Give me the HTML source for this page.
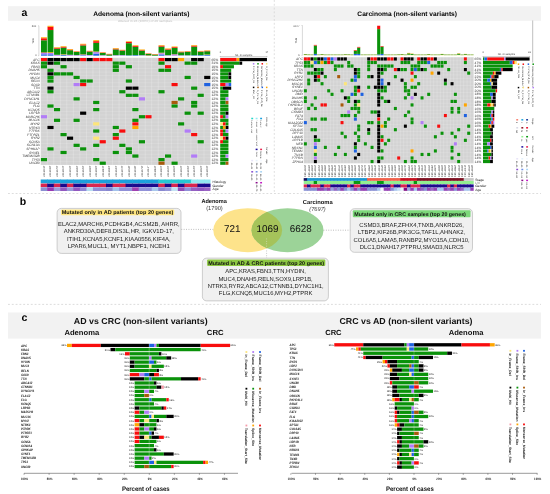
<!DOCTYPE html>
<html lang="en">
<head>
<meta charset="utf-8">
<title>Adenoma vs carcinoma non-silent variants</title>
<style>html,body{margin:0;padding:0;background:#fff}svg{display:block}text{white-space:pre;text-rendering:geometricPrecision}</style>
</head>
<body>
<svg width="550" height="494" viewBox="0 0 550 494" font-family='&quot;Liberation Sans&quot;, Arial, sans-serif'>
<rect x="0" y="0" width="550" height="494" fill="#ffffff"/>
<rect x="8" y="6.2" width="533" height="14.6" fill="#f2f2f2"/>
<rect x="8" y="312.5" width="533" height="26.1" fill="#f2f2f2"/>
<line x1="274.3" y1="0" x2="274.3" y2="192" stroke="#d2d2d2" stroke-width="0.7" stroke-dasharray="1.9 1.9"/>
<line x1="8" y1="193.5" x2="541" y2="193.5" stroke="#cfcfcf" stroke-width="0.7" stroke-dasharray="1.9 1.9"/>
<line x1="8" y1="304.4" x2="541" y2="304.4" stroke="#cfcfcf" stroke-width="0.7" stroke-dasharray="1.9 1.9"/>
<text x="21.6" y="16.4" font-size="10.5" font-weight="bold">a</text>
<text x="19.8" y="204.8" font-size="10.5" font-weight="bold">b</text>
<text x="21.4" y="320.6" font-size="10.5" font-weight="bold">c</text>
<text x="141.3" y="15.6" font-size="6.5" text-anchor="middle" font-weight="bold" textLength="96.2" lengthAdjust="spacingAndGlyphs">Adenoma (non-silent variants)</text>
<text x="407.2" y="15.6" font-size="6.5" text-anchor="middle" font-weight="bold" textLength="99.7" lengthAdjust="spacingAndGlyphs">Carcinoma (non-silent variants)</text>
<text x="145.5" y="22.1" font-size="2.9" text-anchor="middle" fill="#aaa" opacity="0.75" textLength="55" lengthAdjust="spacingAndGlyphs">Altered in 26 (100%) of 26 samples.</text>
<rect x="40.7" y="57.8" width="169.81" height="107.19" fill="#d3d3d3"/>
<path d="M40.7 57.8V164.99M47.23 57.8V164.99M53.76 57.8V164.99M60.29 57.8V164.99M66.82 57.8V164.99M73.36 57.8V164.99M79.89 57.8V164.99M86.42 57.8V164.99M92.95 57.8V164.99M99.48 57.8V164.99M106.01 57.8V164.99M112.54 57.8V164.99M119.07 57.8V164.99M125.6 57.8V164.99M132.13 57.8V164.99M138.66 57.8V164.99M145.2 57.8V164.99M151.73 57.8V164.99M158.26 57.8V164.99M164.79 57.8V164.99M171.32 57.8V164.99M177.85 57.8V164.99M184.38 57.8V164.99M190.91 57.8V164.99M197.44 57.8V164.99M203.98 57.8V164.99M210.51 57.8V164.99" stroke="#fff" stroke-width="0.42" fill="none" opacity="0.5"/>
<path d="M40.7 57.8H210.51M40.7 61.37H210.51M40.7 64.95H210.51M40.7 68.52H210.51M40.7 72.09H210.51M40.7 75.66H210.51M40.7 79.24H210.51M40.7 82.81H210.51M40.7 86.38H210.51M40.7 89.96H210.51M40.7 93.53H210.51M40.7 97.1H210.51M40.7 100.68H210.51M40.7 104.25H210.51M40.7 107.82H210.51M40.7 111.39H210.51M40.7 114.97H210.51M40.7 118.54H210.51M40.7 122.11H210.51M40.7 125.69H210.51M40.7 129.26H210.51M40.7 132.83H210.51M40.7 136.41H210.51M40.7 139.98H210.51M40.7 143.55H210.51M40.7 147.12H210.51M40.7 150.7H210.51M40.7 154.27H210.51M40.7 157.84H210.51M40.7 161.42H210.51M40.7 164.99H210.51" stroke="#fff" stroke-width="0.36" fill="none" opacity="0.4"/>
<rect x="40.91" y="57.98" width="6.11" height="3.21" fill="#f80d0d"/>
<rect x="47.44" y="57.98" width="6.11" height="3.21" fill="#000000"/>
<rect x="53.97" y="57.98" width="6.11" height="3.21" fill="#000000"/>
<rect x="60.5" y="57.98" width="6.11" height="3.21" fill="#000000"/>
<rect x="67.03" y="57.98" width="6.11" height="3.21" fill="#000000"/>
<rect x="73.56" y="57.98" width="6.11" height="3.21" fill="#000000"/>
<rect x="80.1" y="57.98" width="6.11" height="3.21" fill="#f80d0d"/>
<rect x="86.63" y="57.98" width="6.11" height="3.21" fill="#000000"/>
<rect x="93.16" y="57.98" width="6.11" height="3.21" fill="#f80d0d"/>
<rect x="99.69" y="57.98" width="6.11" height="3.21" fill="#f80d0d"/>
<rect x="106.22" y="57.98" width="6.11" height="3.21" fill="#f80d0d"/>
<rect x="158.47" y="57.98" width="6.11" height="3.21" fill="#f80d0d"/>
<rect x="165" y="57.98" width="6.11" height="3.21" fill="#000000"/>
<rect x="171.53" y="57.98" width="6.11" height="3.21" fill="#000000"/>
<rect x="178.06" y="57.98" width="6.11" height="3.21" fill="#ffa500"/>
<rect x="191.12" y="57.98" width="6.11" height="3.21" fill="#000000"/>
<rect x="197.65" y="57.98" width="6.11" height="3.21" fill="#000000"/>
<rect x="40.91" y="61.55" width="6.11" height="3.21" fill="#0a920a"/>
<rect x="47.44" y="61.55" width="6.11" height="3.21" fill="#000000"/>
<rect x="53.97" y="61.55" width="6.11" height="3.21" fill="#0a920a"/>
<rect x="112.75" y="61.55" width="6.11" height="3.21" fill="#0a920a"/>
<rect x="119.28" y="61.55" width="6.11" height="3.21" fill="#0a920a"/>
<rect x="158.47" y="61.55" width="6.11" height="3.21" fill="#0a920a"/>
<rect x="184.59" y="61.55" width="6.11" height="3.21" fill="#0a920a"/>
<rect x="191.12" y="61.55" width="6.11" height="3.21" fill="#0a920a"/>
<rect x="40.91" y="65.13" width="6.11" height="3.21" fill="#0a920a"/>
<rect x="60.5" y="65.13" width="6.11" height="3.21" fill="#0a920a"/>
<rect x="112.75" y="65.13" width="6.11" height="3.21" fill="#0a920a"/>
<rect x="125.81" y="65.13" width="6.11" height="3.21" fill="#0a920a"/>
<rect x="165" y="65.13" width="6.11" height="3.21" fill="#f80d0d"/>
<rect x="47.44" y="68.7" width="6.11" height="3.21" fill="#0a920a"/>
<rect x="112.75" y="68.7" width="6.11" height="3.21" fill="#0a920a"/>
<rect x="158.47" y="68.7" width="6.11" height="3.21" fill="#0a920a"/>
<rect x="165" y="68.7" width="6.11" height="3.21" fill="#0a920a"/>
<rect x="47.44" y="72.27" width="6.11" height="3.21" fill="#000000"/>
<rect x="53.97" y="72.27" width="6.11" height="3.21" fill="#0a920a"/>
<rect x="60.5" y="72.27" width="6.11" height="3.21" fill="#0a920a"/>
<rect x="67.03" y="72.27" width="6.11" height="3.21" fill="#0a920a"/>
<rect x="47.44" y="75.84" width="6.11" height="3.21" fill="#0a920a"/>
<rect x="73.56" y="75.84" width="6.11" height="3.21" fill="#0a920a"/>
<rect x="184.59" y="75.84" width="6.11" height="3.21" fill="#0a920a"/>
<rect x="204.19" y="75.84" width="6.11" height="3.21" fill="#000000"/>
<rect x="47.44" y="79.42" width="6.11" height="3.21" fill="#0a920a"/>
<rect x="80.1" y="79.42" width="6.11" height="3.21" fill="#0a920a"/>
<rect x="86.63" y="79.42" width="6.11" height="3.21" fill="#0a920a"/>
<rect x="125.81" y="79.42" width="6.11" height="3.21" fill="#0a920a"/>
<rect x="73.56" y="82.99" width="6.11" height="3.21" fill="#b27cf7"/>
<rect x="80.1" y="82.99" width="6.11" height="3.21" fill="#f80d0d"/>
<rect x="171.53" y="82.99" width="6.11" height="3.21" fill="#f80d0d"/>
<rect x="204.19" y="82.99" width="6.11" height="3.21" fill="#1f62e0"/>
<rect x="47.44" y="86.56" width="6.11" height="3.21" fill="#000000"/>
<rect x="125.81" y="86.56" width="6.11" height="3.21" fill="#000000"/>
<rect x="132.34" y="86.56" width="6.11" height="3.21" fill="#000000"/>
<rect x="191.12" y="86.56" width="6.11" height="3.21" fill="#0a920a"/>
<rect x="47.44" y="90.14" width="6.11" height="3.21" fill="#0a920a"/>
<rect x="119.28" y="90.14" width="6.11" height="3.21" fill="#0a920a"/>
<rect x="158.47" y="90.14" width="6.11" height="3.21" fill="#0a920a"/>
<rect x="125.81" y="93.71" width="6.11" height="3.21" fill="#0a920a"/>
<rect x="132.34" y="93.71" width="6.11" height="3.21" fill="#0a920a"/>
<rect x="197.65" y="93.71" width="6.11" height="3.21" fill="#0a920a"/>
<rect x="73.56" y="97.28" width="6.11" height="3.21" fill="#0a920a"/>
<rect x="138.88" y="97.28" width="6.11" height="3.21" fill="#b27cf7"/>
<rect x="178.06" y="97.28" width="6.11" height="3.21" fill="#0a920a"/>
<rect x="93.16" y="100.86" width="6.11" height="3.21" fill="#0a920a"/>
<rect x="171.53" y="100.86" width="6.11" height="3.21" fill="#a85a0c"/>
<rect x="191.12" y="100.86" width="6.11" height="3.21" fill="#0a920a"/>
<rect x="47.44" y="104.43" width="6.11" height="3.21" fill="#0a920a"/>
<rect x="171.53" y="104.43" width="6.11" height="3.21" fill="#0a920a"/>
<rect x="191.12" y="104.43" width="6.11" height="3.21" fill="#0a920a"/>
<rect x="53.97" y="108" width="6.11" height="3.21" fill="#0a920a"/>
<rect x="93.16" y="108" width="6.11" height="3.21" fill="#0a920a"/>
<rect x="132.34" y="108" width="6.11" height="3.21" fill="#0a920a"/>
<rect x="80.1" y="111.58" width="6.11" height="3.21" fill="#000000"/>
<rect x="184.59" y="111.58" width="6.11" height="3.21" fill="#0a920a"/>
<rect x="197.65" y="111.58" width="6.11" height="3.21" fill="#0a920a"/>
<rect x="40.91" y="115.15" width="6.11" height="3.21" fill="#b27cf7"/>
<rect x="138.88" y="115.15" width="6.11" height="3.21" fill="#0a920a"/>
<rect x="145.41" y="115.15" width="6.11" height="3.21" fill="#f80d0d"/>
<rect x="53.97" y="118.72" width="6.11" height="3.21" fill="#0a920a"/>
<rect x="73.56" y="118.72" width="6.11" height="3.21" fill="#0a920a"/>
<rect x="132.34" y="118.72" width="6.11" height="3.21" fill="#0a920a"/>
<rect x="93.16" y="122.29" width="6.11" height="3.21" fill="#fde57a"/>
<rect x="132.34" y="122.29" width="6.11" height="3.21" fill="#f80d0d"/>
<rect x="178.06" y="122.29" width="6.11" height="3.21" fill="#0a920a"/>
<rect x="47.44" y="125.87" width="6.11" height="3.21" fill="#000000"/>
<rect x="112.75" y="125.87" width="6.11" height="3.21" fill="#0a920a"/>
<rect x="132.34" y="125.87" width="6.11" height="3.21" fill="#ffa500"/>
<rect x="93.16" y="129.44" width="6.11" height="3.21" fill="#0a920a"/>
<rect x="119.28" y="129.44" width="6.11" height="3.21" fill="#f80d0d"/>
<rect x="184.59" y="129.44" width="6.11" height="3.21" fill="#b27cf7"/>
<rect x="60.5" y="133.01" width="6.11" height="3.21" fill="#0a920a"/>
<rect x="112.75" y="133.01" width="6.11" height="3.21" fill="#0a920a"/>
<rect x="191.12" y="133.01" width="6.11" height="3.21" fill="#f80d0d"/>
<rect x="67.03" y="136.59" width="6.11" height="3.21" fill="#000000"/>
<rect x="93.16" y="136.59" width="6.11" height="3.21" fill="#fde57a"/>
<rect x="112.75" y="136.59" width="6.11" height="3.21" fill="#f80d0d"/>
<rect x="99.69" y="140.16" width="6.11" height="3.21" fill="#f80d0d"/>
<rect x="138.88" y="140.16" width="6.11" height="3.21" fill="#0a920a"/>
<rect x="197.65" y="140.16" width="6.11" height="3.21" fill="#0a920a"/>
<rect x="73.56" y="143.73" width="6.11" height="3.21" fill="#0a920a"/>
<rect x="93.16" y="143.73" width="6.11" height="3.21" fill="#0a920a"/>
<rect x="119.28" y="143.73" width="6.11" height="3.21" fill="#0a920a"/>
<rect x="47.44" y="147.31" width="6.11" height="3.21" fill="#0a920a"/>
<rect x="80.1" y="147.31" width="6.11" height="3.21" fill="#0a920a"/>
<rect x="125.81" y="147.31" width="6.11" height="3.21" fill="#0a920a"/>
<rect x="60.5" y="150.88" width="6.11" height="3.21" fill="#0a920a"/>
<rect x="112.75" y="150.88" width="6.11" height="3.21" fill="#0a920a"/>
<rect x="125.81" y="150.88" width="6.11" height="3.21" fill="#0a920a"/>
<rect x="132.34" y="154.45" width="6.11" height="3.21" fill="#0a920a"/>
<rect x="165" y="154.45" width="6.11" height="3.21" fill="#0a920a"/>
<rect x="191.12" y="154.45" width="6.11" height="3.21" fill="#b27cf7"/>
<rect x="40.91" y="158.02" width="6.11" height="3.21" fill="#0a920a"/>
<rect x="93.16" y="158.02" width="6.11" height="3.21" fill="#0a920a"/>
<rect x="158.47" y="158.02" width="6.11" height="3.21" fill="#0a920a"/>
<rect x="99.69" y="161.6" width="6.11" height="3.21" fill="#0a920a"/>
<rect x="158.47" y="161.6" width="6.11" height="3.21" fill="#a85a0c"/>
<rect x="171.53" y="161.6" width="6.11" height="3.21" fill="#0a920a"/>
<rect x="41" y="54.3" width="5.93" height="1.4" fill="#1f62e0"/>
<rect x="41" y="52.8" width="5.93" height="1.5" fill="#b27cf7"/>
<rect x="41" y="52.2" width="5.93" height="0.6" fill="#a85a0c"/>
<rect x="41" y="40.27" width="5.93" height="11.93" fill="#0a920a"/>
<rect x="41" y="38.25" width="5.93" height="2.02" fill="#f80d0d"/>
<rect x="41" y="37.3" width="5.93" height="0.95" fill="#ffa500"/>
<rect x="47.53" y="54.3" width="5.93" height="1.4" fill="#1f62e0"/>
<rect x="47.53" y="53" width="5.93" height="1.3" fill="#b27cf7"/>
<rect x="47.53" y="52.2" width="5.93" height="0.8" fill="#ffa500"/>
<rect x="47.53" y="30.04" width="5.93" height="22.16" fill="#0a920a"/>
<rect x="47.53" y="26.75" width="5.93" height="3.29" fill="#f80d0d"/>
<rect x="47.53" y="25.8" width="5.93" height="0.95" fill="#ffa500"/>
<rect x="54.06" y="54.8" width="5.93" height="0.9" fill="#b27cf7"/>
<rect x="54.06" y="48.66" width="5.93" height="6.14" fill="#0a920a"/>
<rect x="54.06" y="47.95" width="5.93" height="0.71" fill="#f80d0d"/>
<rect x="54.06" y="47.3" width="5.93" height="0.65" fill="#ffa500"/>
<rect x="60.59" y="54.7" width="5.93" height="1" fill="#1f62e0"/>
<rect x="60.59" y="54.2" width="5.93" height="0.5" fill="#ffa500"/>
<rect x="60.59" y="47.66" width="5.93" height="6.54" fill="#0a920a"/>
<rect x="60.59" y="46.85" width="5.93" height="0.81" fill="#f80d0d"/>
<rect x="60.59" y="46.2" width="5.93" height="0.65" fill="#ffa500"/>
<rect x="67.12" y="54.8" width="5.93" height="0.9" fill="#b27cf7"/>
<rect x="67.12" y="50.22" width="5.93" height="4.58" fill="#0a920a"/>
<rect x="67.12" y="49.65" width="5.93" height="0.57" fill="#f80d0d"/>
<rect x="67.12" y="49" width="5.93" height="0.65" fill="#ffa500"/>
<rect x="73.66" y="55.1" width="5.93" height="0.6" fill="#b27cf7"/>
<rect x="73.66" y="52" width="5.93" height="3.1" fill="#0a920a"/>
<rect x="73.66" y="51.6" width="5.93" height="0.4" fill="#f80d0d"/>
<rect x="73.66" y="51.2" width="5.93" height="0.4" fill="#ffa500"/>
<rect x="80.19" y="55.2" width="5.93" height="0.5" fill="#1f62e0"/>
<rect x="80.19" y="54.7" width="5.93" height="0.5" fill="#b27cf7"/>
<rect x="80.19" y="54.2" width="5.93" height="0.5" fill="#a85a0c"/>
<rect x="80.19" y="45.46" width="5.93" height="8.74" fill="#0a920a"/>
<rect x="80.19" y="44.45" width="5.93" height="1.01" fill="#f80d0d"/>
<rect x="80.19" y="43.8" width="5.93" height="0.65" fill="#ffa500"/>
<rect x="86.72" y="55" width="5.93" height="0.7" fill="#b27cf7"/>
<rect x="86.72" y="51.62" width="5.93" height="3.38" fill="#0a920a"/>
<rect x="86.72" y="51.2" width="5.93" height="0.42" fill="#f80d0d"/>
<rect x="86.72" y="50.8" width="5.93" height="0.4" fill="#ffa500"/>
<rect x="93.25" y="53.6" width="5.93" height="2.1" fill="#1f62e0"/>
<rect x="93.25" y="52.1" width="5.93" height="1.5" fill="#b27cf7"/>
<rect x="93.25" y="51.5" width="5.93" height="0.6" fill="#ffa500"/>
<rect x="93.25" y="42.85" width="5.93" height="8.65" fill="#0a920a"/>
<rect x="93.25" y="41.15" width="5.93" height="1.7" fill="#f80d0d"/>
<rect x="93.25" y="40.2" width="5.93" height="0.95" fill="#ffa500"/>
<rect x="99.78" y="55.2" width="5.93" height="0.5" fill="#b27cf7"/>
<rect x="99.78" y="53" width="5.93" height="2.2" fill="#0a920a"/>
<rect x="99.78" y="52.6" width="5.93" height="0.4" fill="#f80d0d"/>
<rect x="99.78" y="52.2" width="5.93" height="0.4" fill="#ffa500"/>
<rect x="106.31" y="54.45" width="5.93" height="1.25" fill="#0a920a"/>
<rect x="106.31" y="54.1" width="5.93" height="0.35" fill="#f80d0d"/>
<rect x="106.31" y="53.8" width="5.93" height="0.3" fill="#ffa500"/>
<rect x="112.84" y="55.2" width="5.93" height="0.5" fill="#b27cf7"/>
<rect x="112.84" y="49.4" width="5.93" height="5.8" fill="#0a920a"/>
<rect x="112.84" y="48.75" width="5.93" height="0.65" fill="#f80d0d"/>
<rect x="112.84" y="48.1" width="5.93" height="0.65" fill="#ffa500"/>
<rect x="119.37" y="55.1" width="5.93" height="0.6" fill="#b27cf7"/>
<rect x="119.37" y="50.7" width="5.93" height="4.4" fill="#0a920a"/>
<rect x="119.37" y="50.2" width="5.93" height="0.5" fill="#f80d0d"/>
<rect x="119.37" y="49.8" width="5.93" height="0.4" fill="#ffa500"/>
<rect x="125.9" y="55.3" width="5.93" height="0.4" fill="#1f62e0"/>
<rect x="125.9" y="43.17" width="5.93" height="12.13" fill="#0a920a"/>
<rect x="125.9" y="41.95" width="5.93" height="1.22" fill="#f80d0d"/>
<rect x="125.9" y="41.3" width="5.93" height="0.65" fill="#ffa500"/>
<rect x="132.43" y="55.1" width="5.93" height="0.6" fill="#1f62e0"/>
<rect x="132.43" y="46.83" width="5.93" height="8.27" fill="#0a920a"/>
<rect x="132.43" y="45.95" width="5.93" height="0.88" fill="#f80d0d"/>
<rect x="132.43" y="45.3" width="5.93" height="0.65" fill="#ffa500"/>
<rect x="138.97" y="55.2" width="5.93" height="0.5" fill="#b27cf7"/>
<rect x="138.97" y="50.68" width="5.93" height="4.52" fill="#0a920a"/>
<rect x="138.97" y="50.15" width="5.93" height="0.53" fill="#f80d0d"/>
<rect x="138.97" y="49.5" width="5.93" height="0.65" fill="#ffa500"/>
<rect x="145.5" y="55.2" width="5.93" height="0.5" fill="#a85a0c"/>
<rect x="145.5" y="53.95" width="5.93" height="1.25" fill="#0a920a"/>
<rect x="145.5" y="53.6" width="5.93" height="0.35" fill="#f80d0d"/>
<rect x="145.5" y="53.3" width="5.93" height="0.3" fill="#ffa500"/>
<rect x="152.03" y="54.65" width="5.93" height="1.05" fill="#0a920a"/>
<rect x="152.03" y="54.3" width="5.93" height="0.35" fill="#f80d0d"/>
<rect x="152.03" y="54" width="5.93" height="0.3" fill="#ffa500"/>
<rect x="158.56" y="54.4" width="5.93" height="1.3" fill="#1f62e0"/>
<rect x="158.56" y="53.2" width="5.93" height="1.2" fill="#b27cf7"/>
<rect x="158.56" y="52.7" width="5.93" height="0.5" fill="#ffa500"/>
<rect x="158.56" y="46.65" width="5.93" height="6.05" fill="#0a920a"/>
<rect x="158.56" y="45.75" width="5.93" height="0.9" fill="#f80d0d"/>
<rect x="158.56" y="45.1" width="5.93" height="0.65" fill="#ffa500"/>
<rect x="165.09" y="55.2" width="5.93" height="0.5" fill="#b27cf7"/>
<rect x="165.09" y="49.76" width="5.93" height="5.44" fill="#0a920a"/>
<rect x="165.09" y="49.15" width="5.93" height="0.61" fill="#f80d0d"/>
<rect x="165.09" y="48.5" width="5.93" height="0.65" fill="#ffa500"/>
<rect x="171.62" y="54.4" width="5.93" height="1.3" fill="#b27cf7"/>
<rect x="171.62" y="54.1" width="5.93" height="0.3" fill="#a85a0c"/>
<rect x="171.62" y="47.93" width="5.93" height="6.17" fill="#0a920a"/>
<rect x="171.62" y="47.15" width="5.93" height="0.78" fill="#f80d0d"/>
<rect x="171.62" y="46.5" width="5.93" height="0.65" fill="#ffa500"/>
<rect x="178.15" y="55.3" width="5.93" height="0.4" fill="#b27cf7"/>
<rect x="178.15" y="52.3" width="5.93" height="3" fill="#0a920a"/>
<rect x="178.15" y="51.9" width="5.93" height="0.4" fill="#f80d0d"/>
<rect x="178.15" y="51.5" width="5.93" height="0.4" fill="#ffa500"/>
<rect x="184.68" y="55.3" width="5.93" height="0.4" fill="#b27cf7"/>
<rect x="184.68" y="51.9" width="5.93" height="3.4" fill="#0a920a"/>
<rect x="184.68" y="51.5" width="5.93" height="0.4" fill="#f80d0d"/>
<rect x="184.68" y="51.1" width="5.93" height="0.4" fill="#ffa500"/>
<rect x="191.21" y="55.2" width="5.93" height="0.5" fill="#1f62e0"/>
<rect x="191.21" y="46.65" width="5.93" height="8.55" fill="#0a920a"/>
<rect x="191.21" y="45.75" width="5.93" height="0.9" fill="#f80d0d"/>
<rect x="191.21" y="45.1" width="5.93" height="0.65" fill="#ffa500"/>
<rect x="197.74" y="55.1" width="5.93" height="0.6" fill="#1f62e0"/>
<rect x="197.74" y="51.71" width="5.93" height="3.39" fill="#0a920a"/>
<rect x="197.74" y="51.3" width="5.93" height="0.41" fill="#f80d0d"/>
<rect x="197.74" y="50.9" width="5.93" height="0.4" fill="#ffa500"/>
<rect x="204.28" y="54.9" width="5.93" height="0.8" fill="#1f62e0"/>
<rect x="204.28" y="54.5" width="5.93" height="0.4" fill="#ffa500"/>
<rect x="204.28" y="51.25" width="5.93" height="3.25" fill="#0a920a"/>
<rect x="204.28" y="50.8" width="5.93" height="0.45" fill="#f80d0d"/>
<rect x="204.28" y="50.4" width="5.93" height="0.4" fill="#ffa500"/>
<line x1="38.9" y1="25.8" x2="38.9" y2="55.7" stroke="#a8a8a8" stroke-width="0.45"/>
<line x1="38" y1="25.8" x2="38.9" y2="25.8" stroke="#9a9a9a" stroke-width="0.4"/>
<line x1="38" y1="55.7" x2="38.9" y2="55.7" stroke="#9a9a9a" stroke-width="0.4"/>
<text x="36.2" y="27" font-size="2.6" text-anchor="end" fill="#444">200</text>
<text x="36.6" y="56.3" font-size="2.6" text-anchor="end" fill="#444">0</text>
<text x="33.8" y="41" font-size="2.6" text-anchor="middle" fill="#444" transform="rotate(-90 33.8 41)">TMB</text>
<text x="39.7" y="60.74" font-size="3.3" text-anchor="end" font-style="italic" fill="#2a2a2a">APC</text>
<text x="211.4" y="60.74" font-size="3.4" fill="#333">65%</text>
<text x="39.7" y="64.31" font-size="3.3" text-anchor="end" font-style="italic" fill="#2a2a2a">KRAS</text>
<text x="211.4" y="64.31" font-size="3.4" fill="#333">31%</text>
<text x="39.7" y="67.88" font-size="3.3" text-anchor="end" font-style="italic" fill="#2a2a2a">FBN3</text>
<text x="211.4" y="67.88" font-size="3.4" fill="#333">19%</text>
<text x="39.7" y="71.46" font-size="3.3" text-anchor="end" font-style="italic" fill="#2a2a2a">DNAH5</text>
<text x="211.4" y="71.46" font-size="3.4" fill="#333">15%</text>
<text x="39.7" y="75.03" font-size="3.3" text-anchor="end" font-style="italic" fill="#2a2a2a">HYDIN</text>
<text x="211.4" y="75.03" font-size="3.4" fill="#333">15%</text>
<text x="39.7" y="78.6" font-size="3.3" text-anchor="end" font-style="italic" fill="#2a2a2a">MUC4</text>
<text x="211.4" y="78.6" font-size="3.4" fill="#333">15%</text>
<text x="39.7" y="82.17" font-size="3.3" text-anchor="end" font-style="italic" fill="#2a2a2a">RELN</text>
<text x="211.4" y="82.17" font-size="3.4" fill="#333">15%</text>
<text x="39.7" y="85.75" font-size="3.3" text-anchor="end" font-style="italic" fill="#2a2a2a">SOX9</text>
<text x="211.4" y="85.75" font-size="3.4" fill="#333">15%</text>
<text x="39.7" y="89.32" font-size="3.3" text-anchor="end" font-style="italic" fill="#2a2a2a">TTN</text>
<text x="211.4" y="89.32" font-size="3.4" fill="#333">15%</text>
<text x="39.7" y="92.89" font-size="3.3" text-anchor="end" font-style="italic" fill="#2a2a2a">ABCA12</text>
<text x="211.4" y="92.89" font-size="3.4" fill="#333">12%</text>
<text x="39.7" y="96.47" font-size="3.3" text-anchor="end" font-style="italic" fill="#2a2a2a">CTNNB1</text>
<text x="211.4" y="96.47" font-size="3.4" fill="#333">12%</text>
<text x="39.7" y="100.04" font-size="3.3" text-anchor="end" font-style="italic" fill="#2a2a2a">DYNC1H1</text>
<text x="211.4" y="100.04" font-size="3.4" fill="#333">12%</text>
<text x="39.7" y="103.61" font-size="3.3" text-anchor="end" font-style="italic" fill="#2a2a2a">ELAC2</text>
<text x="211.4" y="103.61" font-size="3.4" fill="#333">12%</text>
<text x="39.7" y="107.19" font-size="3.3" text-anchor="end" font-style="italic" fill="#2a2a2a">FLG</text>
<text x="211.4" y="107.19" font-size="3.4" fill="#333">12%</text>
<text x="39.7" y="110.76" font-size="3.3" text-anchor="end" font-style="italic" fill="#2a2a2a">KCNQ5</text>
<text x="211.4" y="110.76" font-size="3.4" fill="#333">12%</text>
<text x="39.7" y="114.33" font-size="3.3" text-anchor="end" font-style="italic" fill="#2a2a2a">LRP1B</text>
<text x="211.4" y="114.33" font-size="3.4" fill="#333">12%</text>
<text x="39.7" y="117.9" font-size="3.3" text-anchor="end" font-style="italic" fill="#2a2a2a">MARCH6</text>
<text x="211.4" y="117.9" font-size="3.4" fill="#333">12%</text>
<text x="39.7" y="121.48" font-size="3.3" text-anchor="end" font-style="italic" fill="#2a2a2a">MUC16</text>
<text x="211.4" y="121.48" font-size="3.4" fill="#333">12%</text>
<text x="39.7" y="125.05" font-size="3.3" text-anchor="end" font-style="italic" fill="#2a2a2a">MYH2</text>
<text x="211.4" y="125.05" font-size="3.4" fill="#333">12%</text>
<text x="39.7" y="128.62" font-size="3.3" text-anchor="end" font-style="italic" fill="#2a2a2a">NTRK3</text>
<text x="211.4" y="128.62" font-size="3.4" fill="#333">12%</text>
<text x="39.7" y="132.2" font-size="3.3" text-anchor="end" font-style="italic" fill="#2a2a2a">PTPRK</text>
<text x="211.4" y="132.2" font-size="3.4" fill="#333">12%</text>
<text x="39.7" y="135.77" font-size="3.3" text-anchor="end" font-style="italic" fill="#2a2a2a">PTPRZ1</text>
<text x="211.4" y="135.77" font-size="3.4" fill="#333">12%</text>
<text x="39.7" y="139.34" font-size="3.3" text-anchor="end" font-style="italic" fill="#2a2a2a">RYR2</text>
<text x="211.4" y="139.34" font-size="3.4" fill="#333">12%</text>
<text x="39.7" y="142.92" font-size="3.3" text-anchor="end" font-style="italic" fill="#2a2a2a">SCN5A</text>
<text x="211.4" y="142.92" font-size="3.4" fill="#333">12%</text>
<text x="39.7" y="146.49" font-size="3.3" text-anchor="end" font-style="italic" fill="#2a2a2a">SCN10A</text>
<text x="211.4" y="146.49" font-size="3.4" fill="#333">12%</text>
<text x="39.7" y="150.06" font-size="3.3" text-anchor="end" font-style="italic" fill="#2a2a2a">SPHKAP</text>
<text x="211.4" y="150.06" font-size="3.4" fill="#333">12%</text>
<text x="39.7" y="153.63" font-size="3.3" text-anchor="end" font-style="italic" fill="#2a2a2a">SYNE1</text>
<text x="211.4" y="153.63" font-size="3.4" fill="#333">12%</text>
<text x="39.7" y="157.21" font-size="3.3" text-anchor="end" font-style="italic" fill="#2a2a2a">TMEM132B</text>
<text x="211.4" y="157.21" font-size="3.4" fill="#333">12%</text>
<text x="39.7" y="160.78" font-size="3.3" text-anchor="end" font-style="italic" fill="#2a2a2a">TP53</text>
<text x="211.4" y="160.78" font-size="3.4" fill="#333">12%</text>
<text x="39.7" y="164.35" font-size="3.3" text-anchor="end" font-style="italic" fill="#2a2a2a">UNC80</text>
<text x="211.4" y="164.35" font-size="3.4" fill="#333">12%</text>
<rect x="220.2" y="57.98" width="16.5" height="3.21" fill="#f80d0d"/>
<rect x="236.7" y="57.98" width="2.75" height="3.21" fill="#ffa500"/>
<rect x="239.45" y="57.98" width="27.5" height="3.21" fill="#000000"/>
<rect x="220.2" y="61.55" width="19.25" height="3.21" fill="#0a920a"/>
<rect x="239.45" y="61.55" width="2.75" height="3.21" fill="#000000"/>
<rect x="220.2" y="65.13" width="2.75" height="3.21" fill="#f80d0d"/>
<rect x="222.95" y="65.13" width="11" height="3.21" fill="#0a920a"/>
<rect x="220.2" y="68.7" width="11" height="3.21" fill="#0a920a"/>
<rect x="220.2" y="72.27" width="8.25" height="3.21" fill="#0a920a"/>
<rect x="228.45" y="72.27" width="2.75" height="3.21" fill="#000000"/>
<rect x="220.2" y="75.84" width="8.25" height="3.21" fill="#0a920a"/>
<rect x="228.45" y="75.84" width="2.75" height="3.21" fill="#000000"/>
<rect x="220.2" y="79.42" width="11" height="3.21" fill="#0a920a"/>
<rect x="220.2" y="82.99" width="5.5" height="3.21" fill="#f80d0d"/>
<rect x="225.7" y="82.99" width="2.75" height="3.21" fill="#b27cf7"/>
<rect x="228.45" y="82.99" width="2.75" height="3.21" fill="#1f62e0"/>
<rect x="220.2" y="86.56" width="2.75" height="3.21" fill="#0a920a"/>
<rect x="222.95" y="86.56" width="8.25" height="3.21" fill="#000000"/>
<rect x="220.2" y="90.14" width="8.25" height="3.21" fill="#0a920a"/>
<rect x="220.2" y="93.71" width="8.25" height="3.21" fill="#0a920a"/>
<rect x="220.2" y="97.28" width="5.5" height="3.21" fill="#0a920a"/>
<rect x="225.7" y="97.28" width="2.75" height="3.21" fill="#b27cf7"/>
<rect x="220.2" y="100.86" width="5.5" height="3.21" fill="#0a920a"/>
<rect x="225.7" y="100.86" width="2.75" height="3.21" fill="#a85a0c"/>
<rect x="220.2" y="104.43" width="8.25" height="3.21" fill="#0a920a"/>
<rect x="220.2" y="108" width="8.25" height="3.21" fill="#0a920a"/>
<rect x="220.2" y="111.58" width="5.5" height="3.21" fill="#0a920a"/>
<rect x="225.7" y="111.58" width="2.75" height="3.21" fill="#000000"/>
<rect x="220.2" y="115.15" width="2.75" height="3.21" fill="#f80d0d"/>
<rect x="222.95" y="115.15" width="2.75" height="3.21" fill="#0a920a"/>
<rect x="225.7" y="115.15" width="2.75" height="3.21" fill="#b27cf7"/>
<rect x="220.2" y="118.72" width="8.25" height="3.21" fill="#0a920a"/>
<rect x="220.2" y="122.29" width="2.75" height="3.21" fill="#fde57a"/>
<rect x="222.95" y="122.29" width="2.75" height="3.21" fill="#f80d0d"/>
<rect x="225.7" y="122.29" width="2.75" height="3.21" fill="#0a920a"/>
<rect x="220.2" y="125.87" width="2.75" height="3.21" fill="#0a920a"/>
<rect x="222.95" y="125.87" width="2.75" height="3.21" fill="#ffa500"/>
<rect x="225.7" y="125.87" width="2.75" height="3.21" fill="#000000"/>
<rect x="220.2" y="129.44" width="2.75" height="3.21" fill="#f80d0d"/>
<rect x="222.95" y="129.44" width="2.75" height="3.21" fill="#0a920a"/>
<rect x="225.7" y="129.44" width="2.75" height="3.21" fill="#b27cf7"/>
<rect x="220.2" y="133.01" width="2.75" height="3.21" fill="#f80d0d"/>
<rect x="222.95" y="133.01" width="5.5" height="3.21" fill="#0a920a"/>
<rect x="220.2" y="136.59" width="2.75" height="3.21" fill="#fde57a"/>
<rect x="222.95" y="136.59" width="2.75" height="3.21" fill="#f80d0d"/>
<rect x="225.7" y="136.59" width="2.75" height="3.21" fill="#000000"/>
<rect x="220.2" y="140.16" width="2.75" height="3.21" fill="#f80d0d"/>
<rect x="222.95" y="140.16" width="5.5" height="3.21" fill="#0a920a"/>
<rect x="220.2" y="143.73" width="8.25" height="3.21" fill="#0a920a"/>
<rect x="220.2" y="147.31" width="8.25" height="3.21" fill="#0a920a"/>
<rect x="220.2" y="150.88" width="8.25" height="3.21" fill="#0a920a"/>
<rect x="220.2" y="154.45" width="5.5" height="3.21" fill="#0a920a"/>
<rect x="225.7" y="154.45" width="2.75" height="3.21" fill="#b27cf7"/>
<rect x="220.2" y="158.02" width="8.25" height="3.21" fill="#0a920a"/>
<rect x="220.2" y="161.6" width="5.5" height="3.21" fill="#0a920a"/>
<rect x="225.7" y="161.6" width="2.75" height="3.21" fill="#a85a0c"/>
<line x1="220.2" y1="56.8" x2="267" y2="56.8" stroke="#666" stroke-width="0.4"/>
<line x1="220.2" y1="56" x2="220.2" y2="56.8" stroke="#666" stroke-width="0.35"/>
<line x1="267" y1="56" x2="267" y2="56.8" stroke="#666" stroke-width="0.35"/>
<text x="243.6" y="55.6" font-size="2.6" text-anchor="middle" fill="#333">No. of samples</text>
<text x="220.4" y="53" font-size="2.5" text-anchor="middle" fill="#333">0</text>
<text x="266.8" y="53" font-size="2.5" text-anchor="middle" fill="#333">17</text>
<text x="44.87" y="176.7" font-size="2.6" fill="#222" transform="rotate(-90 44.87 176.7)" textLength="11" lengthAdjust="spacingAndGlyphs">AD-1001T</text>
<text x="51.4" y="176.7" font-size="2.6" fill="#222" transform="rotate(-90 51.4 176.7)" textLength="11" lengthAdjust="spacingAndGlyphs">AD-1038T</text>
<text x="57.93" y="176.7" font-size="2.6" fill="#222" transform="rotate(-90 57.93 176.7)" textLength="11" lengthAdjust="spacingAndGlyphs">AD-1075T</text>
<text x="64.46" y="176.7" font-size="2.6" fill="#222" transform="rotate(-90 64.46 176.7)" textLength="11" lengthAdjust="spacingAndGlyphs">AD-1015T</text>
<text x="70.99" y="176.7" font-size="2.6" fill="#222" transform="rotate(-90 70.99 176.7)" textLength="11" lengthAdjust="spacingAndGlyphs">AD-1052T</text>
<text x="77.52" y="176.7" font-size="2.6" fill="#222" transform="rotate(-90 77.52 176.7)" textLength="11" lengthAdjust="spacingAndGlyphs">AD-1089T</text>
<text x="84.05" y="176.7" font-size="2.6" fill="#222" transform="rotate(-90 84.05 176.7)" textLength="11" lengthAdjust="spacingAndGlyphs">AD-1029T</text>
<text x="90.58" y="176.7" font-size="2.6" fill="#222" transform="rotate(-90 90.58 176.7)" textLength="11" lengthAdjust="spacingAndGlyphs">AD-1066T</text>
<text x="97.11" y="176.7" font-size="2.6" fill="#222" transform="rotate(-90 97.11 176.7)" textLength="11" lengthAdjust="spacingAndGlyphs">AD-1006T</text>
<text x="103.64" y="176.7" font-size="2.6" fill="#222" transform="rotate(-90 103.64 176.7)" textLength="11" lengthAdjust="spacingAndGlyphs">AD-1043T</text>
<text x="110.18" y="176.7" font-size="2.6" fill="#222" transform="rotate(-90 110.18 176.7)" textLength="11" lengthAdjust="spacingAndGlyphs">AD-1080T</text>
<text x="116.71" y="176.7" font-size="2.6" fill="#222" transform="rotate(-90 116.71 176.7)" textLength="11" lengthAdjust="spacingAndGlyphs">AD-1020T</text>
<text x="123.24" y="176.7" font-size="2.6" fill="#222" transform="rotate(-90 123.24 176.7)" textLength="11" lengthAdjust="spacingAndGlyphs">AD-1057T</text>
<text x="129.77" y="176.7" font-size="2.6" fill="#222" transform="rotate(-90 129.77 176.7)" textLength="11" lengthAdjust="spacingAndGlyphs">AD-1094T</text>
<text x="136.3" y="176.7" font-size="2.6" fill="#222" transform="rotate(-90 136.3 176.7)" textLength="11" lengthAdjust="spacingAndGlyphs">AD-1034T</text>
<text x="142.83" y="176.7" font-size="2.6" fill="#222" transform="rotate(-90 142.83 176.7)" textLength="11" lengthAdjust="spacingAndGlyphs">AD-1071T</text>
<text x="149.36" y="176.7" font-size="2.6" fill="#222" transform="rotate(-90 149.36 176.7)" textLength="11" lengthAdjust="spacingAndGlyphs">AD-1011T</text>
<text x="155.89" y="176.7" font-size="2.6" fill="#222" transform="rotate(-90 155.89 176.7)" textLength="11" lengthAdjust="spacingAndGlyphs">AD-1048T</text>
<text x="162.42" y="176.7" font-size="2.6" fill="#222" transform="rotate(-90 162.42 176.7)" textLength="11" lengthAdjust="spacingAndGlyphs">AD-1085T</text>
<text x="168.95" y="176.7" font-size="2.6" fill="#222" transform="rotate(-90 168.95 176.7)" textLength="11" lengthAdjust="spacingAndGlyphs">AD-1025T</text>
<text x="175.49" y="176.7" font-size="2.6" fill="#222" transform="rotate(-90 175.49 176.7)" textLength="11" lengthAdjust="spacingAndGlyphs">AD-1062T</text>
<text x="182.02" y="176.7" font-size="2.6" fill="#222" transform="rotate(-90 182.02 176.7)" textLength="11" lengthAdjust="spacingAndGlyphs">AD-1002T</text>
<text x="188.55" y="176.7" font-size="2.6" fill="#222" transform="rotate(-90 188.55 176.7)" textLength="11" lengthAdjust="spacingAndGlyphs">AD-1039T</text>
<text x="195.08" y="176.7" font-size="2.6" fill="#222" transform="rotate(-90 195.08 176.7)" textLength="11" lengthAdjust="spacingAndGlyphs">AD-1076T</text>
<text x="201.61" y="176.7" font-size="2.6" fill="#222" transform="rotate(-90 201.61 176.7)" textLength="11" lengthAdjust="spacingAndGlyphs">AD-1016T</text>
<text x="208.14" y="176.7" font-size="2.6" fill="#222" transform="rotate(-90 208.14 176.7)" textLength="11" lengthAdjust="spacingAndGlyphs">AD-1053T</text>
<rect x="40.7" y="179.5" width="7.13" height="3.9" fill="#1ba0dc"/>
<rect x="40.7" y="183.6" width="7.13" height="3.5" fill="#d9264f"/>
<rect x="40.7" y="187.3" width="7.13" height="3.7" fill="#8a90d2"/>
<rect x="47.23" y="179.5" width="7.13" height="3.9" fill="#1ba0dc"/>
<rect x="47.23" y="183.6" width="7.13" height="3.5" fill="#1b0a8c"/>
<rect x="47.23" y="187.3" width="7.13" height="3.7" fill="#9638b2"/>
<rect x="53.76" y="179.5" width="7.13" height="3.9" fill="#1ba0dc"/>
<rect x="53.76" y="183.6" width="7.13" height="3.5" fill="#d9264f"/>
<rect x="53.76" y="187.3" width="7.13" height="3.7" fill="#9a9cda"/>
<rect x="60.29" y="179.5" width="7.13" height="3.9" fill="#1ba0dc"/>
<rect x="60.29" y="183.6" width="7.13" height="3.5" fill="#1b0a8c"/>
<rect x="60.29" y="187.3" width="7.13" height="3.7" fill="#9258c0"/>
<rect x="66.82" y="179.5" width="7.13" height="3.9" fill="#1ba0dc"/>
<rect x="66.82" y="183.6" width="7.13" height="3.5" fill="#d9264f"/>
<rect x="66.82" y="187.3" width="7.13" height="3.7" fill="#989ad8"/>
<rect x="73.36" y="179.5" width="7.13" height="3.9" fill="#1ba0dc"/>
<rect x="73.36" y="183.6" width="7.13" height="3.5" fill="#1b0a8c"/>
<rect x="73.36" y="187.3" width="7.13" height="3.7" fill="#9258c0"/>
<rect x="79.89" y="179.5" width="7.13" height="3.9" fill="#1ba0dc"/>
<rect x="79.89" y="183.6" width="7.13" height="3.5" fill="#1b0a8c"/>
<rect x="79.89" y="187.3" width="7.13" height="3.7" fill="#9088d6"/>
<rect x="86.42" y="179.5" width="7.13" height="3.9" fill="#1ba0dc"/>
<rect x="86.42" y="183.6" width="7.13" height="3.5" fill="#d9264f"/>
<rect x="86.42" y="187.3" width="7.13" height="3.7" fill="#b6dcf0"/>
<rect x="92.95" y="179.5" width="7.13" height="3.9" fill="#1ba0dc"/>
<rect x="92.95" y="183.6" width="7.13" height="3.5" fill="#d9264f"/>
<rect x="92.95" y="187.3" width="7.13" height="3.7" fill="#9090d6"/>
<rect x="99.48" y="179.5" width="7.13" height="3.9" fill="#1ba0dc"/>
<rect x="99.48" y="183.6" width="7.13" height="3.5" fill="#d9264f"/>
<rect x="99.48" y="187.3" width="7.13" height="3.7" fill="#9090d6"/>
<rect x="106.01" y="179.5" width="7.13" height="3.9" fill="#1ba0dc"/>
<rect x="106.01" y="183.6" width="7.13" height="3.5" fill="#1b0a8c"/>
<rect x="106.01" y="187.3" width="7.13" height="3.7" fill="#8888d0"/>
<rect x="112.54" y="179.5" width="7.13" height="3.9" fill="#1ba0dc"/>
<rect x="112.54" y="183.6" width="7.13" height="3.5" fill="#d9264f"/>
<rect x="112.54" y="187.3" width="7.13" height="3.7" fill="#a2c2ea"/>
<rect x="119.07" y="179.5" width="7.13" height="3.9" fill="#1ba0dc"/>
<rect x="119.07" y="183.6" width="7.13" height="3.5" fill="#d9264f"/>
<rect x="119.07" y="187.3" width="7.13" height="3.7" fill="#9090d8"/>
<rect x="125.6" y="179.5" width="7.13" height="3.9" fill="#1ba0dc"/>
<rect x="125.6" y="183.6" width="7.13" height="3.5" fill="#1b0a8c"/>
<rect x="125.6" y="187.3" width="7.13" height="3.7" fill="#9090d8"/>
<rect x="132.13" y="179.5" width="7.13" height="3.9" fill="#1ba0dc"/>
<rect x="132.13" y="183.6" width="7.13" height="3.5" fill="#1b0a8c"/>
<rect x="132.13" y="187.3" width="7.13" height="3.7" fill="#a040b0"/>
<rect x="138.66" y="179.5" width="7.13" height="3.9" fill="#1ba0dc"/>
<rect x="138.66" y="183.6" width="7.13" height="3.5" fill="#1b0a8c"/>
<rect x="138.66" y="187.3" width="7.13" height="3.7" fill="#9292d8"/>
<rect x="145.2" y="179.5" width="7.13" height="3.9" fill="#1ba0dc"/>
<rect x="145.2" y="183.6" width="7.13" height="3.5" fill="#1b0a8c"/>
<rect x="145.2" y="187.3" width="7.13" height="3.7" fill="#9090d8"/>
<rect x="151.73" y="179.5" width="7.13" height="3.9" fill="#1ba0dc"/>
<rect x="151.73" y="183.6" width="7.13" height="3.5" fill="#1b0a8c"/>
<rect x="151.73" y="187.3" width="7.13" height="3.7" fill="#a8c8ec"/>
<rect x="158.26" y="179.5" width="7.13" height="3.9" fill="#25c8d2"/>
<rect x="158.26" y="183.6" width="7.13" height="3.5" fill="#d9264f"/>
<rect x="158.26" y="187.3" width="7.13" height="3.7" fill="#8888d0"/>
<rect x="164.79" y="179.5" width="7.13" height="3.9" fill="#25c8d2"/>
<rect x="164.79" y="183.6" width="7.13" height="3.5" fill="#1b0a8c"/>
<rect x="164.79" y="187.3" width="7.13" height="3.7" fill="#9898d8"/>
<rect x="171.32" y="179.5" width="7.13" height="3.9" fill="#25c8d2"/>
<rect x="171.32" y="183.6" width="7.13" height="3.5" fill="#d9264f"/>
<rect x="171.32" y="187.3" width="7.13" height="3.7" fill="#c2e2f2"/>
<rect x="177.85" y="179.5" width="7.13" height="3.9" fill="#25c8d2"/>
<rect x="177.85" y="183.6" width="7.13" height="3.5" fill="#1b0a8c"/>
<rect x="177.85" y="187.3" width="7.13" height="3.7" fill="#9050b8"/>
<rect x="184.38" y="179.5" width="7.13" height="3.9" fill="#25c8d2"/>
<rect x="184.38" y="183.6" width="7.13" height="3.5" fill="#d9264f"/>
<rect x="184.38" y="187.3" width="7.13" height="3.7" fill="#9090d8"/>
<rect x="190.91" y="179.5" width="7.13" height="3.9" fill="#93e8f1"/>
<rect x="190.91" y="183.6" width="7.13" height="3.5" fill="#d9264f"/>
<rect x="190.91" y="187.3" width="7.13" height="3.7" fill="#9460c2"/>
<rect x="197.44" y="179.5" width="7.13" height="3.9" fill="#93e8f1"/>
<rect x="197.44" y="183.6" width="7.13" height="3.5" fill="#1b0a8c"/>
<rect x="197.44" y="187.3" width="7.13" height="3.7" fill="#9058c0"/>
<rect x="203.98" y="179.5" width="6.53" height="3.9" fill="#93e8f1"/>
<rect x="203.98" y="183.6" width="6.53" height="3.5" fill="#1b0a8c"/>
<rect x="203.98" y="187.3" width="6.53" height="3.7" fill="#9a64c4"/>
<text x="212.6" y="182.6" font-size="3.3" fill="#111">Histology</text>
<text x="212.6" y="186.5" font-size="3.3" fill="#111">Gender</text>
<text x="212.6" y="190.3" font-size="3.3" fill="#111">Age</text>
<rect x="252.85" y="63.05" width="1.5" height="1.5" fill="#b27cf7"/>
<text x="252.75" y="66.1" font-size="2.35" fill="#1a1a1a" transform="rotate(90 252.75 66.1)">Frame_Shift_Ins</text>
<rect x="257.25" y="63.05" width="1.5" height="1.5" fill="#0a920a"/>
<text x="257.15" y="66.1" font-size="2.35" fill="#1a1a1a" transform="rotate(90 257.15 66.1)">Missense_Mutation</text>
<rect x="261.55" y="63.05" width="1.5" height="1.5" fill="#f80d0d"/>
<text x="261.45" y="66.1" font-size="2.35" fill="#1a1a1a" transform="rotate(90 261.45 66.1)">Nonsense_Mutation</text>
<rect x="265.95" y="63.05" width="1.5" height="1.5" fill="#fde57a"/>
<text x="265.85" y="66.1" font-size="2.35" fill="#1a1a1a" transform="rotate(90 265.85 66.1)">In_Frame_Del</text>
<rect x="252.85" y="86.65" width="1.5" height="1.5" fill="#000000"/>
<text x="252.75" y="89.7" font-size="2.35" fill="#1a1a1a" transform="rotate(90 252.75 89.7)">Multi_Hit</text>
<rect x="257.25" y="86.65" width="1.5" height="1.5" fill="#a85a0c"/>
<text x="257.15" y="89.7" font-size="2.35" fill="#1a1a1a" transform="rotate(90 257.15 89.7)">In_Frame_Ins</text>
<rect x="261.55" y="86.65" width="1.5" height="1.5" fill="#1f62e0"/>
<text x="261.45" y="89.7" font-size="2.35" fill="#1a1a1a" transform="rotate(90 261.45 89.7)">Frame_Shift_Del</text>
<rect x="265.95" y="86.65" width="1.5" height="1.5" fill="#ffa500"/>
<text x="265.85" y="89.7" font-size="2.35" fill="#1a1a1a" transform="rotate(90 265.85 89.7)">Splice_Site</text>
<text x="265.5" y="116.9" font-size="2.3" fill="#333" transform="rotate(90 265.5 116.9)">Histology</text>
<rect x="260.15" y="117.75" width="1.9" height="1.5" fill="#1ba0dc"/>
<text x="260.27" y="120.6" font-size="2.3" fill="#2a2a2a" transform="rotate(90 260.27 120.6)">tubular</text>
<rect x="255.65" y="117.75" width="1.9" height="1.5" fill="#93e8f1"/>
<text x="255.77" y="120.6" font-size="2.3" fill="#2a2a2a" transform="rotate(90 255.77 120.6)" textLength="25.3" lengthAdjust="spacingAndGlyphs">tubulovillous/villous/serrated</text>
<rect x="251.25" y="117.75" width="1.9" height="1.5" fill="#25d8c8"/>
<text x="251.37" y="120.6" font-size="2.3" fill="#2a2a2a" transform="rotate(90 251.37 120.6)">tubulovillous</text>
<text x="265.5" y="147" font-size="2.3" fill="#333" transform="rotate(90 265.5 147)">Gender</text>
<rect x="260.15" y="148.65" width="1.9" height="1.5" fill="#e8264f"/>
<text x="260.27" y="151.5" font-size="2.3" fill="#2a2a2a" transform="rotate(90 260.27 151.5)">female</text>
<rect x="255.65" y="148.65" width="1.9" height="1.5" fill="#1b0a9c"/>
<text x="255.77" y="151.5" font-size="2.3" fill="#2a2a2a" transform="rotate(90 255.77 151.5)">male</text>
<text x="265.5" y="159.2" font-size="2.3" fill="#333" transform="rotate(90 265.5 159.2)">Age</text>
<rect x="260.15" y="159.85" width="1.9" height="1.5" fill="#f4f8ff"/>
<text x="260.27" y="162.7" font-size="2.3" fill="#2a2a2a" transform="rotate(90 260.27 162.7)">31~35</text>
<rect x="255.65" y="159.85" width="1.9" height="1.5" fill="#e4f0fb"/>
<text x="255.77" y="162.7" font-size="2.3" fill="#2a2a2a" transform="rotate(90 255.77 162.7)">36~40</text>
<rect x="251.25" y="159.85" width="1.9" height="1.5" fill="#e8e4f8"/>
<text x="251.37" y="162.7" font-size="2.3" fill="#2a2a2a" transform="rotate(90 251.37 162.7)">41~45</text>
<rect x="260.15" y="171.05" width="1.9" height="1.5" fill="#a8d4f4"/>
<text x="260.27" y="173.9" font-size="2.3" fill="#2a2a2a" transform="rotate(90 260.27 173.9)">46~50</text>
<rect x="255.65" y="171.05" width="1.9" height="1.5" fill="#6f8fe6"/>
<text x="255.77" y="173.9" font-size="2.3" fill="#2a2a2a" transform="rotate(90 255.77 173.9)">51~55</text>
<rect x="251.25" y="171.05" width="1.9" height="1.5" fill="#8a4fd0"/>
<text x="251.37" y="173.9" font-size="2.3" fill="#2a2a2a" transform="rotate(90 251.37 173.9)">56~60</text>
<rect x="260.15" y="181.95" width="1.9" height="1.5" fill="#c218c2"/>
<text x="260.27" y="184.8" font-size="2.3" fill="#2a2a2a" transform="rotate(90 260.27 184.8)">61~65</text>
<rect x="255.65" y="181.95" width="1.9" height="1.5" fill="#8a0a8a"/>
<text x="255.77" y="184.8" font-size="2.3" fill="#2a2a2a" transform="rotate(90 255.77 184.8)">66~70</text>
<rect x="303.7" y="57.2" width="170" height="106.11" fill="#d3d3d3"/>
<path d="M303.7 57.2V163.31M307.03 57.2V163.31M310.37 57.2V163.31M313.7 57.2V163.31M317.03 57.2V163.31M320.37 57.2V163.31M323.7 57.2V163.31M327.03 57.2V163.31M330.37 57.2V163.31M333.7 57.2V163.31M337.03 57.2V163.31M340.37 57.2V163.31M343.7 57.2V163.31M347.03 57.2V163.31M350.37 57.2V163.31M353.7 57.2V163.31M357.03 57.2V163.31M360.37 57.2V163.31M363.7 57.2V163.31M367.03 57.2V163.31M370.37 57.2V163.31M373.7 57.2V163.31M377.03 57.2V163.31M380.37 57.2V163.31M383.7 57.2V163.31M387.03 57.2V163.31M390.37 57.2V163.31M393.7 57.2V163.31M397.03 57.2V163.31M400.37 57.2V163.31M403.7 57.2V163.31M407.03 57.2V163.31M410.37 57.2V163.31M413.7 57.2V163.31M417.03 57.2V163.31M420.37 57.2V163.31M423.7 57.2V163.31M427.03 57.2V163.31M430.37 57.2V163.31M433.7 57.2V163.31M437.03 57.2V163.31M440.37 57.2V163.31M443.7 57.2V163.31M447.03 57.2V163.31M450.37 57.2V163.31M453.7 57.2V163.31M457.03 57.2V163.31M460.37 57.2V163.31M463.7 57.2V163.31M467.03 57.2V163.31M470.37 57.2V163.31M473.7 57.2V163.31" stroke="#fff" stroke-width="0.36" fill="none" opacity="0.5"/>
<path d="M303.7 57.2H473.7M303.7 60.74H473.7M303.7 64.27H473.7M303.7 67.81H473.7M303.7 71.35H473.7M303.7 74.89H473.7M303.7 78.42H473.7M303.7 81.96H473.7M303.7 85.5H473.7M303.7 89.03H473.7M303.7 92.57H473.7M303.7 96.11H473.7M303.7 99.64H473.7M303.7 103.18H473.7M303.7 106.72H473.7M303.7 110.25H473.7M303.7 113.79H473.7M303.7 117.33H473.7M303.7 120.87H473.7M303.7 124.4H473.7M303.7 127.94H473.7M303.7 131.48H473.7M303.7 135.01H473.7M303.7 138.55H473.7M303.7 142.09H473.7M303.7 145.62H473.7M303.7 149.16H473.7M303.7 152.7H473.7M303.7 156.24H473.7M303.7 159.77H473.7M303.7 163.31H473.7" stroke="#fff" stroke-width="0.36" fill="none" opacity="0.4"/>
<rect x="303.88" y="57.38" width="2.97" height="3.18" fill="#f80d0d"/>
<rect x="307.21" y="57.38" width="2.97" height="3.18" fill="#f80d0d"/>
<rect x="310.55" y="57.38" width="2.97" height="3.18" fill="#000000"/>
<rect x="313.88" y="57.38" width="2.97" height="3.18" fill="#0a920a"/>
<rect x="317.21" y="57.38" width="2.97" height="3.18" fill="#000000"/>
<rect x="320.55" y="57.38" width="2.97" height="3.18" fill="#000000"/>
<rect x="323.88" y="57.38" width="2.97" height="3.18" fill="#1f62e0"/>
<rect x="327.21" y="57.38" width="2.97" height="3.18" fill="#f80d0d"/>
<rect x="330.55" y="57.38" width="2.97" height="3.18" fill="#1f62e0"/>
<rect x="333.88" y="57.38" width="2.97" height="3.18" fill="#b27cf7"/>
<rect x="337.21" y="57.38" width="2.97" height="3.18" fill="#000000"/>
<rect x="340.55" y="57.38" width="2.97" height="3.18" fill="#000000"/>
<rect x="343.88" y="57.38" width="2.97" height="3.18" fill="#000000"/>
<rect x="367.21" y="57.38" width="2.97" height="3.18" fill="#000000"/>
<rect x="370.55" y="57.38" width="2.97" height="3.18" fill="#f80d0d"/>
<rect x="373.88" y="57.38" width="2.97" height="3.18" fill="#f80d0d"/>
<rect x="377.21" y="57.38" width="2.97" height="3.18" fill="#000000"/>
<rect x="380.55" y="57.38" width="2.97" height="3.18" fill="#000000"/>
<rect x="383.88" y="57.38" width="2.97" height="3.18" fill="#000000"/>
<rect x="387.21" y="57.38" width="2.97" height="3.18" fill="#f80d0d"/>
<rect x="390.55" y="57.38" width="2.97" height="3.18" fill="#f80d0d"/>
<rect x="393.88" y="57.38" width="2.97" height="3.18" fill="#000000"/>
<rect x="400.55" y="57.38" width="2.97" height="3.18" fill="#f80d0d"/>
<rect x="403.88" y="57.38" width="2.97" height="3.18" fill="#000000"/>
<rect x="407.21" y="57.38" width="2.97" height="3.18" fill="#000000"/>
<rect x="410.55" y="57.38" width="2.97" height="3.18" fill="#000000"/>
<rect x="417.21" y="57.38" width="2.97" height="3.18" fill="#f80d0d"/>
<rect x="420.55" y="57.38" width="2.97" height="3.18" fill="#000000"/>
<rect x="423.88" y="57.38" width="2.97" height="3.18" fill="#000000"/>
<rect x="427.21" y="57.38" width="2.97" height="3.18" fill="#f80d0d"/>
<rect x="430.55" y="57.38" width="2.97" height="3.18" fill="#f80d0d"/>
<rect x="433.88" y="57.38" width="2.97" height="3.18" fill="#000000"/>
<rect x="463.88" y="57.38" width="2.97" height="3.18" fill="#f80d0d"/>
<rect x="303.88" y="60.92" width="2.97" height="3.18" fill="#0a920a"/>
<rect x="307.21" y="60.92" width="2.97" height="3.18" fill="#0a920a"/>
<rect x="310.55" y="60.92" width="2.97" height="3.18" fill="#fde57a"/>
<rect x="313.88" y="60.92" width="2.97" height="3.18" fill="#1f62e0"/>
<rect x="317.21" y="60.92" width="2.97" height="3.18" fill="#0a920a"/>
<rect x="320.55" y="60.92" width="2.97" height="3.18" fill="#ffa500"/>
<rect x="323.88" y="60.92" width="2.97" height="3.18" fill="#0a920a"/>
<rect x="327.21" y="60.92" width="2.97" height="3.18" fill="#f80d0d"/>
<rect x="330.55" y="60.92" width="2.97" height="3.18" fill="#0a920a"/>
<rect x="347.21" y="60.92" width="2.97" height="3.18" fill="#0a920a"/>
<rect x="367.21" y="60.92" width="2.97" height="3.18" fill="#0a920a"/>
<rect x="370.55" y="60.92" width="2.97" height="3.18" fill="#0a920a"/>
<rect x="373.88" y="60.92" width="2.97" height="3.18" fill="#0a920a"/>
<rect x="400.55" y="60.92" width="2.97" height="3.18" fill="#0a920a"/>
<rect x="403.88" y="60.92" width="2.97" height="3.18" fill="#0a920a"/>
<rect x="407.21" y="60.92" width="2.97" height="3.18" fill="#0a920a"/>
<rect x="417.21" y="60.92" width="2.97" height="3.18" fill="#0a920a"/>
<rect x="420.55" y="60.92" width="2.97" height="3.18" fill="#0a920a"/>
<rect x="423.88" y="60.92" width="2.97" height="3.18" fill="#0a920a"/>
<rect x="427.21" y="60.92" width="2.97" height="3.18" fill="#1f62e0"/>
<rect x="437.21" y="60.92" width="2.97" height="3.18" fill="#0a920a"/>
<rect x="440.55" y="60.92" width="2.97" height="3.18" fill="#0a920a"/>
<rect x="443.88" y="60.92" width="2.97" height="3.18" fill="#0a920a"/>
<rect x="463.88" y="60.92" width="2.97" height="3.18" fill="#0a920a"/>
<rect x="303.88" y="64.45" width="2.97" height="3.18" fill="#0a920a"/>
<rect x="307.21" y="64.45" width="2.97" height="3.18" fill="#0a920a"/>
<rect x="310.55" y="64.45" width="2.97" height="3.18" fill="#0a920a"/>
<rect x="333.88" y="64.45" width="2.97" height="3.18" fill="#0a920a"/>
<rect x="337.21" y="64.45" width="2.97" height="3.18" fill="#0a920a"/>
<rect x="340.55" y="64.45" width="2.97" height="3.18" fill="#0a920a"/>
<rect x="347.21" y="64.45" width="2.97" height="3.18" fill="#0a920a"/>
<rect x="350.55" y="64.45" width="2.97" height="3.18" fill="#0a920a"/>
<rect x="367.21" y="64.45" width="2.97" height="3.18" fill="#0a920a"/>
<rect x="377.21" y="64.45" width="2.97" height="3.18" fill="#0a920a"/>
<rect x="380.55" y="64.45" width="2.97" height="3.18" fill="#0a920a"/>
<rect x="383.88" y="64.45" width="2.97" height="3.18" fill="#0a920a"/>
<rect x="387.21" y="64.45" width="2.97" height="3.18" fill="#0a920a"/>
<rect x="390.55" y="64.45" width="2.97" height="3.18" fill="#0a920a"/>
<rect x="410.55" y="64.45" width="2.97" height="3.18" fill="#0a920a"/>
<rect x="413.88" y="64.45" width="2.97" height="3.18" fill="#0a920a"/>
<rect x="417.21" y="64.45" width="2.97" height="3.18" fill="#0a920a"/>
<rect x="430.55" y="64.45" width="2.97" height="3.18" fill="#0a920a"/>
<rect x="433.88" y="64.45" width="2.97" height="3.18" fill="#0a920a"/>
<rect x="437.21" y="64.45" width="2.97" height="3.18" fill="#0a920a"/>
<rect x="440.55" y="64.45" width="2.97" height="3.18" fill="#0a920a"/>
<rect x="313.88" y="67.99" width="2.97" height="3.18" fill="#000000"/>
<rect x="317.21" y="67.99" width="2.97" height="3.18" fill="#0a920a"/>
<rect x="320.55" y="67.99" width="2.97" height="3.18" fill="#0a920a"/>
<rect x="333.88" y="67.99" width="2.97" height="3.18" fill="#0a920a"/>
<rect x="353.88" y="67.99" width="2.97" height="3.18" fill="#000000"/>
<rect x="357.21" y="67.99" width="2.97" height="3.18" fill="#0a920a"/>
<rect x="367.21" y="67.99" width="2.97" height="3.18" fill="#0a920a"/>
<rect x="377.21" y="67.99" width="2.97" height="3.18" fill="#000000"/>
<rect x="380.55" y="67.99" width="2.97" height="3.18" fill="#000000"/>
<rect x="383.88" y="67.99" width="2.97" height="3.18" fill="#0a920a"/>
<rect x="393.88" y="67.99" width="2.97" height="3.18" fill="#f80d0d"/>
<rect x="397.21" y="67.99" width="2.97" height="3.18" fill="#000000"/>
<rect x="400.55" y="67.99" width="2.97" height="3.18" fill="#0a920a"/>
<rect x="403.88" y="67.99" width="2.97" height="3.18" fill="#0a920a"/>
<rect x="410.55" y="67.99" width="2.97" height="3.18" fill="#0a920a"/>
<rect x="413.88" y="67.99" width="2.97" height="3.18" fill="#1f62e0"/>
<rect x="417.21" y="67.99" width="2.97" height="3.18" fill="#0a920a"/>
<rect x="420.55" y="67.99" width="2.97" height="3.18" fill="#000000"/>
<rect x="423.88" y="67.99" width="2.97" height="3.18" fill="#0a920a"/>
<rect x="447.21" y="67.99" width="2.97" height="3.18" fill="#0a920a"/>
<rect x="463.88" y="67.99" width="2.97" height="3.18" fill="#000000"/>
<rect x="307.21" y="71.53" width="2.97" height="3.18" fill="#0a920a"/>
<rect x="310.55" y="71.53" width="2.97" height="3.18" fill="#0a920a"/>
<rect x="313.88" y="71.53" width="2.97" height="3.18" fill="#0a920a"/>
<rect x="317.21" y="71.53" width="2.97" height="3.18" fill="#0a920a"/>
<rect x="320.55" y="71.53" width="2.97" height="3.18" fill="#000000"/>
<rect x="353.88" y="71.53" width="2.97" height="3.18" fill="#000000"/>
<rect x="357.21" y="71.53" width="2.97" height="3.18" fill="#0a920a"/>
<rect x="377.21" y="71.53" width="2.97" height="3.18" fill="#000000"/>
<rect x="380.55" y="71.53" width="2.97" height="3.18" fill="#0a920a"/>
<rect x="410.55" y="71.53" width="2.97" height="3.18" fill="#f80d0d"/>
<rect x="430.55" y="71.53" width="2.97" height="3.18" fill="#ffa500"/>
<rect x="437.21" y="71.53" width="2.97" height="3.18" fill="#000000"/>
<rect x="467.21" y="71.53" width="2.97" height="3.18" fill="#0a920a"/>
<rect x="313.88" y="75.07" width="2.97" height="3.18" fill="#000000"/>
<rect x="317.21" y="75.07" width="2.97" height="3.18" fill="#f80d0d"/>
<rect x="323.88" y="75.07" width="2.97" height="3.18" fill="#0a920a"/>
<rect x="337.21" y="75.07" width="2.97" height="3.18" fill="#a85a0c"/>
<rect x="353.88" y="75.07" width="2.97" height="3.18" fill="#1f62e0"/>
<rect x="357.21" y="75.07" width="2.97" height="3.18" fill="#0a920a"/>
<rect x="367.21" y="75.07" width="2.97" height="3.18" fill="#0a920a"/>
<rect x="370.55" y="75.07" width="2.97" height="3.18" fill="#000000"/>
<rect x="377.21" y="75.07" width="2.97" height="3.18" fill="#000000"/>
<rect x="393.88" y="75.07" width="2.97" height="3.18" fill="#0a920a"/>
<rect x="413.88" y="75.07" width="2.97" height="3.18" fill="#0a920a"/>
<rect x="307.21" y="78.6" width="2.97" height="3.18" fill="#0a920a"/>
<rect x="313.88" y="78.6" width="2.97" height="3.18" fill="#000000"/>
<rect x="317.21" y="78.6" width="2.97" height="3.18" fill="#0a920a"/>
<rect x="350.55" y="78.6" width="2.97" height="3.18" fill="#0a920a"/>
<rect x="353.88" y="78.6" width="2.97" height="3.18" fill="#1f62e0"/>
<rect x="377.21" y="78.6" width="2.97" height="3.18" fill="#000000"/>
<rect x="380.55" y="78.6" width="2.97" height="3.18" fill="#1f62e0"/>
<rect x="400.55" y="78.6" width="2.97" height="3.18" fill="#000000"/>
<rect x="410.55" y="78.6" width="2.97" height="3.18" fill="#ffa500"/>
<rect x="443.88" y="78.6" width="2.97" height="3.18" fill="#000000"/>
<rect x="307.21" y="82.14" width="2.97" height="3.18" fill="#0a920a"/>
<rect x="320.55" y="82.14" width="2.97" height="3.18" fill="#0a920a"/>
<rect x="343.88" y="82.14" width="2.97" height="3.18" fill="#fde57a"/>
<rect x="377.21" y="82.14" width="2.97" height="3.18" fill="#000000"/>
<rect x="380.55" y="82.14" width="2.97" height="3.18" fill="#1f62e0"/>
<rect x="387.21" y="82.14" width="2.97" height="3.18" fill="#000000"/>
<rect x="403.88" y="82.14" width="2.97" height="3.18" fill="#0a920a"/>
<rect x="417.21" y="82.14" width="2.97" height="3.18" fill="#0a920a"/>
<rect x="443.88" y="82.14" width="2.97" height="3.18" fill="#0a920a"/>
<rect x="450.55" y="82.14" width="2.97" height="3.18" fill="#000000"/>
<rect x="353.88" y="85.68" width="2.97" height="3.18" fill="#0a920a"/>
<rect x="357.21" y="85.68" width="2.97" height="3.18" fill="#000000"/>
<rect x="367.21" y="85.68" width="2.97" height="3.18" fill="#0a920a"/>
<rect x="373.88" y="85.68" width="2.97" height="3.18" fill="#000000"/>
<rect x="377.21" y="85.68" width="2.97" height="3.18" fill="#000000"/>
<rect x="380.55" y="85.68" width="2.97" height="3.18" fill="#000000"/>
<rect x="383.88" y="85.68" width="2.97" height="3.18" fill="#0a920a"/>
<rect x="403.88" y="85.68" width="2.97" height="3.18" fill="#0a920a"/>
<rect x="410.55" y="85.68" width="2.97" height="3.18" fill="#0a920a"/>
<rect x="413.88" y="85.68" width="2.97" height="3.18" fill="#0a920a"/>
<rect x="303.88" y="89.21" width="2.97" height="3.18" fill="#0a920a"/>
<rect x="327.21" y="89.21" width="2.97" height="3.18" fill="#0a920a"/>
<rect x="340.55" y="89.21" width="2.97" height="3.18" fill="#0a920a"/>
<rect x="353.88" y="89.21" width="2.97" height="3.18" fill="#0a920a"/>
<rect x="357.21" y="89.21" width="2.97" height="3.18" fill="#f80d0d"/>
<rect x="377.21" y="89.21" width="2.97" height="3.18" fill="#0a920a"/>
<rect x="380.55" y="89.21" width="2.97" height="3.18" fill="#0a920a"/>
<rect x="383.88" y="89.21" width="2.97" height="3.18" fill="#0a920a"/>
<rect x="403.88" y="89.21" width="2.97" height="3.18" fill="#0a920a"/>
<rect x="407.21" y="89.21" width="2.97" height="3.18" fill="#0a920a"/>
<rect x="330.55" y="92.75" width="2.97" height="3.18" fill="#0a920a"/>
<rect x="350.55" y="92.75" width="2.97" height="3.18" fill="#1f62e0"/>
<rect x="353.88" y="92.75" width="2.97" height="3.18" fill="#0a920a"/>
<rect x="360.55" y="92.75" width="2.97" height="3.18" fill="#1f62e0"/>
<rect x="377.21" y="92.75" width="2.97" height="3.18" fill="#000000"/>
<rect x="407.21" y="92.75" width="2.97" height="3.18" fill="#0a920a"/>
<rect x="413.88" y="92.75" width="2.97" height="3.18" fill="#000000"/>
<rect x="427.21" y="92.75" width="2.97" height="3.18" fill="#0a920a"/>
<rect x="453.88" y="92.75" width="2.97" height="3.18" fill="#0a920a"/>
<rect x="303.88" y="96.29" width="2.97" height="3.18" fill="#0a920a"/>
<rect x="313.88" y="96.29" width="2.97" height="3.18" fill="#0a920a"/>
<rect x="343.88" y="96.29" width="2.97" height="3.18" fill="#000000"/>
<rect x="347.21" y="96.29" width="2.97" height="3.18" fill="#0a920a"/>
<rect x="377.21" y="96.29" width="2.97" height="3.18" fill="#000000"/>
<rect x="380.55" y="96.29" width="2.97" height="3.18" fill="#0a920a"/>
<rect x="403.88" y="96.29" width="2.97" height="3.18" fill="#0a920a"/>
<rect x="410.55" y="96.29" width="2.97" height="3.18" fill="#b27cf7"/>
<rect x="420.55" y="96.29" width="2.97" height="3.18" fill="#0a920a"/>
<rect x="303.88" y="99.82" width="2.97" height="3.18" fill="#0a920a"/>
<rect x="347.21" y="99.82" width="2.97" height="3.18" fill="#0a920a"/>
<rect x="353.88" y="99.82" width="2.97" height="3.18" fill="#000000"/>
<rect x="357.21" y="99.82" width="2.97" height="3.18" fill="#0a920a"/>
<rect x="377.21" y="99.82" width="2.97" height="3.18" fill="#000000"/>
<rect x="383.88" y="99.82" width="2.97" height="3.18" fill="#0a920a"/>
<rect x="387.21" y="99.82" width="2.97" height="3.18" fill="#000000"/>
<rect x="450.55" y="99.82" width="2.97" height="3.18" fill="#0a920a"/>
<rect x="453.88" y="99.82" width="2.97" height="3.18" fill="#0a920a"/>
<rect x="310.55" y="103.36" width="2.97" height="3.18" fill="#0a920a"/>
<rect x="320.55" y="103.36" width="2.97" height="3.18" fill="#f80d0d"/>
<rect x="323.88" y="103.36" width="2.97" height="3.18" fill="#f80d0d"/>
<rect x="340.55" y="103.36" width="2.97" height="3.18" fill="#a85a0c"/>
<rect x="353.88" y="103.36" width="2.97" height="3.18" fill="#0a920a"/>
<rect x="357.21" y="103.36" width="2.97" height="3.18" fill="#fde57a"/>
<rect x="377.21" y="103.36" width="2.97" height="3.18" fill="#000000"/>
<rect x="410.55" y="103.36" width="2.97" height="3.18" fill="#0a920a"/>
<rect x="463.88" y="103.36" width="2.97" height="3.18" fill="#ffa500"/>
<rect x="307.21" y="106.9" width="2.97" height="3.18" fill="#0a920a"/>
<rect x="313.88" y="106.9" width="2.97" height="3.18" fill="#0a920a"/>
<rect x="350.55" y="106.9" width="2.97" height="3.18" fill="#0a920a"/>
<rect x="353.88" y="106.9" width="2.97" height="3.18" fill="#0a920a"/>
<rect x="357.21" y="106.9" width="2.97" height="3.18" fill="#0a920a"/>
<rect x="393.88" y="106.9" width="2.97" height="3.18" fill="#0a920a"/>
<rect x="450.55" y="106.9" width="2.97" height="3.18" fill="#0a920a"/>
<rect x="457.21" y="106.9" width="2.97" height="3.18" fill="#0a920a"/>
<rect x="347.21" y="110.44" width="2.97" height="3.18" fill="#b27cf7"/>
<rect x="357.21" y="110.44" width="2.97" height="3.18" fill="#0a920a"/>
<rect x="370.55" y="110.44" width="2.97" height="3.18" fill="#0a920a"/>
<rect x="373.88" y="110.44" width="2.97" height="3.18" fill="#0a920a"/>
<rect x="377.21" y="110.44" width="2.97" height="3.18" fill="#000000"/>
<rect x="407.21" y="110.44" width="2.97" height="3.18" fill="#0a920a"/>
<rect x="450.55" y="110.44" width="2.97" height="3.18" fill="#0a920a"/>
<rect x="457.21" y="110.44" width="2.97" height="3.18" fill="#0a920a"/>
<rect x="340.55" y="113.97" width="2.97" height="3.18" fill="#0a920a"/>
<rect x="343.88" y="113.97" width="2.97" height="3.18" fill="#0a920a"/>
<rect x="347.21" y="113.97" width="2.97" height="3.18" fill="#0a920a"/>
<rect x="353.88" y="113.97" width="2.97" height="3.18" fill="#0a920a"/>
<rect x="377.21" y="113.97" width="2.97" height="3.18" fill="#000000"/>
<rect x="403.88" y="113.97" width="2.97" height="3.18" fill="#0a920a"/>
<rect x="443.88" y="113.97" width="2.97" height="3.18" fill="#f80d0d"/>
<rect x="463.88" y="113.97" width="2.97" height="3.18" fill="#1f62e0"/>
<rect x="310.55" y="117.51" width="2.97" height="3.18" fill="#0a920a"/>
<rect x="313.88" y="117.51" width="2.97" height="3.18" fill="#0a920a"/>
<rect x="320.55" y="117.51" width="2.97" height="3.18" fill="#0a920a"/>
<rect x="323.88" y="117.51" width="2.97" height="3.18" fill="#0a920a"/>
<rect x="353.88" y="117.51" width="2.97" height="3.18" fill="#1f62e0"/>
<rect x="377.21" y="117.51" width="2.97" height="3.18" fill="#f80d0d"/>
<rect x="387.21" y="117.51" width="2.97" height="3.18" fill="#0a920a"/>
<rect x="410.55" y="117.51" width="2.97" height="3.18" fill="#0a920a"/>
<rect x="303.88" y="121.05" width="2.97" height="3.18" fill="#1f62e0"/>
<rect x="340.55" y="121.05" width="2.97" height="3.18" fill="#f80d0d"/>
<rect x="367.21" y="121.05" width="2.97" height="3.18" fill="#0a920a"/>
<rect x="370.55" y="121.05" width="2.97" height="3.18" fill="#0a920a"/>
<rect x="377.21" y="121.05" width="2.97" height="3.18" fill="#0a920a"/>
<rect x="383.88" y="121.05" width="2.97" height="3.18" fill="#0a920a"/>
<rect x="410.55" y="121.05" width="2.97" height="3.18" fill="#0a920a"/>
<rect x="420.55" y="121.05" width="2.97" height="3.18" fill="#b27cf7"/>
<rect x="357.21" y="124.58" width="2.97" height="3.18" fill="#0a920a"/>
<rect x="377.21" y="124.58" width="2.97" height="3.18" fill="#000000"/>
<rect x="380.55" y="124.58" width="2.97" height="3.18" fill="#ffa500"/>
<rect x="383.88" y="124.58" width="2.97" height="3.18" fill="#0a920a"/>
<rect x="403.88" y="124.58" width="2.97" height="3.18" fill="#000000"/>
<rect x="423.88" y="124.58" width="2.97" height="3.18" fill="#0a920a"/>
<rect x="437.21" y="124.58" width="2.97" height="3.18" fill="#f80d0d"/>
<rect x="467.21" y="124.58" width="2.97" height="3.18" fill="#0a920a"/>
<rect x="310.55" y="128.12" width="2.97" height="3.18" fill="#0a920a"/>
<rect x="313.88" y="128.12" width="2.97" height="3.18" fill="#0a920a"/>
<rect x="357.21" y="128.12" width="2.97" height="3.18" fill="#0a920a"/>
<rect x="367.21" y="128.12" width="2.97" height="3.18" fill="#000000"/>
<rect x="377.21" y="128.12" width="2.97" height="3.18" fill="#000000"/>
<rect x="393.88" y="128.12" width="2.97" height="3.18" fill="#0a920a"/>
<rect x="457.21" y="128.12" width="2.97" height="3.18" fill="#0a920a"/>
<rect x="340.55" y="131.66" width="2.97" height="3.18" fill="#0a920a"/>
<rect x="353.88" y="131.66" width="2.97" height="3.18" fill="#0a920a"/>
<rect x="367.21" y="131.66" width="2.97" height="3.18" fill="#0a920a"/>
<rect x="377.21" y="131.66" width="2.97" height="3.18" fill="#000000"/>
<rect x="440.55" y="131.66" width="2.97" height="3.18" fill="#0a920a"/>
<rect x="450.55" y="131.66" width="2.97" height="3.18" fill="#0a920a"/>
<rect x="467.21" y="131.66" width="2.97" height="3.18" fill="#0a920a"/>
<rect x="313.88" y="135.19" width="2.97" height="3.18" fill="#000000"/>
<rect x="343.88" y="135.19" width="2.97" height="3.18" fill="#0a920a"/>
<rect x="357.21" y="135.19" width="2.97" height="3.18" fill="#0a920a"/>
<rect x="377.21" y="135.19" width="2.97" height="3.18" fill="#000000"/>
<rect x="380.55" y="135.19" width="2.97" height="3.18" fill="#0a920a"/>
<rect x="433.88" y="135.19" width="2.97" height="3.18" fill="#0a920a"/>
<rect x="453.88" y="135.19" width="2.97" height="3.18" fill="#0a920a"/>
<rect x="313.88" y="138.73" width="2.97" height="3.18" fill="#0a920a"/>
<rect x="317.21" y="138.73" width="2.97" height="3.18" fill="#0a920a"/>
<rect x="357.21" y="138.73" width="2.97" height="3.18" fill="#0a920a"/>
<rect x="377.21" y="138.73" width="2.97" height="3.18" fill="#000000"/>
<rect x="380.55" y="138.73" width="2.97" height="3.18" fill="#f80d0d"/>
<rect x="387.21" y="138.73" width="2.97" height="3.18" fill="#0a920a"/>
<rect x="463.88" y="138.73" width="2.97" height="3.18" fill="#0a920a"/>
<rect x="303.88" y="142.27" width="2.97" height="3.18" fill="#0a920a"/>
<rect x="313.88" y="142.27" width="2.97" height="3.18" fill="#b27cf7"/>
<rect x="353.88" y="142.27" width="2.97" height="3.18" fill="#000000"/>
<rect x="363.88" y="142.27" width="2.97" height="3.18" fill="#0a920a"/>
<rect x="377.21" y="142.27" width="2.97" height="3.18" fill="#000000"/>
<rect x="383.88" y="142.27" width="2.97" height="3.18" fill="#0a920a"/>
<rect x="453.88" y="142.27" width="2.97" height="3.18" fill="#b27cf7"/>
<rect x="313.88" y="145.81" width="2.97" height="3.18" fill="#1f62e0"/>
<rect x="323.88" y="145.81" width="2.97" height="3.18" fill="#0a920a"/>
<rect x="337.21" y="145.81" width="2.97" height="3.18" fill="#0a920a"/>
<rect x="353.88" y="145.81" width="2.97" height="3.18" fill="#0a920a"/>
<rect x="370.55" y="145.81" width="2.97" height="3.18" fill="#0a920a"/>
<rect x="377.21" y="145.81" width="2.97" height="3.18" fill="#000000"/>
<rect x="450.55" y="145.81" width="2.97" height="3.18" fill="#0a920a"/>
<rect x="313.88" y="149.34" width="2.97" height="3.18" fill="#fde57a"/>
<rect x="353.88" y="149.34" width="2.97" height="3.18" fill="#1f62e0"/>
<rect x="377.21" y="149.34" width="2.97" height="3.18" fill="#000000"/>
<rect x="380.55" y="149.34" width="2.97" height="3.18" fill="#0a920a"/>
<rect x="410.55" y="149.34" width="2.97" height="3.18" fill="#ffa500"/>
<rect x="433.88" y="149.34" width="2.97" height="3.18" fill="#0a920a"/>
<rect x="450.55" y="149.34" width="2.97" height="3.18" fill="#0a920a"/>
<rect x="313.88" y="152.88" width="2.97" height="3.18" fill="#0a920a"/>
<rect x="333.88" y="152.88" width="2.97" height="3.18" fill="#0a920a"/>
<rect x="343.88" y="152.88" width="2.97" height="3.18" fill="#0a920a"/>
<rect x="357.21" y="152.88" width="2.97" height="3.18" fill="#000000"/>
<rect x="420.55" y="152.88" width="2.97" height="3.18" fill="#0a920a"/>
<rect x="427.21" y="152.88" width="2.97" height="3.18" fill="#0a920a"/>
<rect x="457.21" y="152.88" width="2.97" height="3.18" fill="#0a920a"/>
<rect x="313.88" y="156.42" width="2.97" height="3.18" fill="#b27cf7"/>
<rect x="353.88" y="156.42" width="2.97" height="3.18" fill="#000000"/>
<rect x="377.21" y="156.42" width="2.97" height="3.18" fill="#0a920a"/>
<rect x="380.55" y="156.42" width="2.97" height="3.18" fill="#0a920a"/>
<rect x="397.21" y="156.42" width="2.97" height="3.18" fill="#f80d0d"/>
<rect x="410.55" y="156.42" width="2.97" height="3.18" fill="#0a920a"/>
<rect x="450.55" y="156.42" width="2.97" height="3.18" fill="#0a920a"/>
<rect x="313.88" y="159.95" width="2.97" height="3.18" fill="#000000"/>
<rect x="370.55" y="159.95" width="2.97" height="3.18" fill="#0a920a"/>
<rect x="377.21" y="159.95" width="2.97" height="3.18" fill="#000000"/>
<rect x="403.88" y="159.95" width="2.97" height="3.18" fill="#0a920a"/>
<rect x="410.55" y="159.95" width="2.97" height="3.18" fill="#0a920a"/>
<rect x="413.88" y="159.95" width="2.97" height="3.18" fill="#0a920a"/>
<rect x="457.21" y="159.95" width="2.97" height="3.18" fill="#0a920a"/>
<rect x="303.82" y="54.97" width="3.09" height="0.32" fill="#fde57a"/>
<rect x="303.82" y="54.26" width="3.09" height="0.71" fill="#0a920a"/>
<rect x="303.82" y="54" width="3.09" height="0.26" fill="#ffa500"/>
<rect x="307.15" y="55.07" width="3.09" height="0.22" fill="#fde57a"/>
<rect x="307.15" y="54.58" width="3.09" height="0.49" fill="#0a920a"/>
<rect x="307.15" y="54.4" width="3.09" height="0.18" fill="#ffa500"/>
<rect x="310.49" y="55.1" width="3.09" height="0.2" fill="#fde57a"/>
<rect x="310.49" y="54.66" width="3.09" height="0.44" fill="#0a920a"/>
<rect x="310.49" y="54.5" width="3.09" height="0.16" fill="#ffa500"/>
<rect x="313.82" y="53.9" width="3.09" height="1.4" fill="#1f62e0"/>
<rect x="313.82" y="45.8" width="3.09" height="8.1" fill="#0a920a"/>
<rect x="313.82" y="45.4" width="3.09" height="0.4" fill="#a85a0c"/>
<rect x="313.82" y="44.9" width="3.09" height="0.5" fill="#f80d0d"/>
<rect x="317.15" y="55.1" width="3.09" height="0.2" fill="#fde57a"/>
<rect x="317.15" y="54.66" width="3.09" height="0.44" fill="#0a920a"/>
<rect x="317.15" y="54.5" width="3.09" height="0.16" fill="#ffa500"/>
<rect x="320.49" y="54.97" width="3.09" height="0.32" fill="#fde57a"/>
<rect x="320.49" y="54.26" width="3.09" height="0.71" fill="#0a920a"/>
<rect x="320.49" y="54" width="3.09" height="0.26" fill="#ffa500"/>
<rect x="323.82" y="55.1" width="3.09" height="0.2" fill="#fde57a"/>
<rect x="323.82" y="54.66" width="3.09" height="0.44" fill="#0a920a"/>
<rect x="323.82" y="54.5" width="3.09" height="0.16" fill="#ffa500"/>
<rect x="327.15" y="55.1" width="3.09" height="0.2" fill="#fde57a"/>
<rect x="327.15" y="54.66" width="3.09" height="0.44" fill="#0a920a"/>
<rect x="327.15" y="54.5" width="3.09" height="0.16" fill="#ffa500"/>
<rect x="330.49" y="55.1" width="3.09" height="0.2" fill="#fde57a"/>
<rect x="330.49" y="54.66" width="3.09" height="0.44" fill="#0a920a"/>
<rect x="330.49" y="54.5" width="3.09" height="0.16" fill="#ffa500"/>
<rect x="333.82" y="55.1" width="3.09" height="0.2" fill="#fde57a"/>
<rect x="333.82" y="54.66" width="3.09" height="0.44" fill="#0a920a"/>
<rect x="333.82" y="54.5" width="3.09" height="0.16" fill="#ffa500"/>
<rect x="337.15" y="55.1" width="3.09" height="0.2" fill="#fde57a"/>
<rect x="337.15" y="54.66" width="3.09" height="0.44" fill="#0a920a"/>
<rect x="337.15" y="54.5" width="3.09" height="0.16" fill="#ffa500"/>
<rect x="340.49" y="55.1" width="3.09" height="0.2" fill="#fde57a"/>
<rect x="340.49" y="54.66" width="3.09" height="0.44" fill="#0a920a"/>
<rect x="340.49" y="54.5" width="3.09" height="0.16" fill="#ffa500"/>
<rect x="343.82" y="55.02" width="3.09" height="0.27" fill="#fde57a"/>
<rect x="343.82" y="54.42" width="3.09" height="0.6" fill="#0a920a"/>
<rect x="343.82" y="54.2" width="3.09" height="0.22" fill="#ffa500"/>
<rect x="347.15" y="55.05" width="3.09" height="0.25" fill="#fde57a"/>
<rect x="347.15" y="54.5" width="3.09" height="0.55" fill="#0a920a"/>
<rect x="347.15" y="54.3" width="3.09" height="0.2" fill="#ffa500"/>
<rect x="350.49" y="55.1" width="3.09" height="0.2" fill="#fde57a"/>
<rect x="350.49" y="54.66" width="3.09" height="0.44" fill="#0a920a"/>
<rect x="350.49" y="54.5" width="3.09" height="0.16" fill="#ffa500"/>
<rect x="353.82" y="53.9" width="3.09" height="1.4" fill="#1f62e0"/>
<rect x="353.82" y="50.9" width="3.09" height="3" fill="#0a920a"/>
<rect x="353.82" y="50.5" width="3.09" height="0.4" fill="#a85a0c"/>
<rect x="353.82" y="50" width="3.09" height="0.5" fill="#f80d0d"/>
<rect x="357.15" y="53.9" width="3.09" height="1.4" fill="#1f62e0"/>
<rect x="357.15" y="47.8" width="3.09" height="6.1" fill="#0a920a"/>
<rect x="357.15" y="47.4" width="3.09" height="0.4" fill="#a85a0c"/>
<rect x="357.15" y="46.9" width="3.09" height="0.5" fill="#f80d0d"/>
<rect x="360.49" y="55.1" width="3.09" height="0.2" fill="#fde57a"/>
<rect x="360.49" y="54.66" width="3.09" height="0.44" fill="#0a920a"/>
<rect x="360.49" y="54.5" width="3.09" height="0.16" fill="#ffa500"/>
<rect x="363.82" y="55.1" width="3.09" height="0.2" fill="#fde57a"/>
<rect x="363.82" y="54.66" width="3.09" height="0.44" fill="#0a920a"/>
<rect x="363.82" y="54.5" width="3.09" height="0.16" fill="#ffa500"/>
<rect x="367.15" y="55.1" width="3.09" height="0.2" fill="#fde57a"/>
<rect x="367.15" y="54.66" width="3.09" height="0.44" fill="#0a920a"/>
<rect x="367.15" y="54.5" width="3.09" height="0.16" fill="#ffa500"/>
<rect x="370.49" y="55.1" width="3.09" height="0.2" fill="#fde57a"/>
<rect x="370.49" y="54.66" width="3.09" height="0.44" fill="#0a920a"/>
<rect x="370.49" y="54.5" width="3.09" height="0.16" fill="#ffa500"/>
<rect x="373.82" y="55.1" width="3.09" height="0.2" fill="#fde57a"/>
<rect x="373.82" y="54.66" width="3.09" height="0.44" fill="#0a920a"/>
<rect x="373.82" y="54.5" width="3.09" height="0.16" fill="#ffa500"/>
<rect x="377.15" y="54.5" width="3.09" height="0.8" fill="#1f62e0"/>
<rect x="377.15" y="29.1" width="3.09" height="25.4" fill="#0a920a"/>
<rect x="377.15" y="25.8" width="3.09" height="3.3" fill="#f80d0d"/>
<rect x="377.15" y="25.5" width="3.09" height="0.3" fill="#f59aa8"/>
<rect x="380.49" y="53.9" width="3.09" height="1.4" fill="#1f62e0"/>
<rect x="380.49" y="46.9" width="3.09" height="7" fill="#0a920a"/>
<rect x="380.49" y="46.5" width="3.09" height="0.4" fill="#a85a0c"/>
<rect x="380.49" y="46" width="3.09" height="0.5" fill="#f80d0d"/>
<rect x="383.82" y="55.1" width="3.09" height="0.2" fill="#fde57a"/>
<rect x="383.82" y="54.66" width="3.09" height="0.44" fill="#0a920a"/>
<rect x="383.82" y="54.5" width="3.09" height="0.16" fill="#ffa500"/>
<rect x="387.15" y="55.1" width="3.09" height="0.2" fill="#fde57a"/>
<rect x="387.15" y="54.66" width="3.09" height="0.44" fill="#0a920a"/>
<rect x="387.15" y="54.5" width="3.09" height="0.16" fill="#ffa500"/>
<rect x="390.49" y="55.1" width="3.09" height="0.2" fill="#fde57a"/>
<rect x="390.49" y="54.66" width="3.09" height="0.44" fill="#0a920a"/>
<rect x="390.49" y="54.5" width="3.09" height="0.16" fill="#ffa500"/>
<rect x="393.82" y="55.1" width="3.09" height="0.2" fill="#fde57a"/>
<rect x="393.82" y="54.66" width="3.09" height="0.44" fill="#0a920a"/>
<rect x="393.82" y="54.5" width="3.09" height="0.16" fill="#ffa500"/>
<rect x="397.15" y="55.05" width="3.09" height="0.25" fill="#fde57a"/>
<rect x="397.15" y="54.5" width="3.09" height="0.55" fill="#0a920a"/>
<rect x="397.15" y="54.3" width="3.09" height="0.2" fill="#ffa500"/>
<rect x="400.49" y="54.97" width="3.09" height="0.32" fill="#fde57a"/>
<rect x="400.49" y="54.26" width="3.09" height="0.71" fill="#0a920a"/>
<rect x="400.49" y="54" width="3.09" height="0.26" fill="#ffa500"/>
<rect x="403.82" y="55.1" width="3.09" height="0.2" fill="#fde57a"/>
<rect x="403.82" y="54.66" width="3.09" height="0.44" fill="#0a920a"/>
<rect x="403.82" y="54.5" width="3.09" height="0.16" fill="#ffa500"/>
<rect x="407.15" y="54.7" width="3.09" height="0.6" fill="#fde57a"/>
<rect x="407.15" y="53.38" width="3.09" height="1.32" fill="#0a920a"/>
<rect x="407.15" y="52.9" width="3.09" height="0.48" fill="#ffa500"/>
<rect x="410.49" y="54.88" width="3.09" height="0.42" fill="#fde57a"/>
<rect x="410.49" y="53.94" width="3.09" height="0.93" fill="#0a920a"/>
<rect x="410.49" y="53.6" width="3.09" height="0.34" fill="#ffa500"/>
<rect x="413.82" y="55.1" width="3.09" height="0.2" fill="#fde57a"/>
<rect x="413.82" y="54.66" width="3.09" height="0.44" fill="#0a920a"/>
<rect x="413.82" y="54.5" width="3.09" height="0.16" fill="#ffa500"/>
<rect x="417.15" y="55.1" width="3.09" height="0.2" fill="#fde57a"/>
<rect x="417.15" y="54.66" width="3.09" height="0.44" fill="#0a920a"/>
<rect x="417.15" y="54.5" width="3.09" height="0.16" fill="#ffa500"/>
<rect x="420.49" y="55.1" width="3.09" height="0.2" fill="#fde57a"/>
<rect x="420.49" y="54.66" width="3.09" height="0.44" fill="#0a920a"/>
<rect x="420.49" y="54.5" width="3.09" height="0.16" fill="#ffa500"/>
<rect x="423.82" y="55.1" width="3.09" height="0.2" fill="#fde57a"/>
<rect x="423.82" y="54.66" width="3.09" height="0.44" fill="#0a920a"/>
<rect x="423.82" y="54.5" width="3.09" height="0.16" fill="#ffa500"/>
<rect x="427.15" y="54.97" width="3.09" height="0.32" fill="#fde57a"/>
<rect x="427.15" y="54.26" width="3.09" height="0.71" fill="#0a920a"/>
<rect x="427.15" y="54" width="3.09" height="0.26" fill="#ffa500"/>
<rect x="430.49" y="55.1" width="3.09" height="0.2" fill="#fde57a"/>
<rect x="430.49" y="54.66" width="3.09" height="0.44" fill="#0a920a"/>
<rect x="430.49" y="54.5" width="3.09" height="0.16" fill="#ffa500"/>
<rect x="433.82" y="55.1" width="3.09" height="0.2" fill="#fde57a"/>
<rect x="433.82" y="54.66" width="3.09" height="0.44" fill="#0a920a"/>
<rect x="433.82" y="54.5" width="3.09" height="0.16" fill="#ffa500"/>
<rect x="437.15" y="55.1" width="3.09" height="0.2" fill="#fde57a"/>
<rect x="437.15" y="54.66" width="3.09" height="0.44" fill="#0a920a"/>
<rect x="437.15" y="54.5" width="3.09" height="0.16" fill="#ffa500"/>
<rect x="440.49" y="54.95" width="3.09" height="0.35" fill="#fde57a"/>
<rect x="440.49" y="54.18" width="3.09" height="0.77" fill="#0a920a"/>
<rect x="440.49" y="53.9" width="3.09" height="0.28" fill="#ffa500"/>
<rect x="443.82" y="55.1" width="3.09" height="0.2" fill="#fde57a"/>
<rect x="443.82" y="54.66" width="3.09" height="0.44" fill="#0a920a"/>
<rect x="443.82" y="54.5" width="3.09" height="0.16" fill="#ffa500"/>
<rect x="447.15" y="55.1" width="3.09" height="0.2" fill="#fde57a"/>
<rect x="447.15" y="54.66" width="3.09" height="0.44" fill="#0a920a"/>
<rect x="447.15" y="54.5" width="3.09" height="0.16" fill="#ffa500"/>
<rect x="450.49" y="55.1" width="3.09" height="0.2" fill="#fde57a"/>
<rect x="450.49" y="54.66" width="3.09" height="0.44" fill="#0a920a"/>
<rect x="450.49" y="54.5" width="3.09" height="0.16" fill="#ffa500"/>
<rect x="453.82" y="55.1" width="3.09" height="0.2" fill="#fde57a"/>
<rect x="453.82" y="54.66" width="3.09" height="0.44" fill="#0a920a"/>
<rect x="453.82" y="54.5" width="3.09" height="0.16" fill="#ffa500"/>
<rect x="457.15" y="54.8" width="3.09" height="0.5" fill="#fde57a"/>
<rect x="457.15" y="53.7" width="3.09" height="1.1" fill="#0a920a"/>
<rect x="457.15" y="53.3" width="3.09" height="0.4" fill="#ffa500"/>
<rect x="460.49" y="55.1" width="3.09" height="0.2" fill="#fde57a"/>
<rect x="460.49" y="54.66" width="3.09" height="0.44" fill="#0a920a"/>
<rect x="460.49" y="54.5" width="3.09" height="0.16" fill="#ffa500"/>
<rect x="463.82" y="54.95" width="3.09" height="0.35" fill="#fde57a"/>
<rect x="463.82" y="54.18" width="3.09" height="0.77" fill="#0a920a"/>
<rect x="463.82" y="53.9" width="3.09" height="0.28" fill="#ffa500"/>
<rect x="467.15" y="55.1" width="3.09" height="0.2" fill="#fde57a"/>
<rect x="467.15" y="54.66" width="3.09" height="0.44" fill="#0a920a"/>
<rect x="467.15" y="54.5" width="3.09" height="0.16" fill="#ffa500"/>
<rect x="470.49" y="55.1" width="3.09" height="0.2" fill="#fde57a"/>
<rect x="470.49" y="54.66" width="3.09" height="0.44" fill="#0a920a"/>
<rect x="470.49" y="54.5" width="3.09" height="0.16" fill="#ffa500"/>
<line x1="302.4" y1="25.5" x2="302.4" y2="55.3" stroke="#a8a8a8" stroke-width="0.45"/>
<line x1="301.5" y1="25.5" x2="302.4" y2="25.5" stroke="#9a9a9a" stroke-width="0.4"/>
<line x1="301.5" y1="55.3" x2="302.4" y2="55.3" stroke="#9a9a9a" stroke-width="0.4"/>
<text x="299.6" y="26.5" font-size="2.7" text-anchor="end" fill="#333">6077</text>
<text x="299.8" y="56" font-size="2.7" text-anchor="end" fill="#333">0</text>
<text x="296.6" y="40.5" font-size="2.6" text-anchor="middle" fill="#333" transform="rotate(-90 296.6 40.5)">TMB</text>
<text x="302.9" y="60.12" font-size="3.3" text-anchor="end" font-style="italic" fill="#2a2a2a">APC</text>
<text x="474.6" y="60.12" font-size="3.4" fill="#333">65%</text>
<text x="302.9" y="63.66" font-size="3.3" text-anchor="end" font-style="italic" fill="#2a2a2a">TP53</text>
<text x="474.6" y="63.66" font-size="3.4" fill="#333">47%</text>
<text x="302.9" y="67.19" font-size="3.3" text-anchor="end" font-style="italic" fill="#2a2a2a">KRAS</text>
<text x="474.6" y="67.19" font-size="3.4" fill="#333">41%</text>
<text x="302.9" y="70.73" font-size="3.3" text-anchor="end" font-style="italic" fill="#2a2a2a">TTN</text>
<text x="474.6" y="70.73" font-size="3.4" fill="#333">41%</text>
<text x="302.9" y="74.27" font-size="3.3" text-anchor="end" font-style="italic" fill="#2a2a2a">RYR1</text>
<text x="474.6" y="74.27" font-size="3.4" fill="#333">25%</text>
<text x="302.9" y="77.8" font-size="3.3" text-anchor="end" font-style="italic" fill="#2a2a2a">LRP2</text>
<text x="474.6" y="77.8" font-size="3.4" fill="#333">22%</text>
<text x="302.9" y="81.34" font-size="3.3" text-anchor="end" font-style="italic" fill="#2a2a2a">DYNC2H1</text>
<text x="474.6" y="81.34" font-size="3.4" fill="#333">20%</text>
<text x="302.9" y="84.88" font-size="3.3" text-anchor="end" font-style="italic" fill="#2a2a2a">MUC16</text>
<text x="474.6" y="84.88" font-size="3.4" fill="#333">20%</text>
<text x="302.9" y="88.41" font-size="3.3" text-anchor="end" font-style="italic" fill="#2a2a2a">SYNE1</text>
<text x="474.6" y="88.41" font-size="3.4" fill="#333">20%</text>
<text x="302.9" y="91.95" font-size="3.3" text-anchor="end" font-style="italic" fill="#2a2a2a">UNC80</text>
<text x="474.6" y="91.95" font-size="3.4" fill="#333">20%</text>
<text x="302.9" y="95.49" font-size="3.3" text-anchor="end" font-style="italic" fill="#2a2a2a">DMD</text>
<text x="474.6" y="95.49" font-size="3.4" fill="#333">18%</text>
<text x="302.9" y="99.03" font-size="3.3" text-anchor="end" font-style="italic" fill="#2a2a2a">DNAH5</text>
<text x="474.6" y="99.03" font-size="3.4" fill="#333">18%</text>
<text x="302.9" y="102.56" font-size="3.3" text-anchor="end" font-style="italic" fill="#2a2a2a">OBSCN</text>
<text x="474.6" y="102.56" font-size="3.4" fill="#333">18%</text>
<text x="302.9" y="106.1" font-size="3.3" text-anchor="end" font-style="italic" fill="#2a2a2a">PKHD1L1</text>
<text x="474.6" y="106.1" font-size="3.4" fill="#333">18%</text>
<text x="302.9" y="109.64" font-size="3.3" text-anchor="end" font-style="italic" fill="#2a2a2a">BRAF</text>
<text x="474.6" y="109.64" font-size="3.4" fill="#333">16%</text>
<text x="302.9" y="113.17" font-size="3.3" text-anchor="end" font-style="italic" fill="#2a2a2a">CSMD3</text>
<text x="474.6" y="113.17" font-size="3.4" fill="#333">16%</text>
<text x="302.9" y="116.71" font-size="3.3" text-anchor="end" font-style="italic" fill="#2a2a2a">FAT4</text>
<text x="474.6" y="116.71" font-size="3.4" fill="#333">16%</text>
<text x="302.9" y="120.25" font-size="3.3" text-anchor="end" font-style="italic" fill="#2a2a2a">FLG</text>
<text x="474.6" y="120.25" font-size="3.4" fill="#333">16%</text>
<text x="302.9" y="123.78" font-size="3.3" text-anchor="end" font-style="italic" fill="#2a2a2a">KIAA2022</text>
<text x="474.6" y="123.78" font-size="3.4" fill="#333">16%</text>
<text x="302.9" y="127.32" font-size="3.3" text-anchor="end" font-style="italic" fill="#2a2a2a">SPTA1</text>
<text x="474.6" y="127.32" font-size="3.4" fill="#333">16%</text>
<text x="302.9" y="130.86" font-size="3.3" text-anchor="end" font-style="italic" fill="#2a2a2a">COL6A5</text>
<text x="474.6" y="130.86" font-size="3.4" fill="#333">14%</text>
<text x="302.9" y="134.4" font-size="3.3" text-anchor="end" font-style="italic" fill="#2a2a2a">DPP10</text>
<text x="474.6" y="134.4" font-size="3.4" fill="#333">14%</text>
<text x="302.9" y="137.93" font-size="3.3" text-anchor="end" font-style="italic" fill="#2a2a2a">LAMA5</text>
<text x="474.6" y="137.93" font-size="3.4" fill="#333">14%</text>
<text x="302.9" y="141.47" font-size="3.3" text-anchor="end" font-style="italic" fill="#2a2a2a">LRP1B</text>
<text x="474.6" y="141.47" font-size="3.4" fill="#333">14%</text>
<text x="302.9" y="145.01" font-size="3.3" text-anchor="end" font-style="italic" fill="#2a2a2a">NEB</text>
<text x="474.6" y="145.01" font-size="3.4" fill="#333">14%</text>
<text x="302.9" y="148.54" font-size="3.3" text-anchor="end" font-style="italic" fill="#2a2a2a">NRXN1</text>
<text x="474.6" y="148.54" font-size="3.4" fill="#333">14%</text>
<text x="302.9" y="152.08" font-size="3.3" text-anchor="end" font-style="italic" fill="#2a2a2a">TENM1</text>
<text x="474.6" y="152.08" font-size="3.4" fill="#333">14%</text>
<text x="302.9" y="155.62" font-size="3.3" text-anchor="end" font-style="italic" fill="#2a2a2a">TNXB</text>
<text x="474.6" y="155.62" font-size="3.4" fill="#333">14%</text>
<text x="302.9" y="159.15" font-size="3.3" text-anchor="end" font-style="italic" fill="#2a2a2a">PTPRN</text>
<text x="474.6" y="159.15" font-size="3.4" fill="#333">14%</text>
<text x="302.9" y="162.69" font-size="3.3" text-anchor="end" font-style="italic" fill="#2a2a2a">ZFHX4</text>
<text x="474.6" y="162.69" font-size="3.4" fill="#333">14%</text>
<rect x="483" y="57.38" width="1.41" height="3.18" fill="#0a920a"/>
<rect x="484.41" y="57.38" width="2.82" height="3.18" fill="#1f62e0"/>
<rect x="487.24" y="57.38" width="16.94" height="3.18" fill="#f80d0d"/>
<rect x="504.18" y="57.38" width="1.41" height="3.18" fill="#b27cf7"/>
<rect x="505.59" y="57.38" width="24" height="3.18" fill="#000000"/>
<rect x="483" y="60.92" width="26.83" height="3.18" fill="#0a920a"/>
<rect x="509.83" y="60.92" width="2.82" height="3.18" fill="#1f62e0"/>
<rect x="512.65" y="60.92" width="1.41" height="3.18" fill="#f80d0d"/>
<rect x="514.06" y="60.92" width="1.41" height="3.18" fill="#ffa500"/>
<rect x="515.48" y="60.92" width="1.41" height="3.18" fill="#fde57a"/>
<rect x="483" y="64.45" width="29.65" height="3.18" fill="#0a920a"/>
<rect x="483" y="67.99" width="16.94" height="3.18" fill="#0a920a"/>
<rect x="499.94" y="67.99" width="1.41" height="3.18" fill="#1f62e0"/>
<rect x="501.36" y="67.99" width="1.41" height="3.18" fill="#f80d0d"/>
<rect x="502.77" y="67.99" width="9.88" height="3.18" fill="#000000"/>
<rect x="483" y="71.53" width="9.88" height="3.18" fill="#0a920a"/>
<rect x="492.88" y="71.53" width="1.41" height="3.18" fill="#f80d0d"/>
<rect x="494.3" y="71.53" width="1.41" height="3.18" fill="#ffa500"/>
<rect x="495.71" y="71.53" width="5.65" height="3.18" fill="#000000"/>
<rect x="483" y="75.07" width="7.06" height="3.18" fill="#0a920a"/>
<rect x="490.06" y="75.07" width="1.41" height="3.18" fill="#1f62e0"/>
<rect x="491.47" y="75.07" width="1.41" height="3.18" fill="#f80d0d"/>
<rect x="492.88" y="75.07" width="1.41" height="3.18" fill="#a85a0c"/>
<rect x="494.3" y="75.07" width="4.24" height="3.18" fill="#000000"/>
<rect x="483" y="78.6" width="4.24" height="3.18" fill="#0a920a"/>
<rect x="487.24" y="78.6" width="2.82" height="3.18" fill="#1f62e0"/>
<rect x="490.06" y="78.6" width="1.41" height="3.18" fill="#ffa500"/>
<rect x="491.47" y="78.6" width="5.65" height="3.18" fill="#000000"/>
<rect x="483" y="82.14" width="7.06" height="3.18" fill="#0a920a"/>
<rect x="490.06" y="82.14" width="1.41" height="3.18" fill="#1f62e0"/>
<rect x="491.47" y="82.14" width="1.41" height="3.18" fill="#fde57a"/>
<rect x="492.88" y="82.14" width="4.24" height="3.18" fill="#000000"/>
<rect x="483" y="85.68" width="8.47" height="3.18" fill="#0a920a"/>
<rect x="491.47" y="85.68" width="5.65" height="3.18" fill="#000000"/>
<rect x="483" y="89.21" width="12.71" height="3.18" fill="#0a920a"/>
<rect x="495.71" y="89.21" width="1.41" height="3.18" fill="#f80d0d"/>
<rect x="483" y="92.75" width="7.06" height="3.18" fill="#0a920a"/>
<rect x="490.06" y="92.75" width="2.82" height="3.18" fill="#1f62e0"/>
<rect x="492.88" y="92.75" width="2.82" height="3.18" fill="#000000"/>
<rect x="483" y="96.29" width="8.47" height="3.18" fill="#0a920a"/>
<rect x="491.47" y="96.29" width="1.41" height="3.18" fill="#b27cf7"/>
<rect x="492.88" y="96.29" width="2.82" height="3.18" fill="#000000"/>
<rect x="483" y="99.82" width="8.47" height="3.18" fill="#0a920a"/>
<rect x="491.47" y="99.82" width="4.24" height="3.18" fill="#000000"/>
<rect x="483" y="103.36" width="4.24" height="3.18" fill="#0a920a"/>
<rect x="487.24" y="103.36" width="2.82" height="3.18" fill="#f80d0d"/>
<rect x="490.06" y="103.36" width="1.41" height="3.18" fill="#ffa500"/>
<rect x="491.47" y="103.36" width="1.41" height="3.18" fill="#fde57a"/>
<rect x="492.88" y="103.36" width="1.41" height="3.18" fill="#a85a0c"/>
<rect x="494.3" y="103.36" width="1.41" height="3.18" fill="#000000"/>
<rect x="483" y="106.9" width="11.3" height="3.18" fill="#0a920a"/>
<rect x="483" y="110.44" width="8.47" height="3.18" fill="#0a920a"/>
<rect x="491.47" y="110.44" width="1.41" height="3.18" fill="#b27cf7"/>
<rect x="492.88" y="110.44" width="1.41" height="3.18" fill="#000000"/>
<rect x="483" y="113.97" width="7.06" height="3.18" fill="#0a920a"/>
<rect x="490.06" y="113.97" width="1.41" height="3.18" fill="#1f62e0"/>
<rect x="491.47" y="113.97" width="1.41" height="3.18" fill="#f80d0d"/>
<rect x="492.88" y="113.97" width="1.41" height="3.18" fill="#000000"/>
<rect x="483" y="117.51" width="8.47" height="3.18" fill="#0a920a"/>
<rect x="491.47" y="117.51" width="1.41" height="3.18" fill="#1f62e0"/>
<rect x="492.88" y="117.51" width="1.41" height="3.18" fill="#f80d0d"/>
<rect x="483" y="121.05" width="7.06" height="3.18" fill="#0a920a"/>
<rect x="490.06" y="121.05" width="1.41" height="3.18" fill="#1f62e0"/>
<rect x="491.47" y="121.05" width="1.41" height="3.18" fill="#f80d0d"/>
<rect x="492.88" y="121.05" width="1.41" height="3.18" fill="#b27cf7"/>
<rect x="483" y="124.58" width="5.65" height="3.18" fill="#0a920a"/>
<rect x="488.65" y="124.58" width="1.41" height="3.18" fill="#f80d0d"/>
<rect x="490.06" y="124.58" width="1.41" height="3.18" fill="#ffa500"/>
<rect x="491.47" y="124.58" width="2.82" height="3.18" fill="#000000"/>
<rect x="483" y="128.12" width="7.06" height="3.18" fill="#0a920a"/>
<rect x="490.06" y="128.12" width="2.82" height="3.18" fill="#000000"/>
<rect x="483" y="131.66" width="8.47" height="3.18" fill="#0a920a"/>
<rect x="491.47" y="131.66" width="1.41" height="3.18" fill="#000000"/>
<rect x="483" y="135.19" width="7.06" height="3.18" fill="#0a920a"/>
<rect x="490.06" y="135.19" width="2.82" height="3.18" fill="#000000"/>
<rect x="483" y="138.73" width="7.06" height="3.18" fill="#0a920a"/>
<rect x="490.06" y="138.73" width="1.41" height="3.18" fill="#f80d0d"/>
<rect x="491.47" y="138.73" width="1.41" height="3.18" fill="#000000"/>
<rect x="483" y="142.27" width="4.24" height="3.18" fill="#0a920a"/>
<rect x="487.24" y="142.27" width="2.82" height="3.18" fill="#b27cf7"/>
<rect x="490.06" y="142.27" width="2.82" height="3.18" fill="#000000"/>
<rect x="483" y="145.81" width="7.06" height="3.18" fill="#0a920a"/>
<rect x="490.06" y="145.81" width="1.41" height="3.18" fill="#1f62e0"/>
<rect x="491.47" y="145.81" width="1.41" height="3.18" fill="#000000"/>
<rect x="483" y="149.34" width="4.24" height="3.18" fill="#0a920a"/>
<rect x="487.24" y="149.34" width="1.41" height="3.18" fill="#1f62e0"/>
<rect x="488.65" y="149.34" width="1.41" height="3.18" fill="#ffa500"/>
<rect x="490.06" y="149.34" width="1.41" height="3.18" fill="#fde57a"/>
<rect x="491.47" y="149.34" width="1.41" height="3.18" fill="#000000"/>
<rect x="483" y="152.88" width="8.47" height="3.18" fill="#0a920a"/>
<rect x="491.47" y="152.88" width="1.41" height="3.18" fill="#000000"/>
<rect x="483" y="156.42" width="5.65" height="3.18" fill="#0a920a"/>
<rect x="488.65" y="156.42" width="1.41" height="3.18" fill="#f80d0d"/>
<rect x="490.06" y="156.42" width="1.41" height="3.18" fill="#b27cf7"/>
<rect x="491.47" y="156.42" width="1.41" height="3.18" fill="#000000"/>
<rect x="483" y="159.95" width="7.06" height="3.18" fill="#0a920a"/>
<rect x="490.06" y="159.95" width="2.82" height="3.18" fill="#000000"/>
<line x1="483" y1="56.8" x2="529.6" y2="56.8" stroke="#666" stroke-width="0.4"/>
<line x1="483" y1="56" x2="483" y2="56.8" stroke="#666" stroke-width="0.35"/>
<line x1="529.6" y1="56" x2="529.6" y2="56.8" stroke="#666" stroke-width="0.35"/>
<text x="506.4" y="55" font-size="2.6" text-anchor="middle" fill="#333">No. of samples</text>
<text x="483.2" y="52.6" font-size="2.5" text-anchor="middle" fill="#333">0</text>
<text x="529.4" y="52.6" font-size="2.5" text-anchor="middle" fill="#333">33</text>
<line x1="532.7" y1="20.5" x2="532.7" y2="62.6" stroke="#8a8a8a" stroke-width="0.55"/>
<text x="306.22" y="176.9" font-size="2.5" fill="#222" transform="rotate(-90 306.22 176.9)" textLength="12" lengthAdjust="spacingAndGlyphs">CRC-2001T</text>
<text x="309.55" y="176.9" font-size="2.5" fill="#222" transform="rotate(-90 309.55 176.9)" textLength="12" lengthAdjust="spacingAndGlyphs">CRC-2042T</text>
<text x="312.88" y="176.9" font-size="2.5" fill="#222" transform="rotate(-90 312.88 176.9)" textLength="12" lengthAdjust="spacingAndGlyphs">CRC-2083T</text>
<text x="316.22" y="176.9" font-size="2.5" fill="#222" transform="rotate(-90 316.22 176.9)" textLength="12" lengthAdjust="spacingAndGlyphs">CRC-2035T</text>
<text x="319.55" y="176.9" font-size="2.5" fill="#222" transform="rotate(-90 319.55 176.9)" textLength="12" lengthAdjust="spacingAndGlyphs">CRC-2076T</text>
<text x="322.88" y="176.9" font-size="2.5" fill="#222" transform="rotate(-90 322.88 176.9)" textLength="12" lengthAdjust="spacingAndGlyphs">CRC-2028T</text>
<text x="326.22" y="176.9" font-size="2.5" fill="#222" transform="rotate(-90 326.22 176.9)" textLength="12" lengthAdjust="spacingAndGlyphs">CRC-2069T</text>
<text x="329.55" y="176.9" font-size="2.5" fill="#222" transform="rotate(-90 329.55 176.9)" textLength="12" lengthAdjust="spacingAndGlyphs">CRC-2021T</text>
<text x="332.88" y="176.9" font-size="2.5" fill="#222" transform="rotate(-90 332.88 176.9)" textLength="12" lengthAdjust="spacingAndGlyphs">CRC-2062T</text>
<text x="336.22" y="176.9" font-size="2.5" fill="#222" transform="rotate(-90 336.22 176.9)" textLength="12" lengthAdjust="spacingAndGlyphs">CRC-2014T</text>
<text x="339.55" y="176.9" font-size="2.5" fill="#222" transform="rotate(-90 339.55 176.9)" textLength="12" lengthAdjust="spacingAndGlyphs">CRC-2055T</text>
<text x="342.88" y="176.9" font-size="2.5" fill="#222" transform="rotate(-90 342.88 176.9)" textLength="12" lengthAdjust="spacingAndGlyphs">CRC-2007T</text>
<text x="346.22" y="176.9" font-size="2.5" fill="#222" transform="rotate(-90 346.22 176.9)" textLength="12" lengthAdjust="spacingAndGlyphs">CRC-2048T</text>
<text x="349.55" y="176.9" font-size="2.5" fill="#222" transform="rotate(-90 349.55 176.9)" textLength="12" lengthAdjust="spacingAndGlyphs">CRC-2089T</text>
<text x="352.88" y="176.9" font-size="2.5" fill="#222" transform="rotate(-90 352.88 176.9)" textLength="12" lengthAdjust="spacingAndGlyphs">CRC-2041T</text>
<text x="356.22" y="176.9" font-size="2.5" fill="#222" transform="rotate(-90 356.22 176.9)" textLength="12" lengthAdjust="spacingAndGlyphs">CRC-2082T</text>
<text x="359.55" y="176.9" font-size="2.5" fill="#222" transform="rotate(-90 359.55 176.9)" textLength="12" lengthAdjust="spacingAndGlyphs">CRC-2034T</text>
<text x="362.88" y="176.9" font-size="2.5" fill="#222" transform="rotate(-90 362.88 176.9)" textLength="12" lengthAdjust="spacingAndGlyphs">CRC-2075T</text>
<text x="366.22" y="176.9" font-size="2.5" fill="#222" transform="rotate(-90 366.22 176.9)" textLength="12" lengthAdjust="spacingAndGlyphs">CRC-2027T</text>
<text x="369.55" y="176.9" font-size="2.5" fill="#222" transform="rotate(-90 369.55 176.9)" textLength="12" lengthAdjust="spacingAndGlyphs">CRC-2068T</text>
<text x="372.88" y="176.9" font-size="2.5" fill="#222" transform="rotate(-90 372.88 176.9)" textLength="12" lengthAdjust="spacingAndGlyphs">CRC-2020T</text>
<text x="376.22" y="176.9" font-size="2.5" fill="#222" transform="rotate(-90 376.22 176.9)" textLength="12" lengthAdjust="spacingAndGlyphs">CRC-2061T</text>
<text x="379.55" y="176.9" font-size="2.5" fill="#222" transform="rotate(-90 379.55 176.9)" textLength="12" lengthAdjust="spacingAndGlyphs">CRC-2013T</text>
<text x="382.88" y="176.9" font-size="2.5" fill="#222" transform="rotate(-90 382.88 176.9)" textLength="12" lengthAdjust="spacingAndGlyphs">CRC-2054T</text>
<text x="386.22" y="176.9" font-size="2.5" fill="#222" transform="rotate(-90 386.22 176.9)" textLength="12" lengthAdjust="spacingAndGlyphs">CRC-2006T</text>
<text x="389.55" y="176.9" font-size="2.5" fill="#222" transform="rotate(-90 389.55 176.9)" textLength="12" lengthAdjust="spacingAndGlyphs">CRC-2047T</text>
<text x="392.88" y="176.9" font-size="2.5" fill="#222" transform="rotate(-90 392.88 176.9)" textLength="12" lengthAdjust="spacingAndGlyphs">CRC-2088T</text>
<text x="396.22" y="176.9" font-size="2.5" fill="#222" transform="rotate(-90 396.22 176.9)" textLength="12" lengthAdjust="spacingAndGlyphs">CRC-2040T</text>
<text x="399.55" y="176.9" font-size="2.5" fill="#222" transform="rotate(-90 399.55 176.9)" textLength="12" lengthAdjust="spacingAndGlyphs">CRC-2081T</text>
<text x="402.88" y="176.9" font-size="2.5" fill="#222" transform="rotate(-90 402.88 176.9)" textLength="12" lengthAdjust="spacingAndGlyphs">CRC-2033T</text>
<text x="406.22" y="176.9" font-size="2.5" fill="#222" transform="rotate(-90 406.22 176.9)" textLength="12" lengthAdjust="spacingAndGlyphs">CRC-2074T</text>
<text x="409.55" y="176.9" font-size="2.5" fill="#222" transform="rotate(-90 409.55 176.9)" textLength="12" lengthAdjust="spacingAndGlyphs">CRC-2026T</text>
<text x="412.88" y="176.9" font-size="2.5" fill="#222" transform="rotate(-90 412.88 176.9)" textLength="12" lengthAdjust="spacingAndGlyphs">CRC-2067T</text>
<text x="416.22" y="176.9" font-size="2.5" fill="#222" transform="rotate(-90 416.22 176.9)" textLength="12" lengthAdjust="spacingAndGlyphs">CRC-2019T</text>
<text x="419.55" y="176.9" font-size="2.5" fill="#222" transform="rotate(-90 419.55 176.9)" textLength="12" lengthAdjust="spacingAndGlyphs">CRC-2060T</text>
<text x="422.88" y="176.9" font-size="2.5" fill="#222" transform="rotate(-90 422.88 176.9)" textLength="12" lengthAdjust="spacingAndGlyphs">CRC-2012T</text>
<text x="426.22" y="176.9" font-size="2.5" fill="#222" transform="rotate(-90 426.22 176.9)" textLength="12" lengthAdjust="spacingAndGlyphs">CRC-2053T</text>
<text x="429.55" y="176.9" font-size="2.5" fill="#222" transform="rotate(-90 429.55 176.9)" textLength="12" lengthAdjust="spacingAndGlyphs">CRC-2005T</text>
<text x="432.88" y="176.9" font-size="2.5" fill="#222" transform="rotate(-90 432.88 176.9)" textLength="12" lengthAdjust="spacingAndGlyphs">CRC-2046T</text>
<text x="436.22" y="176.9" font-size="2.5" fill="#222" transform="rotate(-90 436.22 176.9)" textLength="12" lengthAdjust="spacingAndGlyphs">CRC-2087T</text>
<text x="439.55" y="176.9" font-size="2.5" fill="#222" transform="rotate(-90 439.55 176.9)" textLength="12" lengthAdjust="spacingAndGlyphs">CRC-2039T</text>
<text x="442.88" y="176.9" font-size="2.5" fill="#222" transform="rotate(-90 442.88 176.9)" textLength="12" lengthAdjust="spacingAndGlyphs">CRC-2080T</text>
<text x="446.22" y="176.9" font-size="2.5" fill="#222" transform="rotate(-90 446.22 176.9)" textLength="12" lengthAdjust="spacingAndGlyphs">CRC-2032T</text>
<text x="449.55" y="176.9" font-size="2.5" fill="#222" transform="rotate(-90 449.55 176.9)" textLength="12" lengthAdjust="spacingAndGlyphs">CRC-2073T</text>
<text x="452.88" y="176.9" font-size="2.5" fill="#222" transform="rotate(-90 452.88 176.9)" textLength="12" lengthAdjust="spacingAndGlyphs">CRC-2025T</text>
<text x="456.22" y="176.9" font-size="2.5" fill="#222" transform="rotate(-90 456.22 176.9)" textLength="12" lengthAdjust="spacingAndGlyphs">CRC-2066T</text>
<text x="459.55" y="176.9" font-size="2.5" fill="#222" transform="rotate(-90 459.55 176.9)" textLength="12" lengthAdjust="spacingAndGlyphs">CRC-2018T</text>
<text x="462.88" y="176.9" font-size="2.5" fill="#222" transform="rotate(-90 462.88 176.9)" textLength="12" lengthAdjust="spacingAndGlyphs">CRC-2059T</text>
<text x="466.22" y="176.9" font-size="2.5" fill="#222" transform="rotate(-90 466.22 176.9)" textLength="12" lengthAdjust="spacingAndGlyphs">CRC-2011T</text>
<text x="469.55" y="176.9" font-size="2.5" fill="#222" transform="rotate(-90 469.55 176.9)" textLength="12" lengthAdjust="spacingAndGlyphs">CRC-2052T</text>
<text x="472.88" y="176.9" font-size="2.5" fill="#222" transform="rotate(-90 472.88 176.9)" textLength="12" lengthAdjust="spacingAndGlyphs">CRC-2004T</text>
<rect x="303.7" y="178.1" width="3.93" height="2.7" fill="#10105c"/>
<rect x="303.7" y="181" width="3.93" height="3" fill="#92ee90"/>
<rect x="303.7" y="184.4" width="3.93" height="3.1" fill="#d9264f"/>
<rect x="303.7" y="187.8" width="3.93" height="3" fill="#8890d4"/>
<rect x="307.03" y="178.1" width="3.93" height="2.7" fill="#1c96d0"/>
<rect x="307.03" y="181" width="3.93" height="3" fill="#92ee90"/>
<rect x="307.03" y="184.4" width="3.93" height="3.1" fill="#1b0a8c"/>
<rect x="307.03" y="187.8" width="3.93" height="3" fill="#8890d4"/>
<rect x="310.37" y="178.1" width="3.93" height="2.7" fill="#1c96d0"/>
<rect x="310.37" y="181" width="3.93" height="3" fill="#92ee90"/>
<rect x="310.37" y="184.4" width="3.93" height="3.1" fill="#d9264f"/>
<rect x="310.37" y="187.8" width="3.93" height="3" fill="#8890d4"/>
<rect x="313.7" y="178.1" width="3.93" height="2.7" fill="#1c96d0"/>
<rect x="313.7" y="181" width="3.93" height="3" fill="#0a9a12"/>
<rect x="313.7" y="184.4" width="3.93" height="3.1" fill="#d9264f"/>
<rect x="313.7" y="187.8" width="3.93" height="3" fill="#8890d4"/>
<rect x="317.03" y="178.1" width="3.93" height="2.7" fill="#1c96d0"/>
<rect x="317.03" y="181" width="3.93" height="3" fill="#92ee90"/>
<rect x="317.03" y="184.4" width="3.93" height="3.1" fill="#d9264f"/>
<rect x="317.03" y="187.8" width="3.93" height="3" fill="#9440b4"/>
<rect x="320.37" y="178.1" width="3.93" height="2.7" fill="#1c96d0"/>
<rect x="320.37" y="181" width="3.93" height="3" fill="#92ee90"/>
<rect x="320.37" y="184.4" width="3.93" height="3.1" fill="#1b0a8c"/>
<rect x="320.37" y="187.8" width="3.93" height="3" fill="#9440b4"/>
<rect x="323.7" y="178.1" width="3.93" height="2.7" fill="#1c96d0"/>
<rect x="323.7" y="181" width="3.93" height="3" fill="#92ee90"/>
<rect x="323.7" y="184.4" width="3.93" height="3.1" fill="#d9264f"/>
<rect x="323.7" y="187.8" width="3.93" height="3" fill="#8c70c8"/>
<rect x="327.03" y="178.1" width="3.93" height="2.7" fill="#1c96d0"/>
<rect x="327.03" y="181" width="3.93" height="3" fill="#92ee90"/>
<rect x="327.03" y="184.4" width="3.93" height="3.1" fill="#d9264f"/>
<rect x="327.03" y="187.8" width="3.93" height="3" fill="#9440b4"/>
<rect x="330.37" y="178.1" width="3.93" height="2.7" fill="#1c96d0"/>
<rect x="330.37" y="181" width="3.93" height="3" fill="#92ee90"/>
<rect x="330.37" y="184.4" width="3.93" height="3.1" fill="#1b0a8c"/>
<rect x="330.37" y="187.8" width="3.93" height="3" fill="#9aa0dc"/>
<rect x="333.7" y="178.1" width="3.93" height="2.7" fill="#1c96d0"/>
<rect x="333.7" y="181" width="3.93" height="3" fill="#92ee90"/>
<rect x="333.7" y="184.4" width="3.93" height="3.1" fill="#1b0a8c"/>
<rect x="333.7" y="187.8" width="3.93" height="3" fill="#9468c4"/>
<rect x="337.03" y="178.1" width="3.93" height="2.7" fill="#1c96d0"/>
<rect x="337.03" y="181" width="3.93" height="3" fill="#92ee90"/>
<rect x="337.03" y="184.4" width="3.93" height="3.1" fill="#1b0a8c"/>
<rect x="337.03" y="187.8" width="3.93" height="3" fill="#8890d4"/>
<rect x="340.37" y="178.1" width="3.93" height="2.7" fill="#1c96d0"/>
<rect x="340.37" y="181" width="3.93" height="3" fill="#92ee90"/>
<rect x="340.37" y="184.4" width="3.93" height="3.1" fill="#1b0a8c"/>
<rect x="340.37" y="187.8" width="3.93" height="3" fill="#9440b4"/>
<rect x="343.7" y="178.1" width="3.93" height="2.7" fill="#1c96d0"/>
<rect x="343.7" y="181" width="3.93" height="3" fill="#92ee90"/>
<rect x="343.7" y="184.4" width="3.93" height="3.1" fill="#1b0a8c"/>
<rect x="343.7" y="187.8" width="3.93" height="3" fill="#8890d4"/>
<rect x="347.03" y="178.1" width="3.93" height="2.7" fill="#1c96d0"/>
<rect x="347.03" y="181" width="3.93" height="3" fill="#92ee90"/>
<rect x="347.03" y="184.4" width="3.93" height="3.1" fill="#d9264f"/>
<rect x="347.03" y="187.8" width="3.93" height="3" fill="#a8c6ee"/>
<rect x="350.37" y="178.1" width="3.93" height="2.7" fill="#1c96d0"/>
<rect x="350.37" y="181" width="3.93" height="3" fill="#92ee90"/>
<rect x="350.37" y="184.4" width="3.93" height="3.1" fill="#1b0a8c"/>
<rect x="350.37" y="187.8" width="3.93" height="3" fill="#8890d4"/>
<rect x="353.7" y="178.1" width="3.93" height="2.7" fill="#1c96d0"/>
<rect x="353.7" y="181" width="3.93" height="3" fill="#0a9a12"/>
<rect x="353.7" y="184.4" width="3.93" height="3.1" fill="#d9264f"/>
<rect x="353.7" y="187.8" width="3.93" height="3" fill="#9440b4"/>
<rect x="357.03" y="178.1" width="3.93" height="2.7" fill="#1c96d0"/>
<rect x="357.03" y="181" width="3.93" height="3" fill="#0a9a12"/>
<rect x="357.03" y="184.4" width="3.93" height="3.1" fill="#d9264f"/>
<rect x="357.03" y="187.8" width="3.93" height="3" fill="#8890d4"/>
<rect x="360.37" y="178.1" width="3.93" height="2.7" fill="#1c96d0"/>
<rect x="360.37" y="181" width="3.93" height="3" fill="#92ee90"/>
<rect x="360.37" y="184.4" width="3.93" height="3.1" fill="#1b0a8c"/>
<rect x="360.37" y="187.8" width="3.93" height="3" fill="#9440b4"/>
<rect x="363.7" y="178.1" width="3.93" height="2.7" fill="#1c96d0"/>
<rect x="363.7" y="181" width="3.93" height="3" fill="#92ee90"/>
<rect x="363.7" y="184.4" width="3.93" height="3.1" fill="#1b0a8c"/>
<rect x="363.7" y="187.8" width="3.93" height="3" fill="#9440b4"/>
<rect x="367.03" y="178.1" width="3.93" height="2.7" fill="#f0604a"/>
<rect x="367.03" y="181" width="3.93" height="3" fill="#92ee90"/>
<rect x="367.03" y="184.4" width="3.93" height="3.1" fill="#1b0a8c"/>
<rect x="367.03" y="187.8" width="3.93" height="3" fill="#8890d4"/>
<rect x="370.37" y="178.1" width="3.93" height="2.7" fill="#f0604a"/>
<rect x="370.37" y="181" width="3.93" height="3" fill="#92ee90"/>
<rect x="370.37" y="184.4" width="3.93" height="3.1" fill="#1b0a8c"/>
<rect x="370.37" y="187.8" width="3.93" height="3" fill="#8890d4"/>
<rect x="373.7" y="178.1" width="3.93" height="2.7" fill="#f0604a"/>
<rect x="373.7" y="181" width="3.93" height="3" fill="#92ee90"/>
<rect x="373.7" y="184.4" width="3.93" height="3.1" fill="#1b0a8c"/>
<rect x="373.7" y="187.8" width="3.93" height="3" fill="#8890d4"/>
<rect x="377.03" y="178.1" width="3.93" height="2.7" fill="#f0604a"/>
<rect x="377.03" y="181" width="3.93" height="3" fill="#0a9a12"/>
<rect x="377.03" y="184.4" width="3.93" height="3.1" fill="#1b0a8c"/>
<rect x="377.03" y="187.8" width="3.93" height="3" fill="#a8c6ee"/>
<rect x="380.37" y="178.1" width="3.93" height="2.7" fill="#f0604a"/>
<rect x="380.37" y="181" width="3.93" height="3" fill="#0a9a12"/>
<rect x="380.37" y="184.4" width="3.93" height="3.1" fill="#1b0a8c"/>
<rect x="380.37" y="187.8" width="3.93" height="3" fill="#f4f6fc"/>
<rect x="383.7" y="178.1" width="3.93" height="2.7" fill="#f0604a"/>
<rect x="383.7" y="181" width="3.93" height="3" fill="#92ee90"/>
<rect x="383.7" y="184.4" width="3.93" height="3.1" fill="#1b0a8c"/>
<rect x="383.7" y="187.8" width="3.93" height="3" fill="#9440b4"/>
<rect x="387.03" y="178.1" width="3.93" height="2.7" fill="#f0604a"/>
<rect x="387.03" y="181" width="3.93" height="3" fill="#92ee90"/>
<rect x="387.03" y="184.4" width="3.93" height="3.1" fill="#1b0a8c"/>
<rect x="387.03" y="187.8" width="3.93" height="3" fill="#9440b4"/>
<rect x="390.37" y="178.1" width="3.93" height="2.7" fill="#f0604a"/>
<rect x="390.37" y="181" width="3.93" height="3" fill="#92ee90"/>
<rect x="390.37" y="184.4" width="3.93" height="3.1" fill="#d9264f"/>
<rect x="390.37" y="187.8" width="3.93" height="3" fill="#8890d4"/>
<rect x="393.7" y="178.1" width="3.93" height="2.7" fill="#f0604a"/>
<rect x="393.7" y="181" width="3.93" height="3" fill="#92ee90"/>
<rect x="393.7" y="184.4" width="3.93" height="3.1" fill="#1b0a8c"/>
<rect x="393.7" y="187.8" width="3.93" height="3" fill="#a8c6ee"/>
<rect x="397.03" y="178.1" width="3.93" height="2.7" fill="#f0604a"/>
<rect x="397.03" y="181" width="3.93" height="3" fill="#92ee90"/>
<rect x="397.03" y="184.4" width="3.93" height="3.1" fill="#1b0a8c"/>
<rect x="397.03" y="187.8" width="3.93" height="3" fill="#c6dcf4"/>
<rect x="400.37" y="178.1" width="3.93" height="2.7" fill="#c4101e"/>
<rect x="400.37" y="181" width="3.93" height="3" fill="#92ee90"/>
<rect x="400.37" y="184.4" width="3.93" height="3.1" fill="#d9264f"/>
<rect x="400.37" y="187.8" width="3.93" height="3" fill="#e8eef8"/>
<rect x="403.7" y="178.1" width="3.93" height="2.7" fill="#c4101e"/>
<rect x="403.7" y="181" width="3.93" height="3" fill="#92ee90"/>
<rect x="403.7" y="184.4" width="3.93" height="3.1" fill="#d9264f"/>
<rect x="403.7" y="187.8" width="3.93" height="3" fill="#82087e"/>
<rect x="407.03" y="178.1" width="3.93" height="2.7" fill="#c4101e"/>
<rect x="407.03" y="181" width="3.93" height="3" fill="#92ee90"/>
<rect x="407.03" y="184.4" width="3.93" height="3.1" fill="#1b0a8c"/>
<rect x="407.03" y="187.8" width="3.93" height="3" fill="#a0a4de"/>
<rect x="410.37" y="178.1" width="3.93" height="2.7" fill="#c4101e"/>
<rect x="410.37" y="181" width="3.93" height="3" fill="#92ee90"/>
<rect x="410.37" y="184.4" width="3.93" height="3.1" fill="#d9264f"/>
<rect x="410.37" y="187.8" width="3.93" height="3" fill="#9440b4"/>
<rect x="413.7" y="178.1" width="3.93" height="2.7" fill="#c4101e"/>
<rect x="413.7" y="181" width="3.93" height="3" fill="#0a9a12"/>
<rect x="413.7" y="184.4" width="3.93" height="3.1" fill="#d9264f"/>
<rect x="413.7" y="187.8" width="3.93" height="3" fill="#a8c6ee"/>
<rect x="417.03" y="178.1" width="3.93" height="2.7" fill="#7c0f20"/>
<rect x="417.03" y="181" width="3.93" height="3" fill="#92ee90"/>
<rect x="417.03" y="184.4" width="3.93" height="3.1" fill="#d9264f"/>
<rect x="417.03" y="187.8" width="3.93" height="3" fill="#9440b4"/>
<rect x="420.37" y="178.1" width="3.93" height="2.7" fill="#7c0f20"/>
<rect x="420.37" y="181" width="3.93" height="3" fill="#92ee90"/>
<rect x="420.37" y="184.4" width="3.93" height="3.1" fill="#1b0a8c"/>
<rect x="420.37" y="187.8" width="3.93" height="3" fill="#9060c0"/>
<rect x="423.7" y="178.1" width="3.93" height="2.7" fill="#7c0f20"/>
<rect x="423.7" y="181" width="3.93" height="3" fill="#92ee90"/>
<rect x="423.7" y="184.4" width="3.93" height="3.1" fill="#1b0a8c"/>
<rect x="423.7" y="187.8" width="3.93" height="3" fill="#8890d4"/>
<rect x="427.03" y="178.1" width="3.93" height="2.7" fill="#7c0f20"/>
<rect x="427.03" y="181" width="3.93" height="3" fill="#92ee90"/>
<rect x="427.03" y="184.4" width="3.93" height="3.1" fill="#1b0a8c"/>
<rect x="427.03" y="187.8" width="3.93" height="3" fill="#9440b4"/>
<rect x="430.37" y="178.1" width="3.93" height="2.7" fill="#7c0f20"/>
<rect x="430.37" y="181" width="3.93" height="3" fill="#92ee90"/>
<rect x="430.37" y="184.4" width="3.93" height="3.1" fill="#1b0a8c"/>
<rect x="430.37" y="187.8" width="3.93" height="3" fill="#9868c4"/>
<rect x="433.7" y="178.1" width="3.93" height="2.7" fill="#7c0f20"/>
<rect x="433.7" y="181" width="3.93" height="3" fill="#92ee90"/>
<rect x="433.7" y="184.4" width="3.93" height="3.1" fill="#1b0a8c"/>
<rect x="433.7" y="187.8" width="3.93" height="3" fill="#9440b4"/>
<rect x="437.03" y="178.1" width="3.93" height="2.7" fill="#7c0f20"/>
<rect x="437.03" y="181" width="3.93" height="3" fill="#92ee90"/>
<rect x="437.03" y="184.4" width="3.93" height="3.1" fill="#1b0a8c"/>
<rect x="437.03" y="187.8" width="3.93" height="3" fill="#a8c6ee"/>
<rect x="440.37" y="178.1" width="3.93" height="2.7" fill="#7c0f20"/>
<rect x="440.37" y="181" width="3.93" height="3" fill="#92ee90"/>
<rect x="440.37" y="184.4" width="3.93" height="3.1" fill="#1b0a8c"/>
<rect x="440.37" y="187.8" width="3.93" height="3" fill="#a8c6ee"/>
<rect x="443.7" y="178.1" width="3.93" height="2.7" fill="#7c0f20"/>
<rect x="443.7" y="181" width="3.93" height="3" fill="#92ee90"/>
<rect x="443.7" y="184.4" width="3.93" height="3.1" fill="#1b0a8c"/>
<rect x="443.7" y="187.8" width="3.93" height="3" fill="#9440b4"/>
<rect x="447.03" y="178.1" width="3.93" height="2.7" fill="#7c0f20"/>
<rect x="447.03" y="181" width="3.93" height="3" fill="#92ee90"/>
<rect x="447.03" y="184.4" width="3.93" height="3.1" fill="#d9264f"/>
<rect x="447.03" y="187.8" width="3.93" height="3" fill="#9868c4"/>
<rect x="450.37" y="178.1" width="3.93" height="2.7" fill="#7c0f20"/>
<rect x="450.37" y="181" width="3.93" height="3" fill="#92ee90"/>
<rect x="450.37" y="184.4" width="3.93" height="3.1" fill="#1b0a8c"/>
<rect x="450.37" y="187.8" width="3.93" height="3" fill="#9440b4"/>
<rect x="453.7" y="178.1" width="3.93" height="2.7" fill="#7c0f20"/>
<rect x="453.7" y="181" width="3.93" height="3" fill="#92ee90"/>
<rect x="453.7" y="184.4" width="3.93" height="3.1" fill="#d9264f"/>
<rect x="453.7" y="187.8" width="3.93" height="3" fill="#8890d4"/>
<rect x="457.03" y="178.1" width="3.93" height="2.7" fill="#7c0f20"/>
<rect x="457.03" y="181" width="3.93" height="3" fill="#92ee90"/>
<rect x="457.03" y="184.4" width="3.93" height="3.1" fill="#1b0a8c"/>
<rect x="457.03" y="187.8" width="3.93" height="3" fill="#9440b4"/>
<rect x="460.37" y="178.1" width="3.93" height="2.7" fill="#7c0f20"/>
<rect x="460.37" y="181" width="3.93" height="3" fill="#92ee90"/>
<rect x="460.37" y="184.4" width="3.93" height="3.1" fill="#1b0a8c"/>
<rect x="460.37" y="187.8" width="3.93" height="3" fill="#9868c4"/>
<rect x="463.7" y="178.1" width="3.93" height="2.7" fill="#c9c9c9"/>
<rect x="463.7" y="181" width="3.93" height="3" fill="#92ee90"/>
<rect x="463.7" y="184.4" width="3.93" height="3.1" fill="#1b0a8c"/>
<rect x="463.7" y="187.8" width="3.93" height="3" fill="#a8c6ee"/>
<rect x="467.03" y="178.1" width="3.93" height="2.7" fill="#c9c9c9"/>
<rect x="467.03" y="181" width="3.93" height="3" fill="#92ee90"/>
<rect x="467.03" y="184.4" width="3.93" height="3.1" fill="#1b0a8c"/>
<rect x="467.03" y="187.8" width="3.93" height="3" fill="#a8c6ee"/>
<rect x="470.37" y="178.1" width="3.33" height="2.7" fill="#c9c9c9"/>
<rect x="470.37" y="181" width="3.33" height="3" fill="#92ee90"/>
<rect x="470.37" y="184.4" width="3.33" height="3.1" fill="#1b0a8c"/>
<rect x="470.37" y="187.8" width="3.33" height="3" fill="#9440b4"/>
<text x="475.3" y="180.6" font-size="3.3" fill="#111">Stage</text>
<text x="475.3" y="183.8" font-size="3.3" fill="#777">LVI</text>
<text x="475.3" y="187.2" font-size="3.3" fill="#111">Gender</text>
<text x="475.3" y="190.6" font-size="3.3" fill="#111">Age</text>
<rect x="517.75" y="63.45" width="1.5" height="1.5" fill="#ffa500"/>
<text x="517.65" y="66.5" font-size="2.35" fill="#1a1a1a" transform="rotate(90 517.65 66.5)">Splice_Site</text>
<rect x="522.55" y="63.45" width="1.5" height="1.5" fill="#f80d0d"/>
<text x="522.45" y="66.5" font-size="2.35" fill="#1a1a1a" transform="rotate(90 522.45 66.5)">Nonsense_Mutation</text>
<rect x="527.65" y="63.45" width="1.5" height="1.5" fill="#1f62e0"/>
<text x="527.55" y="66.5" font-size="2.35" fill="#1a1a1a" transform="rotate(90 527.55 66.5)">Frame_Shift_Del</text>
<rect x="532.45" y="63.45" width="1.5" height="1.5" fill="#0a920a"/>
<text x="532.35" y="66.5" font-size="2.35" fill="#1a1a1a" transform="rotate(90 532.35 66.5)">Missense_Mutation</text>
<rect x="517.75" y="86.85" width="1.5" height="1.5" fill="#000000"/>
<text x="517.65" y="89.9" font-size="2.35" fill="#1a1a1a" transform="rotate(90 517.65 89.9)">Multi_Hit</text>
<rect x="522.55" y="86.85" width="1.5" height="1.5" fill="#fde57a"/>
<text x="522.45" y="89.9" font-size="2.35" fill="#1a1a1a" transform="rotate(90 522.45 89.9)">In_Frame_Del</text>
<rect x="527.65" y="86.85" width="1.5" height="1.5" fill="#a85a0c"/>
<text x="527.55" y="89.9" font-size="2.35" fill="#1a1a1a" transform="rotate(90 527.55 89.9)">In_Frame_Ins</text>
<rect x="532.45" y="86.85" width="1.5" height="1.5" fill="#b27cf7"/>
<text x="532.35" y="89.9" font-size="2.35" fill="#1a1a1a" transform="rotate(90 532.35 89.9)">Frame_Shift_Ins</text>
<text x="531.7" y="118.2" font-size="2.3" fill="#333" transform="rotate(90 531.7 118.2)">Stage</text>
<rect x="526.15" y="119.05" width="1.9" height="1.5" fill="#1c3c9c"/>
<text x="526.27" y="121.9" font-size="2.3" fill="#2a2a2a" transform="rotate(90 526.27 121.9)">0</text>
<rect x="521.35" y="119.05" width="1.9" height="1.5" fill="#1ca6de"/>
<text x="521.47" y="121.9" font-size="2.3" fill="#2a2a2a" transform="rotate(90 521.47 121.9)">I</text>
<rect x="516.25" y="119.05" width="1.9" height="1.5" fill="#f88070"/>
<text x="516.37" y="121.9" font-size="2.3" fill="#2a2a2a" transform="rotate(90 516.37 121.9)">II</text>
<rect x="526.15" y="127.05" width="1.9" height="1.5" fill="#e8102e"/>
<text x="526.27" y="129.9" font-size="2.3" fill="#2a2a2a" transform="rotate(90 526.27 129.9)">III</text>
<rect x="521.35" y="127.05" width="1.9" height="1.5" fill="#8c1020"/>
<text x="521.47" y="129.9" font-size="2.3" fill="#2a2a2a" transform="rotate(90 521.47 129.9)">IV</text>
<rect x="516.25" y="127.05" width="1.9" height="1.5" fill="#d8d8e4"/>
<text x="516.37" y="129.9" font-size="2.3" fill="#2a2a2a" transform="rotate(90 516.37 129.9)">NA</text>
<text x="531.7" y="136" font-size="2.3" fill="#333" transform="rotate(90 531.7 136)">LVI</text>
<rect x="526.15" y="135.95" width="1.9" height="1.5" fill="#0a9a12"/>
<text x="526.27" y="138.8" font-size="2.3" fill="#2a2a2a" transform="rotate(90 526.27 138.8)">yes</text>
<rect x="521.35" y="135.95" width="1.9" height="1.5" fill="#92ee90"/>
<text x="521.47" y="138.8" font-size="2.3" fill="#2a2a2a" transform="rotate(90 521.47 138.8)">no</text>
<text x="531.7" y="145.6" font-size="2.3" fill="#333" transform="rotate(90 531.7 145.6)">Gender</text>
<rect x="526.15" y="146.15" width="1.9" height="1.5" fill="#e8264f"/>
<text x="526.27" y="149" font-size="2.3" fill="#2a2a2a" transform="rotate(90 526.27 149)">female</text>
<rect x="521.35" y="146.15" width="1.9" height="1.5" fill="#1b0a9c"/>
<text x="521.47" y="149" font-size="2.3" fill="#2a2a2a" transform="rotate(90 521.47 149)">male</text>
<text x="531.7" y="157.8" font-size="2.3" fill="#333" transform="rotate(90 531.7 157.8)">Age</text>
<rect x="526.15" y="158.05" width="1.9" height="1.5" fill="#f4f8ff"/>
<text x="526.27" y="160.9" font-size="2.3" fill="#2a2a2a" transform="rotate(90 526.27 160.9)">31~35</text>
<rect x="521.35" y="158.05" width="1.9" height="1.5" fill="#e4f0fb"/>
<text x="521.47" y="160.9" font-size="2.3" fill="#2a2a2a" transform="rotate(90 521.47 160.9)">36~40</text>
<rect x="516.25" y="158.05" width="1.9" height="1.5" fill="#e8e4f8"/>
<text x="516.37" y="160.9" font-size="2.3" fill="#2a2a2a" transform="rotate(90 516.37 160.9)">41~45</text>
<rect x="526.15" y="168.75" width="1.9" height="1.5" fill="#a8d4f4"/>
<text x="526.27" y="171.6" font-size="2.3" fill="#2a2a2a" transform="rotate(90 526.27 171.6)">46~50</text>
<rect x="521.35" y="168.75" width="1.9" height="1.5" fill="#6f8fe6"/>
<text x="521.47" y="171.6" font-size="2.3" fill="#2a2a2a" transform="rotate(90 521.47 171.6)">51~55</text>
<rect x="516.25" y="168.75" width="1.9" height="1.5" fill="#8a4fd0"/>
<text x="516.37" y="171.6" font-size="2.3" fill="#2a2a2a" transform="rotate(90 516.37 171.6)">56~60</text>
<rect x="526.15" y="179.65" width="1.9" height="1.5" fill="#c218c2"/>
<text x="526.27" y="182.5" font-size="2.3" fill="#2a2a2a" transform="rotate(90 526.27 182.5)">61~65</text>
<rect x="521.35" y="179.65" width="1.9" height="1.5" fill="#8a0a8a"/>
<text x="521.47" y="182.5" font-size="2.3" fill="#2a2a2a" transform="rotate(90 521.47 182.5)">66~70</text>
<line x1="181.3" y1="229.4" x2="213.5" y2="229.4" stroke="#888" stroke-width="0.6" stroke-dasharray="0.9 1.5"/>
<line x1="323.5" y1="230.2" x2="351" y2="230.2" stroke="#888" stroke-width="0.6" stroke-dasharray="0.9 1.5"/>
<rect x="57.1" y="208.4" width="123.9" height="45" rx="4.2" ry="4.2" fill="#f0f0f0" stroke="#b0b0b0" stroke-width="0.6"/>
<rect x="61" y="209.5" width="113.2" height="5.7" rx="1" ry="1" fill="#ffe680"/>
<text x="117.6" y="214.2" font-size="5.3" text-anchor="middle" font-weight="bold" fill="#111" textLength="111.7" lengthAdjust="spacingAndGlyphs">Mutated only in AD patients (top 20 genes)</text>
<text x="118.8" y="226.3" font-size="5.85" text-anchor="middle" fill="#161616">ELAC2,MARCH6,PCDHGB4,ACSM2B, AHRR,</text>
<text x="118.8" y="233.47" font-size="5.85" text-anchor="middle" fill="#161616">ANKRD30A,DEF8,DIS3L,HR, IGKV1D-17,</text>
<text x="118.8" y="240.64" font-size="5.85" text-anchor="middle" fill="#161616">ITIH1,KCNA5,KCNF1,KIAA0556,KIF4A,</text>
<text x="118.8" y="247.81" font-size="5.85" text-anchor="middle" fill="#161616">LPAR6,MUCL1, MYT1,NBPF1, NCEH1</text>
<rect x="350.2" y="208.7" width="122.3" height="43.6" rx="4.2" ry="4.2" fill="#f0f0f0" stroke="#b0b0b0" stroke-width="0.6"/>
<rect x="352.8" y="210.2" width="117.7" height="7" rx="1" ry="1" fill="#7cd87a"/>
<text x="410.1" y="215.55" font-size="5.3" text-anchor="middle" font-weight="bold" fill="#111" textLength="111.5" lengthAdjust="spacingAndGlyphs">Mutated only in CRC samples (top 20 genes)</text>
<text x="411.6" y="227.1" font-size="5.85" text-anchor="middle" fill="#161616">CSMD3,BRAF,ZFHX4,TNXB,ANKRD26,</text>
<text x="411.6" y="234.35" font-size="5.85" text-anchor="middle" fill="#161616">LTBP2,KIF26B,PIK3CG,TAF1L,AHNAK2,</text>
<text x="411.6" y="241.6" font-size="5.85" text-anchor="middle" fill="#161616">COL6A5,LAMA5,RANBP2,MYO15A,CDH10,</text>
<text x="411.6" y="248.85" font-size="5.85" text-anchor="middle" fill="#161616">DLC1,DNAH17,PTPRU,SMAD3,NLRC5</text>
<ellipse cx="247.7" cy="230.2" rx="34.4" ry="22" fill="#fde38b"/>
<ellipse cx="287.5" cy="230.2" rx="36" ry="22" fill="#9cd398"/>
<clipPath id="vc"><ellipse cx="247.7" cy="230.2" rx="34.4" ry="22"/></clipPath>
<ellipse cx="287.5" cy="230.2" rx="36" ry="22" fill="#a5c35a" clip-path="url(#vc)"/>
<line x1="266.6" y1="238.5" x2="266.6" y2="249.5" stroke="#d4dcc0" stroke-width="0.8" stroke-dasharray="0.9 1.5"/>
<line x1="266.6" y1="250.5" x2="266.6" y2="258" stroke="#9a9a9a" stroke-width="0.6" stroke-dasharray="0.9 1.5"/>
<text x="232.3" y="231.9" font-size="9.9" text-anchor="middle" fill="#111">721</text>
<text x="267.5" y="231.9" font-size="9.9" text-anchor="middle" fill="#111">1069</text>
<text x="300.7" y="231.9" font-size="9.9" text-anchor="middle" fill="#111">6628</text>
<text x="214.1" y="203.4" font-size="5.8" text-anchor="middle" font-weight="bold" fill="#111" textLength="25.4" lengthAdjust="spacingAndGlyphs">Adenoma</text>
<text x="214.5" y="210.4" font-size="5.8" text-anchor="middle" fill="#3c3c3c" textLength="16.6" lengthAdjust="spacingAndGlyphs">(1790)</text>
<text x="317.7" y="203.6" font-size="5.8" text-anchor="middle" font-weight="bold" fill="#111" textLength="29.8" lengthAdjust="spacingAndGlyphs">Carcinoma</text>
<text x="317.5" y="210.8" font-size="5.8" text-anchor="middle" font-style="italic" fill="#3c3c3c" textLength="16.4" lengthAdjust="spacingAndGlyphs">(7697)</text>
<rect x="202.4" y="258.1" width="126" height="42.8" rx="4.2" ry="4.2" fill="#f0f0f0" stroke="#b0b0b0" stroke-width="0.6"/>
<rect x="207.1" y="259.4" width="118.2" height="6.6" rx="1" ry="1" fill="#8dc843"/>
<text x="266.2" y="264.56" font-size="5.3" text-anchor="middle" font-weight="bold" fill="#111" textLength="116" lengthAdjust="spacingAndGlyphs">Mutated in AD &amp; CRC patients (top 20 genes)</text>
<text x="265.6" y="273.4" font-size="5.85" text-anchor="middle" fill="#161616">APC,KRAS,FBN3,TTN,HYDIN,</text>
<text x="265.6" y="280.65" font-size="5.85" text-anchor="middle" fill="#161616">MUC4,DNAH5,RELN,SOX9,LRP1B,</text>
<text x="265.6" y="287.9" font-size="5.85" text-anchor="middle" fill="#161616">NTRK3,RYR2,ABCA12,CTNNB1,DYNC1H1,</text>
<text x="265.6" y="295.15" font-size="5.85" text-anchor="middle" fill="#161616">FLG,KCNQ5,MUC16,MYH2,PTPRK</text>
<text x="140.7" y="323.9" font-size="8.6" text-anchor="middle" font-weight="bold" fill="#111" textLength="133.8" lengthAdjust="spacingAndGlyphs">AD vs CRC (non-silent variants)</text>
<text x="81.8" y="335.4" font-size="7.4" text-anchor="middle" font-weight="bold" fill="#111" textLength="34.8" lengthAdjust="spacingAndGlyphs">Adenoma</text>
<text x="215.2" y="335.4" font-size="7.4" text-anchor="middle" font-weight="bold" fill="#111" textLength="16.8" lengthAdjust="spacingAndGlyphs">CRC</text>
<text x="406" y="323.9" font-size="8.6" text-anchor="middle" font-weight="bold" fill="#111" textLength="133" lengthAdjust="spacingAndGlyphs">CRC vs AD (non-silent variants)</text>
<text x="333.4" y="335.4" font-size="7.4" text-anchor="middle" font-weight="bold" fill="#111" textLength="16.4" lengthAdjust="spacingAndGlyphs">CRC</text>
<text x="466.1" y="335.4" font-size="7.4" text-anchor="middle" font-weight="bold" fill="#111" textLength="34.8" lengthAdjust="spacingAndGlyphs">Adenoma</text>
<text x="66.49" y="346.35" font-size="2.55" text-anchor="end" fill="#1a1a1a">65%</text>
<rect x="66.99" y="343.8" width="4.83" height="3.25" fill="#ffa500"/>
<rect x="71.82" y="343.8" width="28.98" height="3.25" fill="#f80d0d"/>
<rect x="100.8" y="343.8" width="48.3" height="3.25" fill="#000000"/>
<rect x="149.1" y="343.8" width="4.91" height="3.25" fill="#1f62e0"/>
<rect x="154.01" y="343.8" width="2.46" height="3.25" fill="#b27cf7"/>
<rect x="156.47" y="343.8" width="2.46" height="3.25" fill="#0a920a"/>
<rect x="158.92" y="343.8" width="41.73" height="3.25" fill="#000000"/>
<rect x="200.66" y="343.8" width="29.46" height="3.25" fill="#f80d0d"/>
<text x="230.62" y="346.35" font-size="2.55" fill="#1a1a1a">65%</text>
<text x="21" y="346.55" font-size="3.3" font-weight="bold" font-style="italic" fill="#111" textLength="5.99" lengthAdjust="spacingAndGlyphs">APC</text>
<text x="109.96" y="350.53" font-size="2.55" text-anchor="end" fill="#1a1a1a">31%</text>
<rect x="110.46" y="347.98" width="4.83" height="3.25" fill="#000000"/>
<rect x="115.29" y="347.98" width="33.81" height="3.25" fill="#0a920a"/>
<rect x="149.1" y="347.98" width="51.55" height="3.25" fill="#0a920a"/>
<text x="201.16" y="350.53" font-size="2.55" fill="#1a1a1a">41%</text>
<text x="21" y="350.73" font-size="3.3" font-weight="bold" font-style="italic" fill="#111" textLength="8.04" lengthAdjust="spacingAndGlyphs">KRAS</text>
<text x="124.45" y="354.7" font-size="2.55" text-anchor="end" fill="#1a1a1a">19%</text>
<rect x="124.95" y="352.15" width="4.83" height="3.25" fill="#f80d0d"/>
<rect x="129.78" y="352.15" width="19.32" height="3.25" fill="#0a920a"/>
<rect x="149.1" y="352.15" width="9.82" height="3.25" fill="#0a920a"/>
<rect x="158.92" y="352.15" width="2.46" height="3.25" fill="#000000"/>
<text x="161.88" y="354.7" font-size="2.55" fill="#1a1a1a">10%</text>
<text x="21" y="354.9" font-size="3.3" font-weight="bold" font-style="italic" fill="#111" textLength="7.41" lengthAdjust="spacingAndGlyphs">FBN3</text>
<text x="129.28" y="358.88" font-size="2.55" text-anchor="end" fill="#1a1a1a">15%</text>
<rect x="129.78" y="356.33" width="19.32" height="3.25" fill="#0a920a"/>
<rect x="149.1" y="356.33" width="2.46" height="3.25" fill="#b27cf7"/>
<rect x="151.56" y="356.33" width="14.73" height="3.25" fill="#0a920a"/>
<rect x="166.28" y="356.33" width="4.91" height="3.25" fill="#000000"/>
<text x="171.69" y="358.88" font-size="2.55" fill="#1a1a1a">18%</text>
<text x="21" y="359.08" font-size="3.3" font-weight="bold" font-style="italic" fill="#111" textLength="9.78" lengthAdjust="spacingAndGlyphs">DNAH5</text>
<text x="129.28" y="363.05" font-size="2.55" text-anchor="end" fill="#1a1a1a">15%</text>
<rect x="129.78" y="360.5" width="4.83" height="3.25" fill="#000000"/>
<rect x="134.61" y="360.5" width="14.49" height="3.25" fill="#0a920a"/>
<rect x="149.1" y="360.5" width="4.91" height="3.25" fill="#1f62e0"/>
<rect x="154.01" y="360.5" width="2.46" height="3.25" fill="#0a920a"/>
<text x="156.97" y="363.05" font-size="2.55" fill="#1a1a1a">6%</text>
<text x="21" y="363.25" font-size="3.3" font-weight="bold" font-style="italic" fill="#111" textLength="8.83" lengthAdjust="spacingAndGlyphs">HYDIN</text>
<text x="129.28" y="367.23" font-size="2.55" text-anchor="end" fill="#1a1a1a">15%</text>
<rect x="129.78" y="364.68" width="4.83" height="3.25" fill="#000000"/>
<rect x="134.61" y="364.68" width="14.49" height="3.25" fill="#0a920a"/>
<rect x="149.1" y="364.68" width="2.46" height="3.25" fill="#fde57a"/>
<rect x="151.56" y="364.68" width="12.28" height="3.25" fill="#0a920a"/>
<text x="164.33" y="367.23" font-size="2.55" fill="#1a1a1a">12%</text>
<text x="21" y="367.43" font-size="3.3" font-weight="bold" font-style="italic" fill="#111" textLength="8.04" lengthAdjust="spacingAndGlyphs">MUC4</text>
<text x="129.28" y="371.41" font-size="2.55" text-anchor="end" fill="#1a1a1a">15%</text>
<rect x="129.78" y="368.86" width="19.32" height="3.25" fill="#0a920a"/>
<rect x="149.1" y="368.86" width="7.37" height="3.25" fill="#0a920a"/>
<rect x="156.47" y="368.86" width="2.46" height="3.25" fill="#000000"/>
<text x="159.42" y="371.41" font-size="2.55" fill="#1a1a1a">8%</text>
<text x="21" y="371.61" font-size="3.3" font-weight="bold" font-style="italic" fill="#111" textLength="7.73" lengthAdjust="spacingAndGlyphs">RELN</text>
<text x="129.28" y="375.58" font-size="2.55" text-anchor="end" fill="#1a1a1a">15%</text>
<rect x="129.78" y="373.03" width="9.66" height="3.25" fill="#f80d0d"/>
<rect x="139.44" y="373.03" width="4.83" height="3.25" fill="#b27cf7"/>
<rect x="144.27" y="373.03" width="4.83" height="3.25" fill="#1f62e0"/>
<rect x="149.1" y="373.03" width="4.91" height="3.25" fill="#000000"/>
<rect x="154.01" y="373.03" width="4.91" height="3.25" fill="#f80d0d"/>
<text x="159.42" y="375.58" font-size="2.55" fill="#1a1a1a">8%</text>
<text x="21" y="375.78" font-size="3.3" font-weight="bold" font-style="italic" fill="#111" textLength="7.57" lengthAdjust="spacingAndGlyphs">SOX9</text>
<text x="129.28" y="379.76" font-size="2.55" text-anchor="end" fill="#1a1a1a">15%</text>
<rect x="129.78" y="377.21" width="14.49" height="3.25" fill="#000000"/>
<rect x="144.27" y="377.21" width="4.83" height="3.25" fill="#0a920a"/>
<rect x="149.1" y="377.21" width="2.46" height="3.25" fill="#1f62e0"/>
<rect x="151.56" y="377.21" width="29.46" height="3.25" fill="#0a920a"/>
<rect x="181.02" y="377.21" width="17.19" height="3.25" fill="#000000"/>
<rect x="198.2" y="377.21" width="2.46" height="3.25" fill="#f80d0d"/>
<text x="201.16" y="379.76" font-size="2.55" fill="#1a1a1a">41%</text>
<text x="21" y="379.96" font-size="3.3" font-weight="bold" font-style="italic" fill="#111" textLength="5.52" lengthAdjust="spacingAndGlyphs">TTN</text>
<text x="134.11" y="383.93" font-size="2.55" text-anchor="end" fill="#1a1a1a">12%</text>
<rect x="134.61" y="381.38" width="14.49" height="3.25" fill="#0a920a"/>
<rect x="149.1" y="381.38" width="4.91" height="3.25" fill="#0a920a"/>
<rect x="154.01" y="381.38" width="2.46" height="3.25" fill="#000000"/>
<text x="156.97" y="383.93" font-size="2.55" fill="#1a1a1a">6%</text>
<text x="21" y="384.13" font-size="3.3" font-weight="bold" font-style="italic" fill="#111" textLength="11.36" lengthAdjust="spacingAndGlyphs">ABCA12</text>
<text x="134.11" y="388.11" font-size="2.55" text-anchor="end" fill="#1a1a1a">12%</text>
<rect x="134.61" y="385.56" width="14.49" height="3.25" fill="#0a920a"/>
<rect x="149.1" y="385.56" width="7.37" height="3.25" fill="#0a920a"/>
<rect x="156.47" y="385.56" width="4.91" height="3.25" fill="#000000"/>
<rect x="161.38" y="385.56" width="2.46" height="3.25" fill="#f59aa8"/>
<text x="164.33" y="388.11" font-size="2.55" fill="#1a1a1a">12%</text>
<text x="21" y="388.31" font-size="3.3" font-weight="bold" font-style="italic" fill="#111" textLength="11.51" lengthAdjust="spacingAndGlyphs">CTNNB1</text>
<text x="134.11" y="392.29" font-size="2.55" text-anchor="end" fill="#1a1a1a">12%</text>
<rect x="134.61" y="389.74" width="9.66" height="3.25" fill="#0a920a"/>
<rect x="144.27" y="389.74" width="4.83" height="3.25" fill="#b27cf7"/>
<rect x="149.1" y="389.74" width="4.91" height="3.25" fill="#0a920a"/>
<text x="154.51" y="392.29" font-size="2.55" fill="#1a1a1a">4%</text>
<text x="21" y="392.49" font-size="3.3" font-weight="bold" font-style="italic" fill="#111" textLength="13.25" lengthAdjust="spacingAndGlyphs">DYNC1H1</text>
<text x="134.11" y="396.46" font-size="2.55" text-anchor="end" fill="#1a1a1a">12%</text>
<rect x="134.61" y="393.91" width="9.66" height="3.25" fill="#0a920a"/>
<rect x="144.27" y="393.91" width="4.83" height="3.25" fill="#a85a0c"/>
<text x="149.6" y="396.46" font-size="2.55" fill="#1a1a1a">0%</text>
<text x="21" y="396.66" font-size="3.3" font-weight="bold" font-style="italic" fill="#111" textLength="9.3" lengthAdjust="spacingAndGlyphs">ELAC2</text>
<text x="134.11" y="400.64" font-size="2.55" text-anchor="end" fill="#1a1a1a">12%</text>
<rect x="134.61" y="398.09" width="14.49" height="3.25" fill="#0a920a"/>
<rect x="149.1" y="398.09" width="2.46" height="3.25" fill="#1f62e0"/>
<rect x="151.56" y="398.09" width="14.73" height="3.25" fill="#0a920a"/>
<rect x="166.28" y="398.09" width="2.46" height="3.25" fill="#f80d0d"/>
<text x="169.24" y="400.64" font-size="2.55" fill="#1a1a1a">16%</text>
<text x="21" y="400.84" font-size="3.3" font-weight="bold" font-style="italic" fill="#111" textLength="5.67" lengthAdjust="spacingAndGlyphs">FLG</text>
<text x="134.11" y="404.81" font-size="2.55" text-anchor="end" fill="#1a1a1a">12%</text>
<rect x="134.61" y="402.26" width="14.49" height="3.25" fill="#0a920a"/>
<rect x="149.1" y="402.26" width="4.91" height="3.25" fill="#0a920a"/>
<text x="154.51" y="404.81" font-size="2.55" fill="#1a1a1a">4%</text>
<text x="21" y="405.01" font-size="3.3" font-weight="bold" font-style="italic" fill="#111" textLength="9.93" lengthAdjust="spacingAndGlyphs">KCNQ5</text>
<text x="134.11" y="408.99" font-size="2.55" text-anchor="end" fill="#1a1a1a">12%</text>
<rect x="134.61" y="406.44" width="4.83" height="3.25" fill="#000000"/>
<rect x="139.44" y="406.44" width="9.66" height="3.25" fill="#0a920a"/>
<rect x="149.1" y="406.44" width="12.28" height="3.25" fill="#0a920a"/>
<rect x="161.38" y="406.44" width="2.46" height="3.25" fill="#000000"/>
<rect x="163.83" y="406.44" width="2.46" height="3.25" fill="#f80d0d"/>
<text x="166.79" y="408.99" font-size="2.55" fill="#1a1a1a">14%</text>
<text x="21" y="409.19" font-size="3.3" font-weight="bold" font-style="italic" fill="#111" textLength="9.3" lengthAdjust="spacingAndGlyphs">LRP1B</text>
<text x="134.11" y="413.17" font-size="2.55" text-anchor="end" fill="#1a1a1a">12%</text>
<rect x="134.61" y="410.62" width="4.83" height="3.25" fill="#f80d0d"/>
<rect x="139.44" y="410.62" width="4.83" height="3.25" fill="#0a920a"/>
<rect x="144.27" y="410.62" width="4.83" height="3.25" fill="#b27cf7"/>
<text x="149.6" y="413.17" font-size="2.55" fill="#1a1a1a">0%</text>
<text x="21" y="413.37" font-size="3.3" font-weight="bold" font-style="italic" fill="#111" textLength="12.14" lengthAdjust="spacingAndGlyphs">MARCH6</text>
<text x="134.11" y="417.34" font-size="2.55" text-anchor="end" fill="#1a1a1a">12%</text>
<rect x="134.61" y="414.79" width="14.49" height="3.25" fill="#0a920a"/>
<rect x="149.1" y="414.79" width="2.46" height="3.25" fill="#1f62e0"/>
<rect x="151.56" y="414.79" width="2.46" height="3.25" fill="#fde57a"/>
<rect x="154.01" y="414.79" width="12.28" height="3.25" fill="#0a920a"/>
<rect x="166.29" y="414.79" width="7.37" height="3.25" fill="#000000"/>
<text x="174.15" y="417.34" font-size="2.55" fill="#1a1a1a">20%</text>
<text x="21" y="417.54" font-size="3.3" font-weight="bold" font-style="italic" fill="#111" textLength="9.62" lengthAdjust="spacingAndGlyphs">MUC16</text>
<text x="134.11" y="421.52" font-size="2.55" text-anchor="end" fill="#1a1a1a">12%</text>
<rect x="134.61" y="418.97" width="4.83" height="3.25" fill="#f80d0d"/>
<rect x="139.44" y="418.97" width="4.83" height="3.25" fill="#0a920a"/>
<rect x="144.27" y="418.97" width="4.83" height="3.25" fill="#fde57a"/>
<rect x="149.1" y="418.97" width="7.37" height="3.25" fill="#0a920a"/>
<rect x="156.47" y="418.97" width="2.46" height="3.25" fill="#000000"/>
<text x="159.42" y="421.52" font-size="2.55" fill="#1a1a1a">8%</text>
<text x="21" y="421.72" font-size="3.3" font-weight="bold" font-style="italic" fill="#111" textLength="7.89" lengthAdjust="spacingAndGlyphs">MYH2</text>
<text x="134.11" y="425.69" font-size="2.55" text-anchor="end" fill="#1a1a1a">12%</text>
<rect x="134.61" y="423.14" width="4.83" height="3.25" fill="#ffa500"/>
<rect x="139.44" y="423.14" width="4.83" height="3.25" fill="#000000"/>
<rect x="144.27" y="423.14" width="4.83" height="3.25" fill="#0a920a"/>
<rect x="149.1" y="423.14" width="7.37" height="3.25" fill="#0a920a"/>
<text x="156.97" y="425.69" font-size="2.55" fill="#1a1a1a">6%</text>
<text x="21" y="425.89" font-size="3.3" font-weight="bold" font-style="italic" fill="#111" textLength="9.46" lengthAdjust="spacingAndGlyphs">NTRK3</text>
<text x="134.11" y="429.87" font-size="2.55" text-anchor="end" fill="#1a1a1a">12%</text>
<rect x="134.61" y="427.32" width="4.83" height="3.25" fill="#f80d0d"/>
<rect x="139.44" y="427.32" width="4.83" height="3.25" fill="#0a920a"/>
<rect x="144.27" y="427.32" width="4.83" height="3.25" fill="#b27cf7"/>
<rect x="149.1" y="427.32" width="4.91" height="3.25" fill="#0a920a"/>
<rect x="154.01" y="427.32" width="2.46" height="3.25" fill="#000000"/>
<text x="156.97" y="429.87" font-size="2.55" fill="#1a1a1a">6%</text>
<text x="21" y="430.07" font-size="3.3" font-weight="bold" font-style="italic" fill="#111" textLength="9.62" lengthAdjust="spacingAndGlyphs">PTPRK</text>
<text x="134.11" y="434.05" font-size="2.55" text-anchor="end" fill="#1a1a1a">12%</text>
<rect x="134.61" y="431.5" width="4.83" height="3.25" fill="#f80d0d"/>
<rect x="139.44" y="431.5" width="9.66" height="3.25" fill="#0a920a"/>
<rect x="149.1" y="431.5" width="2.46" height="3.25" fill="#1f62e0"/>
<rect x="151.56" y="431.5" width="2.46" height="3.25" fill="#000000"/>
<text x="154.51" y="434.05" font-size="2.55" fill="#1a1a1a">4%</text>
<text x="21" y="434.25" font-size="3.3" font-weight="bold" font-style="italic" fill="#111" textLength="10.88" lengthAdjust="spacingAndGlyphs">PTPRZ1</text>
<text x="134.11" y="438.22" font-size="2.55" text-anchor="end" fill="#1a1a1a">12%</text>
<rect x="134.61" y="435.67" width="4.83" height="3.25" fill="#f80d0d"/>
<rect x="139.44" y="435.67" width="4.83" height="3.25" fill="#000000"/>
<rect x="144.27" y="435.67" width="4.83" height="3.25" fill="#fde57a"/>
<rect x="149.1" y="435.67" width="2.46" height="3.25" fill="#0a920a"/>
<rect x="151.56" y="435.67" width="7.37" height="3.25" fill="#000000"/>
<rect x="158.92" y="435.67" width="4.91" height="3.25" fill="#f80d0d"/>
<text x="164.33" y="438.22" font-size="2.55" fill="#1a1a1a">12%</text>
<text x="21" y="438.42" font-size="3.3" font-weight="bold" font-style="italic" fill="#111" textLength="7.52" lengthAdjust="spacingAndGlyphs">RYR2</text>
<text x="134.11" y="442.4" font-size="2.55" text-anchor="end" fill="#1a1a1a">12%</text>
<rect x="134.61" y="439.85" width="4.83" height="3.25" fill="#f80d0d"/>
<rect x="139.44" y="439.85" width="9.66" height="3.25" fill="#0a920a"/>
<rect x="149.1" y="439.85" width="7.37" height="3.25" fill="#0a920a"/>
<text x="156.97" y="442.4" font-size="2.55" fill="#1a1a1a">6%</text>
<text x="21" y="442.6" font-size="3.3" font-weight="bold" font-style="italic" fill="#111" textLength="9.62" lengthAdjust="spacingAndGlyphs">SCN5A</text>
<text x="134.11" y="446.57" font-size="2.55" text-anchor="end" fill="#1a1a1a">12%</text>
<rect x="134.61" y="444.02" width="14.49" height="3.25" fill="#0a920a"/>
<rect x="149.1" y="444.02" width="4.91" height="3.25" fill="#0a920a"/>
<text x="154.51" y="446.57" font-size="2.55" fill="#1a1a1a">4%</text>
<text x="21" y="446.77" font-size="3.3" font-weight="bold" font-style="italic" fill="#111" textLength="11.2" lengthAdjust="spacingAndGlyphs">SCN10A</text>
<text x="134.11" y="450.75" font-size="2.55" text-anchor="end" fill="#1a1a1a">12%</text>
<rect x="134.61" y="448.2" width="14.49" height="3.25" fill="#0a920a"/>
<rect x="149.1" y="448.2" width="4.91" height="3.25" fill="#0a920a"/>
<rect x="154.01" y="448.2" width="2.46" height="3.25" fill="#000000"/>
<text x="156.97" y="450.75" font-size="2.55" fill="#1a1a1a">6%</text>
<text x="21" y="450.95" font-size="3.3" font-weight="bold" font-style="italic" fill="#111" textLength="11.83" lengthAdjust="spacingAndGlyphs">SPHKAP</text>
<text x="134.11" y="454.93" font-size="2.55" text-anchor="end" fill="#1a1a1a">12%</text>
<rect x="134.61" y="452.38" width="14.49" height="3.25" fill="#0a920a"/>
<rect x="149.1" y="452.38" width="14.73" height="3.25" fill="#0a920a"/>
<rect x="163.83" y="452.38" width="9.82" height="3.25" fill="#000000"/>
<text x="174.15" y="454.93" font-size="2.55" fill="#1a1a1a">20%</text>
<text x="21" y="455.13" font-size="3.3" font-weight="bold" font-style="italic" fill="#111" textLength="9.31" lengthAdjust="spacingAndGlyphs">SYNE1</text>
<text x="134.11" y="459.1" font-size="2.55" text-anchor="end" fill="#1a1a1a">12%</text>
<rect x="134.61" y="456.55" width="9.66" height="3.25" fill="#0a920a"/>
<rect x="144.27" y="456.55" width="4.83" height="3.25" fill="#b27cf7"/>
<rect x="149.1" y="456.55" width="2.46" height="3.25" fill="#0a920a"/>
<text x="152.06" y="459.1" font-size="2.55" fill="#1a1a1a">2%</text>
<text x="21" y="459.3" font-size="3.3" font-weight="bold" font-style="italic" fill="#111" textLength="15.14" lengthAdjust="spacingAndGlyphs">TMEM132B</text>
<text x="134.11" y="463.28" font-size="2.55" text-anchor="end" fill="#1a1a1a">12%</text>
<rect x="134.61" y="460.73" width="14.49" height="3.25" fill="#0a920a"/>
<rect x="149.1" y="460.73" width="4.91" height="3.25" fill="#1f62e0"/>
<rect x="154.01" y="460.73" width="2.46" height="3.25" fill="#fde57a"/>
<rect x="156.47" y="460.73" width="46.65" height="3.25" fill="#0a920a"/>
<rect x="203.11" y="460.73" width="2.46" height="3.25" fill="#f80d0d"/>
<rect x="205.57" y="460.73" width="2.46" height="3.25" fill="#ffa500"/>
<text x="208.52" y="463.28" font-size="2.55" fill="#1a1a1a">47%</text>
<text x="21" y="463.48" font-size="3.3" font-weight="bold" font-style="italic" fill="#111" textLength="6.78" lengthAdjust="spacingAndGlyphs">TP53</text>
<text x="134.11" y="467.45" font-size="2.55" text-anchor="end" fill="#1a1a1a">12%</text>
<rect x="134.61" y="464.9" width="9.66" height="3.25" fill="#0a920a"/>
<rect x="144.27" y="464.9" width="4.83" height="3.25" fill="#a85a0c"/>
<rect x="149.1" y="464.9" width="22.09" height="3.25" fill="#0a920a"/>
<rect x="171.19" y="464.9" width="2.46" height="3.25" fill="#f80d0d"/>
<text x="174.15" y="467.45" font-size="2.55" fill="#1a1a1a">20%</text>
<text x="21" y="467.65" font-size="3.3" font-weight="bold" font-style="italic" fill="#111" textLength="9.31" lengthAdjust="spacingAndGlyphs">UNC80</text>
<line x1="149.1" y1="343.2" x2="149.1" y2="468.75" stroke="#e8f0e8" stroke-width="0.4" opacity="0.6"/>
<text x="333.77" y="345.7" font-size="2.55" text-anchor="end" fill="#1a1a1a">65%</text>
<rect x="334.27" y="343.15" width="28.99" height="3.3" fill="#f80d0d"/>
<rect x="363.26" y="343.15" width="41.07" height="3.3" fill="#000000"/>
<rect x="404.34" y="343.15" width="2.42" height="3.3" fill="#0a920a"/>
<rect x="406.75" y="343.15" width="2.42" height="3.3" fill="#b27cf7"/>
<rect x="409.17" y="343.15" width="4.83" height="3.3" fill="#1f62e0"/>
<rect x="414" y="343.15" width="47.46" height="3.3" fill="#000000"/>
<rect x="461.46" y="343.15" width="28.48" height="3.3" fill="#f80d0d"/>
<rect x="489.94" y="343.15" width="4.75" height="3.3" fill="#ffa500"/>
<text x="495.18" y="345.7" font-size="2.55" fill="#1a1a1a">65%</text>
<text x="289.6" y="345.9" font-size="3.3" font-weight="bold" font-style="italic" fill="#111" textLength="5.99" lengthAdjust="spacingAndGlyphs">APC</text>
<text x="355.52" y="349.92" font-size="2.55" text-anchor="end" fill="#1a1a1a">47%</text>
<rect x="356.02" y="347.37" width="2.42" height="3.3" fill="#ffa500"/>
<rect x="358.43" y="347.37" width="2.42" height="3.3" fill="#f80d0d"/>
<rect x="360.85" y="347.37" width="45.9" height="3.3" fill="#0a920a"/>
<rect x="406.75" y="347.37" width="2.42" height="3.3" fill="#fde57a"/>
<rect x="409.17" y="347.37" width="4.83" height="3.3" fill="#1f62e0"/>
<rect x="414" y="347.37" width="14.24" height="3.3" fill="#0a920a"/>
<text x="428.74" y="349.92" font-size="2.55" fill="#1a1a1a">12%</text>
<text x="289.6" y="350.12" font-size="3.3" font-weight="bold" font-style="italic" fill="#111" textLength="6.78" lengthAdjust="spacingAndGlyphs">TP53</text>
<text x="362.76" y="354.14" font-size="2.55" text-anchor="end" fill="#1a1a1a">41%</text>
<rect x="363.26" y="351.59" width="50.74" height="3.3" fill="#0a920a"/>
<rect x="414" y="351.59" width="33.22" height="3.3" fill="#0a920a"/>
<rect x="447.22" y="351.59" width="4.75" height="3.3" fill="#000000"/>
<text x="452.47" y="354.14" font-size="2.55" fill="#1a1a1a">31%</text>
<text x="289.6" y="354.34" font-size="3.3" font-weight="bold" font-style="italic" fill="#111" textLength="8.04" lengthAdjust="spacingAndGlyphs">KRAS</text>
<text x="362.76" y="358.35" font-size="2.55" text-anchor="end" fill="#1a1a1a">41%</text>
<rect x="363.26" y="355.8" width="2.42" height="3.3" fill="#f80d0d"/>
<rect x="365.68" y="355.8" width="16.91" height="3.3" fill="#000000"/>
<rect x="382.59" y="355.8" width="28.99" height="3.3" fill="#0a920a"/>
<rect x="411.58" y="355.8" width="2.42" height="3.3" fill="#1f62e0"/>
<rect x="414" y="355.8" width="4.75" height="3.3" fill="#0a920a"/>
<rect x="418.75" y="355.8" width="14.24" height="3.3" fill="#000000"/>
<text x="433.48" y="358.35" font-size="2.55" fill="#1a1a1a">15%</text>
<text x="289.6" y="358.55" font-size="3.3" font-weight="bold" font-style="italic" fill="#111" textLength="5.52" lengthAdjust="spacingAndGlyphs">TTN</text>
<text x="382.09" y="362.57" font-size="2.55" text-anchor="end" fill="#1a1a1a">25%</text>
<rect x="382.59" y="360.02" width="2.42" height="3.3" fill="#ffa500"/>
<rect x="385.01" y="360.02" width="2.42" height="3.3" fill="#f80d0d"/>
<rect x="387.42" y="360.02" width="9.66" height="3.3" fill="#000000"/>
<rect x="397.09" y="360.02" width="16.91" height="3.3" fill="#0a920a"/>
<rect x="414" y="360.02" width="4.75" height="3.3" fill="#0a920a"/>
<text x="419.25" y="362.57" font-size="2.55" fill="#1a1a1a">4%</text>
<text x="289.6" y="362.77" font-size="3.3" font-weight="bold" font-style="italic" fill="#111" textLength="7.52" lengthAdjust="spacingAndGlyphs">RYR1</text>
<text x="386.92" y="366.79" font-size="2.55" text-anchor="end" fill="#1a1a1a">22%</text>
<rect x="387.42" y="364.24" width="2.42" height="3.3" fill="#f80d0d"/>
<rect x="389.84" y="364.24" width="7.25" height="3.3" fill="#000000"/>
<rect x="397.09" y="364.24" width="12.08" height="3.3" fill="#0a920a"/>
<rect x="409.17" y="364.24" width="2.42" height="3.3" fill="#a85a0c"/>
<rect x="411.58" y="364.24" width="2.42" height="3.3" fill="#1f62e0"/>
<rect x="414" y="364.24" width="4.75" height="3.3" fill="#0a920a"/>
<rect x="418.75" y="364.24" width="4.75" height="3.3" fill="#000000"/>
<text x="423.99" y="366.79" font-size="2.55" fill="#1a1a1a">8%</text>
<text x="289.6" y="366.99" font-size="3.3" font-weight="bold" font-style="italic" fill="#111" textLength="7.25" lengthAdjust="spacingAndGlyphs">LRP2</text>
<text x="389.34" y="371.01" font-size="2.55" text-anchor="end" fill="#1a1a1a">20%</text>
<rect x="389.84" y="368.46" width="2.42" height="3.3" fill="#ffa500"/>
<rect x="392.26" y="368.46" width="9.66" height="3.3" fill="#000000"/>
<rect x="401.92" y="368.46" width="7.25" height="3.3" fill="#0a920a"/>
<rect x="409.17" y="368.46" width="4.83" height="3.3" fill="#1f62e0"/>
<rect x="414" y="368.46" width="4.75" height="3.3" fill="#0a920a"/>
<rect x="418.75" y="368.46" width="4.75" height="3.3" fill="#000000"/>
<text x="423.99" y="371.01" font-size="2.55" fill="#1a1a1a">8%</text>
<text x="289.6" y="371.21" font-size="3.3" font-weight="bold" font-style="italic" fill="#111" textLength="13.25" lengthAdjust="spacingAndGlyphs">DYNC2H1</text>
<text x="389.34" y="375.23" font-size="2.55" text-anchor="end" fill="#1a1a1a">20%</text>
<rect x="389.84" y="372.68" width="7.25" height="3.3" fill="#000000"/>
<rect x="397.09" y="372.68" width="12.08" height="3.3" fill="#0a920a"/>
<rect x="409.17" y="372.68" width="2.42" height="3.3" fill="#fde57a"/>
<rect x="411.58" y="372.68" width="2.42" height="3.3" fill="#1f62e0"/>
<rect x="414" y="372.68" width="14.24" height="3.3" fill="#0a920a"/>
<text x="428.74" y="375.23" font-size="2.55" fill="#1a1a1a">12%</text>
<text x="289.6" y="375.43" font-size="3.3" font-weight="bold" font-style="italic" fill="#111" textLength="9.62" lengthAdjust="spacingAndGlyphs">MUC16</text>
<text x="389.34" y="379.44" font-size="2.55" text-anchor="end" fill="#1a1a1a">20%</text>
<rect x="389.84" y="376.89" width="9.66" height="3.3" fill="#000000"/>
<rect x="399.5" y="376.89" width="14.5" height="3.3" fill="#0a920a"/>
<rect x="414" y="376.89" width="14.24" height="3.3" fill="#0a920a"/>
<text x="428.74" y="379.44" font-size="2.55" fill="#1a1a1a">12%</text>
<text x="289.6" y="379.64" font-size="3.3" font-weight="bold" font-style="italic" fill="#111" textLength="9.31" lengthAdjust="spacingAndGlyphs">SYNE1</text>
<text x="389.34" y="383.66" font-size="2.55" text-anchor="end" fill="#1a1a1a">20%</text>
<rect x="389.84" y="381.11" width="2.42" height="3.3" fill="#f80d0d"/>
<rect x="392.26" y="381.11" width="21.74" height="3.3" fill="#0a920a"/>
<rect x="414" y="381.11" width="4.75" height="3.3" fill="#a85a0c"/>
<rect x="418.75" y="381.11" width="9.49" height="3.3" fill="#0a920a"/>
<text x="428.74" y="383.66" font-size="2.55" fill="#1a1a1a">12%</text>
<text x="289.6" y="383.86" font-size="3.3" font-weight="bold" font-style="italic" fill="#111" textLength="9.31" lengthAdjust="spacingAndGlyphs">UNC80</text>
<text x="391.76" y="387.88" font-size="2.55" text-anchor="end" fill="#1a1a1a">18%</text>
<rect x="392.26" y="385.33" width="4.83" height="3.3" fill="#000000"/>
<rect x="397.09" y="385.33" width="12.08" height="3.3" fill="#0a920a"/>
<rect x="409.17" y="385.33" width="4.83" height="3.3" fill="#1f62e0"/>
<rect x="414" y="385.33" width="4.75" height="3.3" fill="#f80d0d"/>
<text x="419.25" y="387.88" font-size="2.55" fill="#1a1a1a">4%</text>
<text x="289.6" y="388.08" font-size="3.3" font-weight="bold" font-style="italic" fill="#111" textLength="6.46" lengthAdjust="spacingAndGlyphs">DMD</text>
<text x="391.76" y="392.1" font-size="2.55" text-anchor="end" fill="#1a1a1a">18%</text>
<rect x="392.26" y="389.55" width="4.83" height="3.3" fill="#000000"/>
<rect x="397.09" y="389.55" width="14.5" height="3.3" fill="#0a920a"/>
<rect x="411.58" y="389.55" width="2.42" height="3.3" fill="#b27cf7"/>
<rect x="414" y="389.55" width="18.98" height="3.3" fill="#0a920a"/>
<text x="433.48" y="392.1" font-size="2.55" fill="#1a1a1a">15%</text>
<text x="289.6" y="392.3" font-size="3.3" font-weight="bold" font-style="italic" fill="#111" textLength="9.78" lengthAdjust="spacingAndGlyphs">DNAH5</text>
<text x="391.76" y="396.32" font-size="2.55" text-anchor="end" fill="#1a1a1a">18%</text>
<rect x="392.26" y="393.77" width="7.25" height="3.3" fill="#000000"/>
<rect x="399.5" y="393.77" width="14.5" height="3.3" fill="#0a920a"/>
<rect x="414" y="393.77" width="4.75" height="3.3" fill="#0a920a"/>
<rect x="418.75" y="393.77" width="4.75" height="3.3" fill="#000000"/>
<text x="423.99" y="396.32" font-size="2.55" fill="#1a1a1a">8%</text>
<text x="289.6" y="396.52" font-size="3.3" font-weight="bold" font-style="italic" fill="#111" textLength="10.25" lengthAdjust="spacingAndGlyphs">OBSCN</text>
<text x="391.76" y="400.53" font-size="2.55" text-anchor="end" fill="#1a1a1a">18%</text>
<rect x="392.26" y="397.98" width="2.42" height="3.3" fill="#ffa500"/>
<rect x="394.67" y="397.98" width="4.83" height="3.3" fill="#f80d0d"/>
<rect x="399.5" y="397.98" width="2.42" height="3.3" fill="#000000"/>
<rect x="401.92" y="397.98" width="7.25" height="3.3" fill="#0a920a"/>
<rect x="409.17" y="397.98" width="2.42" height="3.3" fill="#fde57a"/>
<rect x="411.58" y="397.98" width="2.42" height="3.3" fill="#a85a0c"/>
<rect x="414" y="397.98" width="4.75" height="3.3" fill="#0a920a"/>
<text x="419.25" y="400.53" font-size="2.55" fill="#1a1a1a">4%</text>
<text x="289.6" y="400.73" font-size="3.3" font-weight="bold" font-style="italic" fill="#111" textLength="12.93" lengthAdjust="spacingAndGlyphs">PKHD1L1</text>
<text x="394.17" y="404.75" font-size="2.55" text-anchor="end" fill="#1a1a1a">16%</text>
<rect x="394.67" y="402.2" width="19.33" height="3.3" fill="#0a920a"/>
<text x="414.5" y="404.75" font-size="2.55" fill="#1a1a1a">0%</text>
<text x="289.6" y="404.95" font-size="3.3" font-weight="bold" font-style="italic" fill="#111" textLength="7.88" lengthAdjust="spacingAndGlyphs">BRAF</text>
<text x="394.17" y="408.97" font-size="2.55" text-anchor="end" fill="#1a1a1a">16%</text>
<rect x="394.67" y="406.42" width="2.42" height="3.3" fill="#000000"/>
<rect x="397.09" y="406.42" width="14.5" height="3.3" fill="#0a920a"/>
<rect x="411.58" y="406.42" width="2.42" height="3.3" fill="#b27cf7"/>
<text x="414.5" y="408.97" font-size="2.55" fill="#1a1a1a">0%</text>
<text x="289.6" y="409.17" font-size="3.3" font-weight="bold" font-style="italic" fill="#111" textLength="9.93" lengthAdjust="spacingAndGlyphs">CSMD3</text>
<text x="394.17" y="413.19" font-size="2.55" text-anchor="end" fill="#1a1a1a">16%</text>
<rect x="394.67" y="410.64" width="2.42" height="3.3" fill="#f80d0d"/>
<rect x="397.09" y="410.64" width="2.42" height="3.3" fill="#000000"/>
<rect x="399.5" y="410.64" width="12.08" height="3.3" fill="#0a920a"/>
<rect x="411.58" y="410.64" width="2.42" height="3.3" fill="#1f62e0"/>
<rect x="414" y="410.64" width="4.75" height="3.3" fill="#a85a0c"/>
<rect x="418.75" y="410.64" width="4.75" height="3.3" fill="#0a920a"/>
<text x="423.99" y="413.19" font-size="2.55" fill="#1a1a1a">8%</text>
<text x="289.6" y="413.39" font-size="3.3" font-weight="bold" font-style="italic" fill="#111" textLength="6.73" lengthAdjust="spacingAndGlyphs">FAT4</text>
<text x="394.17" y="417.41" font-size="2.55" text-anchor="end" fill="#1a1a1a">16%</text>
<rect x="394.67" y="414.86" width="2.42" height="3.3" fill="#f80d0d"/>
<rect x="397.09" y="414.86" width="14.5" height="3.3" fill="#0a920a"/>
<rect x="411.58" y="414.86" width="2.42" height="3.3" fill="#1f62e0"/>
<rect x="414" y="414.86" width="14.24" height="3.3" fill="#0a920a"/>
<text x="428.74" y="417.41" font-size="2.55" fill="#1a1a1a">12%</text>
<text x="289.6" y="417.61" font-size="3.3" font-weight="bold" font-style="italic" fill="#111" textLength="5.67" lengthAdjust="spacingAndGlyphs">FLG</text>
<text x="394.17" y="421.62" font-size="2.55" text-anchor="end" fill="#1a1a1a">16%</text>
<rect x="394.67" y="419.07" width="2.42" height="3.3" fill="#f80d0d"/>
<rect x="397.09" y="419.07" width="12.08" height="3.3" fill="#0a920a"/>
<rect x="409.17" y="419.07" width="2.42" height="3.3" fill="#b27cf7"/>
<rect x="411.58" y="419.07" width="2.42" height="3.3" fill="#1f62e0"/>
<rect x="414" y="419.07" width="4.75" height="3.3" fill="#0a920a"/>
<text x="419.25" y="421.62" font-size="2.55" fill="#1a1a1a">4%</text>
<text x="289.6" y="421.82" font-size="3.3" font-weight="bold" font-style="italic" fill="#111" textLength="13.25" lengthAdjust="spacingAndGlyphs">KIAA2022</text>
<text x="394.17" y="425.84" font-size="2.55" text-anchor="end" fill="#1a1a1a">16%</text>
<rect x="394.67" y="423.29" width="2.42" height="3.3" fill="#ffa500"/>
<rect x="397.09" y="423.29" width="2.42" height="3.3" fill="#f80d0d"/>
<rect x="399.5" y="423.29" width="4.83" height="3.3" fill="#000000"/>
<rect x="404.34" y="423.29" width="9.66" height="3.3" fill="#0a920a"/>
<rect x="414" y="423.29" width="4.75" height="3.3" fill="#0a920a"/>
<text x="419.25" y="425.84" font-size="2.55" fill="#1a1a1a">4%</text>
<text x="289.6" y="426.04" font-size="3.3" font-weight="bold" font-style="italic" fill="#111" textLength="8.94" lengthAdjust="spacingAndGlyphs">SPTA1</text>
<text x="396.59" y="430.06" font-size="2.55" text-anchor="end" fill="#1a1a1a">14%</text>
<rect x="397.09" y="427.51" width="4.83" height="3.3" fill="#000000"/>
<rect x="401.92" y="427.51" width="12.08" height="3.3" fill="#0a920a"/>
<rect x="414" y="427.51" width="9.49" height="3.3" fill="#0a920a"/>
<text x="423.99" y="430.06" font-size="2.55" fill="#1a1a1a">8%</text>
<text x="289.6" y="430.26" font-size="3.3" font-weight="bold" font-style="italic" fill="#111" textLength="11.2" lengthAdjust="spacingAndGlyphs">COL6A5</text>
<text x="396.59" y="434.28" font-size="2.55" text-anchor="end" fill="#1a1a1a">14%</text>
<rect x="397.09" y="431.73" width="2.42" height="3.3" fill="#000000"/>
<rect x="399.5" y="431.73" width="14.5" height="3.3" fill="#0a920a"/>
<rect x="414" y="431.73" width="4.75" height="3.3" fill="#a85a0c"/>
<text x="419.25" y="434.28" font-size="2.55" fill="#1a1a1a">4%</text>
<text x="289.6" y="434.48" font-size="3.3" font-weight="bold" font-style="italic" fill="#111" textLength="8.99" lengthAdjust="spacingAndGlyphs">DPP10</text>
<text x="396.59" y="438.5" font-size="2.55" text-anchor="end" fill="#1a1a1a">14%</text>
<rect x="397.09" y="435.95" width="4.83" height="3.3" fill="#000000"/>
<rect x="401.92" y="435.95" width="12.08" height="3.3" fill="#0a920a"/>
<rect x="414" y="435.95" width="4.75" height="3.3" fill="#0a920a"/>
<text x="419.25" y="438.5" font-size="2.55" fill="#1a1a1a">4%</text>
<text x="289.6" y="438.7" font-size="3.3" font-weight="bold" font-style="italic" fill="#111" textLength="9.78" lengthAdjust="spacingAndGlyphs">LAMA5</text>
<text x="396.59" y="442.71" font-size="2.55" text-anchor="end" fill="#1a1a1a">14%</text>
<rect x="397.09" y="440.16" width="2.42" height="3.3" fill="#f80d0d"/>
<rect x="399.5" y="440.16" width="2.42" height="3.3" fill="#000000"/>
<rect x="401.92" y="440.16" width="12.08" height="3.3" fill="#0a920a"/>
<rect x="414" y="440.16" width="9.49" height="3.3" fill="#0a920a"/>
<rect x="423.49" y="440.16" width="4.75" height="3.3" fill="#000000"/>
<text x="428.74" y="442.71" font-size="2.55" fill="#1a1a1a">12%</text>
<text x="289.6" y="442.91" font-size="3.3" font-weight="bold" font-style="italic" fill="#111" textLength="9.3" lengthAdjust="spacingAndGlyphs">LRP1B</text>
<text x="396.59" y="446.93" font-size="2.55" text-anchor="end" fill="#1a1a1a">14%</text>
<rect x="397.09" y="444.38" width="4.83" height="3.3" fill="#000000"/>
<rect x="401.92" y="444.38" width="7.25" height="3.3" fill="#0a920a"/>
<rect x="409.17" y="444.38" width="4.83" height="3.3" fill="#b27cf7"/>
<rect x="414" y="444.38" width="4.75" height="3.3" fill="#a85a0c"/>
<rect x="418.75" y="444.38" width="4.75" height="3.3" fill="#0a920a"/>
<text x="423.99" y="446.93" font-size="2.55" fill="#1a1a1a">8%</text>
<text x="289.6" y="447.13" font-size="3.3" font-weight="bold" font-style="italic" fill="#111" textLength="5.99" lengthAdjust="spacingAndGlyphs">NEB</text>
<text x="396.59" y="451.15" font-size="2.55" text-anchor="end" fill="#1a1a1a">14%</text>
<rect x="397.09" y="448.6" width="2.42" height="3.3" fill="#000000"/>
<rect x="399.5" y="448.6" width="12.08" height="3.3" fill="#0a920a"/>
<rect x="411.58" y="448.6" width="2.42" height="3.3" fill="#1f62e0"/>
<rect x="414" y="448.6" width="4.75" height="3.3" fill="#0a920a"/>
<text x="419.25" y="451.15" font-size="2.55" fill="#1a1a1a">4%</text>
<text x="289.6" y="451.35" font-size="3.3" font-weight="bold" font-style="italic" fill="#111" textLength="9.62" lengthAdjust="spacingAndGlyphs">NRXN1</text>
<text x="396.59" y="455.37" font-size="2.55" text-anchor="end" fill="#1a1a1a">14%</text>
<rect x="397.09" y="452.82" width="2.42" height="3.3" fill="#ffa500"/>
<rect x="399.5" y="452.82" width="2.42" height="3.3" fill="#000000"/>
<rect x="401.92" y="452.82" width="7.25" height="3.3" fill="#0a920a"/>
<rect x="409.17" y="452.82" width="2.42" height="3.3" fill="#fde57a"/>
<rect x="411.58" y="452.82" width="2.42" height="3.3" fill="#1f62e0"/>
<rect x="414" y="452.82" width="4.75" height="3.3" fill="#0a920a"/>
<text x="419.25" y="455.37" font-size="2.55" fill="#1a1a1a">4%</text>
<text x="289.6" y="455.57" font-size="3.3" font-weight="bold" font-style="italic" fill="#111" textLength="9.62" lengthAdjust="spacingAndGlyphs">TENM1</text>
<text x="396.59" y="459.59" font-size="2.55" text-anchor="end" fill="#1a1a1a">14%</text>
<rect x="397.09" y="457.04" width="2.42" height="3.3" fill="#000000"/>
<rect x="399.5" y="457.04" width="14.5" height="3.3" fill="#0a920a"/>
<text x="414.5" y="459.59" font-size="2.55" fill="#1a1a1a">0%</text>
<text x="289.6" y="459.79" font-size="3.3" font-weight="bold" font-style="italic" fill="#111" textLength="7.73" lengthAdjust="spacingAndGlyphs">TNXB</text>
<text x="396.59" y="463.8" font-size="2.55" text-anchor="end" fill="#1a1a1a">14%</text>
<rect x="397.09" y="461.25" width="2.42" height="3.3" fill="#f80d0d"/>
<rect x="399.5" y="461.25" width="2.42" height="3.3" fill="#000000"/>
<rect x="401.92" y="461.25" width="9.66" height="3.3" fill="#0a920a"/>
<rect x="411.58" y="461.25" width="2.42" height="3.3" fill="#b27cf7"/>
<rect x="414" y="461.25" width="4.75" height="3.3" fill="#f80d0d"/>
<text x="419.25" y="463.8" font-size="2.55" fill="#1a1a1a">4%</text>
<text x="289.6" y="464" font-size="3.3" font-weight="bold" font-style="italic" fill="#111" textLength="9.62" lengthAdjust="spacingAndGlyphs">PTPRN</text>
<text x="396.59" y="468.02" font-size="2.55" text-anchor="end" fill="#1a1a1a">14%</text>
<rect x="397.09" y="465.47" width="4.83" height="3.3" fill="#000000"/>
<rect x="401.92" y="465.47" width="12.08" height="3.3" fill="#0a920a"/>
<text x="414.5" y="468.02" font-size="2.55" fill="#1a1a1a">0%</text>
<text x="289.6" y="468.22" font-size="3.3" font-weight="bold" font-style="italic" fill="#111" textLength="8.99" lengthAdjust="spacingAndGlyphs">ZFHX4</text>
<line x1="414" y1="342.55" x2="414" y2="469.37" stroke="#e8f0e8" stroke-width="0.4" opacity="0.6"/>
<line x1="24" y1="473.3" x2="238" y2="473.3" stroke="#333" stroke-width="0.5"/>
<line x1="24.05" y1="473.3" x2="24.05" y2="474.8" stroke="#333" stroke-width="0.45"/>
<text x="24.55" y="479.6" font-size="3.3" text-anchor="middle" font-weight="bold" fill="#222" textLength="7.09" lengthAdjust="spacingAndGlyphs">100%</text>
<line x1="49.1" y1="473.3" x2="49.1" y2="474.8" stroke="#333" stroke-width="0.45"/>
<text x="49.6" y="479.6" font-size="3.3" text-anchor="middle" font-weight="bold" fill="#222" textLength="5.55" lengthAdjust="spacingAndGlyphs">80%</text>
<line x1="74.15" y1="473.3" x2="74.15" y2="474.8" stroke="#333" stroke-width="0.45"/>
<text x="74.65" y="479.6" font-size="3.3" text-anchor="middle" font-weight="bold" fill="#222" textLength="5.55" lengthAdjust="spacingAndGlyphs">60%</text>
<line x1="99.2" y1="473.3" x2="99.2" y2="474.8" stroke="#333" stroke-width="0.45"/>
<text x="99.7" y="479.6" font-size="3.3" text-anchor="middle" font-weight="bold" fill="#222" textLength="5.55" lengthAdjust="spacingAndGlyphs">40%</text>
<line x1="124.25" y1="473.3" x2="124.25" y2="474.8" stroke="#333" stroke-width="0.45"/>
<text x="124.75" y="479.6" font-size="3.3" text-anchor="middle" font-weight="bold" fill="#222" textLength="5.55" lengthAdjust="spacingAndGlyphs">20%</text>
<line x1="149.3" y1="473.3" x2="149.3" y2="474.8" stroke="#333" stroke-width="0.45"/>
<text x="149.8" y="479.6" font-size="3.3" text-anchor="middle" font-weight="bold" fill="#222" textLength="4.01" lengthAdjust="spacingAndGlyphs">0%</text>
<line x1="174.35" y1="473.3" x2="174.35" y2="474.8" stroke="#333" stroke-width="0.45"/>
<text x="174.85" y="479.6" font-size="3.3" text-anchor="middle" font-weight="bold" fill="#222" textLength="5.55" lengthAdjust="spacingAndGlyphs">20%</text>
<line x1="199.4" y1="473.3" x2="199.4" y2="474.8" stroke="#333" stroke-width="0.45"/>
<text x="199.9" y="479.6" font-size="3.3" text-anchor="middle" font-weight="bold" fill="#222" textLength="5.55" lengthAdjust="spacingAndGlyphs">40%</text>
<line x1="224.45" y1="473.3" x2="224.45" y2="474.8" stroke="#333" stroke-width="0.45"/>
<text x="224.95" y="479.6" font-size="3.3" text-anchor="middle" font-weight="bold" fill="#222" textLength="5.55" lengthAdjust="spacingAndGlyphs">60%</text>
<line x1="291.5" y1="473.3" x2="537.4" y2="473.3" stroke="#333" stroke-width="0.5"/>
<line x1="290.85" y1="473.3" x2="290.85" y2="474.8" stroke="#333" stroke-width="0.45"/>
<text x="291.35" y="479.6" font-size="3.3" text-anchor="middle" font-weight="bold" fill="#222" textLength="7.09" lengthAdjust="spacingAndGlyphs">100%</text>
<line x1="315.48" y1="473.3" x2="315.48" y2="474.8" stroke="#333" stroke-width="0.45"/>
<text x="315.98" y="479.6" font-size="3.3" text-anchor="middle" font-weight="bold" fill="#222" textLength="5.55" lengthAdjust="spacingAndGlyphs">80%</text>
<line x1="340.11" y1="473.3" x2="340.11" y2="474.8" stroke="#333" stroke-width="0.45"/>
<text x="340.61" y="479.6" font-size="3.3" text-anchor="middle" font-weight="bold" fill="#222" textLength="5.55" lengthAdjust="spacingAndGlyphs">60%</text>
<line x1="364.74" y1="473.3" x2="364.74" y2="474.8" stroke="#333" stroke-width="0.45"/>
<text x="365.24" y="479.6" font-size="3.3" text-anchor="middle" font-weight="bold" fill="#222" textLength="5.55" lengthAdjust="spacingAndGlyphs">40%</text>
<line x1="389.37" y1="473.3" x2="389.37" y2="474.8" stroke="#333" stroke-width="0.45"/>
<text x="389.87" y="479.6" font-size="3.3" text-anchor="middle" font-weight="bold" fill="#222" textLength="5.55" lengthAdjust="spacingAndGlyphs">20%</text>
<line x1="414" y1="473.3" x2="414" y2="474.8" stroke="#333" stroke-width="0.45"/>
<text x="414.5" y="479.6" font-size="3.3" text-anchor="middle" font-weight="bold" fill="#222" textLength="4.01" lengthAdjust="spacingAndGlyphs">0%</text>
<line x1="438.63" y1="473.3" x2="438.63" y2="474.8" stroke="#333" stroke-width="0.45"/>
<text x="439.13" y="479.6" font-size="3.3" text-anchor="middle" font-weight="bold" fill="#222" textLength="5.55" lengthAdjust="spacingAndGlyphs">20%</text>
<line x1="463.26" y1="473.3" x2="463.26" y2="474.8" stroke="#333" stroke-width="0.45"/>
<text x="463.76" y="479.6" font-size="3.3" text-anchor="middle" font-weight="bold" fill="#222" textLength="5.55" lengthAdjust="spacingAndGlyphs">40%</text>
<line x1="487.89" y1="473.3" x2="487.89" y2="474.8" stroke="#333" stroke-width="0.45"/>
<text x="488.39" y="479.6" font-size="3.3" text-anchor="middle" font-weight="bold" fill="#222" textLength="5.55" lengthAdjust="spacingAndGlyphs">60%</text>
<line x1="512.52" y1="473.3" x2="512.52" y2="474.8" stroke="#333" stroke-width="0.45"/>
<text x="513.02" y="479.6" font-size="3.3" text-anchor="middle" font-weight="bold" fill="#222" textLength="5.55" lengthAdjust="spacingAndGlyphs">80%</text>
<line x1="537.15" y1="473.3" x2="537.15" y2="474.8" stroke="#333" stroke-width="0.45"/>
<text x="537.65" y="479.6" font-size="3.3" text-anchor="middle" font-weight="bold" fill="#222" textLength="7.09" lengthAdjust="spacingAndGlyphs">100%</text>
<text x="145.8" y="490.6" font-size="6.6" text-anchor="middle" font-weight="bold" fill="#111" textLength="47.8" lengthAdjust="spacingAndGlyphs">Percent of cases</text>
<text x="409.85" y="490.5" font-size="6.6" text-anchor="middle" font-weight="bold" fill="#111" textLength="47.8" lengthAdjust="spacingAndGlyphs">Percent of cases</text>
<rect x="245.5" y="351.1" width="1.8" height="1.8" fill="#fde57a"/>
<text x="245.18" y="354.6" font-size="3.4" font-weight="bold" fill="#111" transform="rotate(90 245.18 354.6)">In_Frame_Del</text>
<rect x="252.3" y="351.1" width="1.8" height="1.8" fill="#b27cf7"/>
<text x="251.98" y="354.6" font-size="3.4" font-weight="bold" fill="#111" transform="rotate(90 251.98 354.6)">Frame_Shift_Ins</text>
<rect x="259.1" y="351.1" width="1.8" height="1.8" fill="#1f62e0"/>
<text x="258.78" y="354.6" font-size="3.4" font-weight="bold" fill="#111" transform="rotate(90 258.78 354.6)">Frame_Shift_Del</text>
<rect x="245.5" y="387.8" width="1.8" height="1.8" fill="#000000"/>
<text x="245.18" y="391.3" font-size="3.4" font-weight="bold" fill="#111" transform="rotate(90 245.18 391.3)">Multi_Hit</text>
<rect x="252.3" y="387.8" width="1.8" height="1.8" fill="#0a920a"/>
<text x="251.98" y="391.3" font-size="3.4" font-weight="bold" fill="#111" transform="rotate(90 251.98 391.3)">Missense_Mutation</text>
<rect x="259.1" y="387.8" width="1.8" height="1.8" fill="#a85a0c"/>
<text x="258.78" y="391.3" font-size="3.4" font-weight="bold" fill="#111" transform="rotate(90 258.78 391.3)">In_Frame_Ins</text>
<rect x="245.5" y="424.6" width="1.8" height="1.8" fill="#f59aa8"/>
<text x="245.18" y="428.1" font-size="3.4" font-weight="bold" fill="#111" transform="rotate(90 245.18 428.1)">Translation_Start_Site</text>
<rect x="252.3" y="424.6" width="1.8" height="1.8" fill="#ffa500"/>
<text x="251.98" y="428.1" font-size="3.4" font-weight="bold" fill="#111" transform="rotate(90 251.98 428.1)">Splice_Site</text>
<rect x="259.1" y="424.6" width="1.8" height="1.8" fill="#f80d0d"/>
<text x="258.78" y="428.1" font-size="3.4" font-weight="bold" fill="#111" transform="rotate(90 258.78 428.1)">Nonsense_Mutation</text>
<rect x="509.5" y="349.9" width="1.8" height="1.8" fill="#fde57a"/>
<text x="509.18" y="353.4" font-size="3.4" font-weight="bold" fill="#111" transform="rotate(90 509.18 353.4)">In_Frame_Del</text>
<rect x="516.5" y="349.9" width="1.8" height="1.8" fill="#b27cf7"/>
<text x="516.18" y="353.4" font-size="3.4" font-weight="bold" fill="#111" transform="rotate(90 516.18 353.4)">Frame_Shift_Ins</text>
<rect x="523.1" y="349.9" width="1.8" height="1.8" fill="#1f62e0"/>
<text x="522.78" y="353.4" font-size="3.4" font-weight="bold" fill="#111" transform="rotate(90 522.78 353.4)">Frame_Shift_Del</text>
<rect x="509.5" y="386.7" width="1.8" height="1.8" fill="#000000"/>
<text x="509.18" y="390.2" font-size="3.4" font-weight="bold" fill="#111" transform="rotate(90 509.18 390.2)">Multi_Hit</text>
<rect x="516.5" y="386.7" width="1.8" height="1.8" fill="#0a920a"/>
<text x="516.18" y="390.2" font-size="3.4" font-weight="bold" fill="#111" transform="rotate(90 516.18 390.2)">Missense_Mutation</text>
<rect x="523.1" y="386.7" width="1.8" height="1.8" fill="#a85a0c"/>
<text x="522.78" y="390.2" font-size="3.4" font-weight="bold" fill="#111" transform="rotate(90 522.78 390.2)">In_Frame_Ins</text>
<rect x="509.5" y="423.5" width="1.8" height="1.8" fill="#f59aa8"/>
<text x="509.18" y="427" font-size="3.4" font-weight="bold" fill="#111" transform="rotate(90 509.18 427)">Translation_Start_Site</text>
<rect x="516.5" y="423.5" width="1.8" height="1.8" fill="#ffa500"/>
<text x="516.18" y="427" font-size="3.4" font-weight="bold" fill="#111" transform="rotate(90 516.18 427)">Splice_Site</text>
<rect x="523.1" y="423.5" width="1.8" height="1.8" fill="#f80d0d"/>
<text x="522.78" y="427" font-size="3.4" font-weight="bold" fill="#111" transform="rotate(90 522.78 427)">Nonsense_Mutation</text>
</svg>
</body>
</html>
